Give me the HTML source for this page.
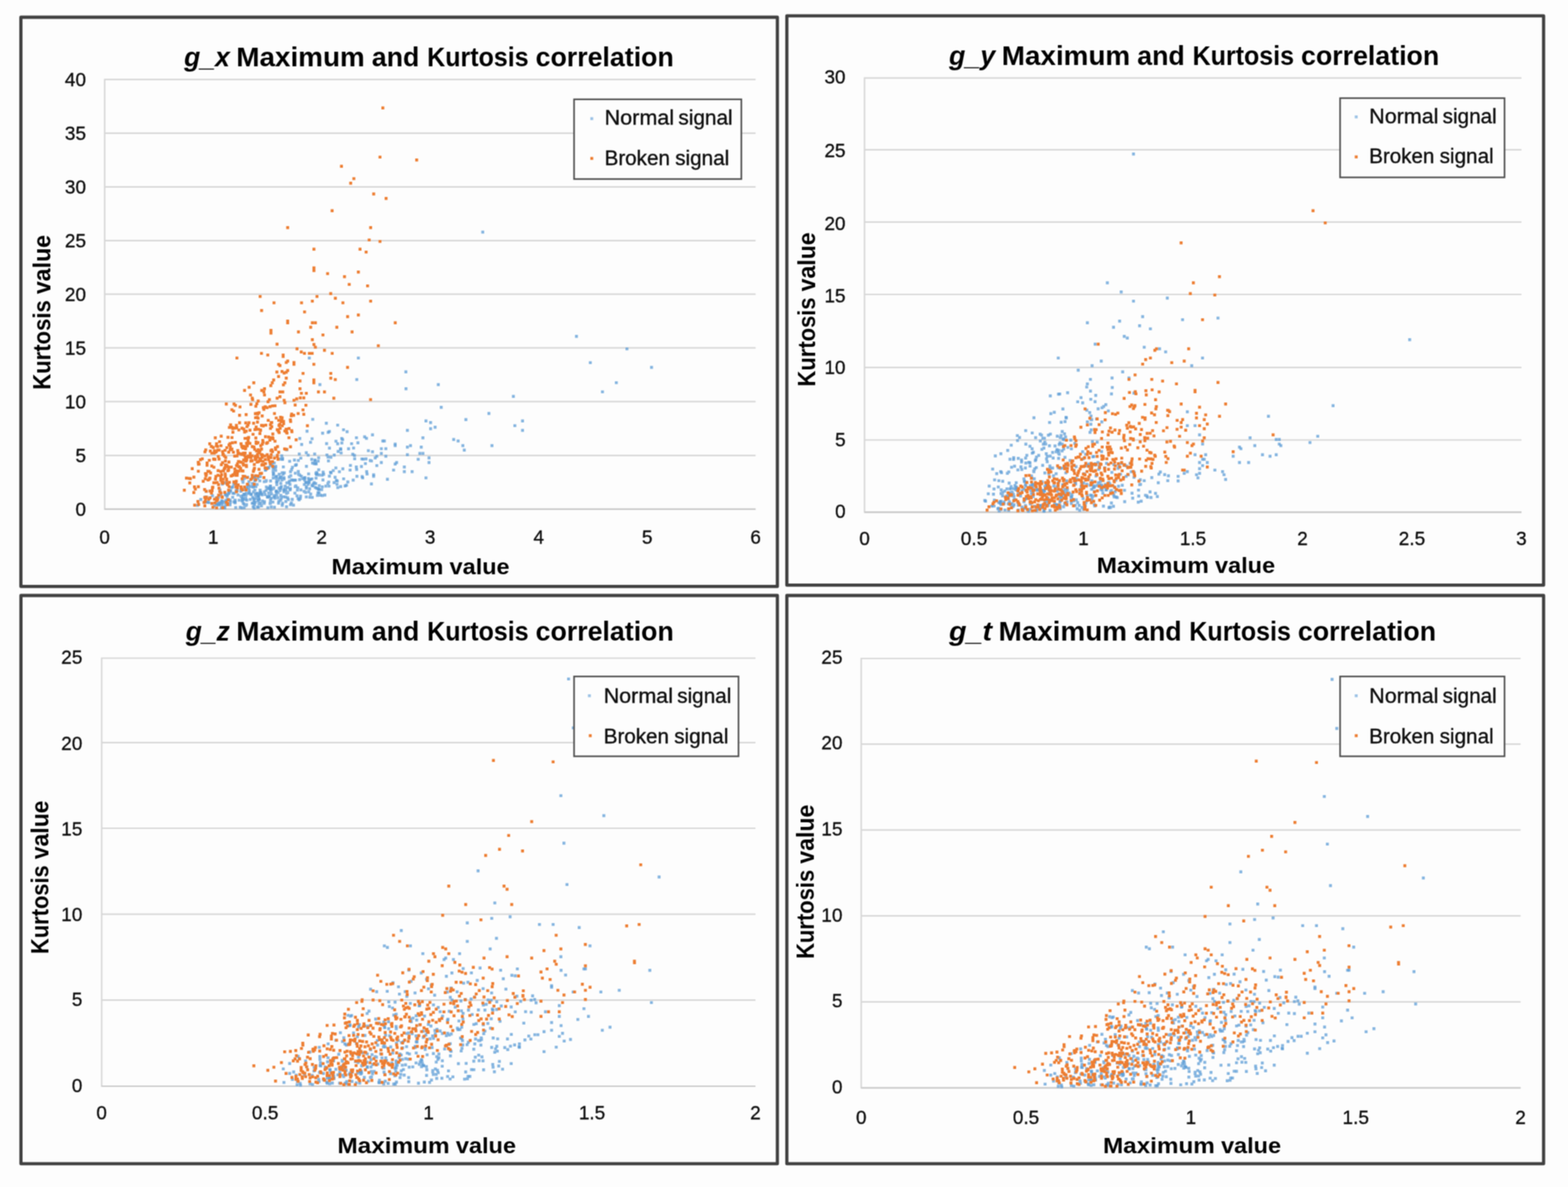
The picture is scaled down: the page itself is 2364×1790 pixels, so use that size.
<!DOCTYPE html>
<html lang="en"><head><meta charset="utf-8"><title>Maximum and Kurtosis correlation</title>
<style>html,body{margin:0;padding:0;background:#fdfdfd;}body{width:2364px;height:1790px;overflow:hidden;}svg{display:block;}text{font-family:'Liberation Sans', Arial, sans-serif;}.t{font-size:40px;font-weight:bold;fill:#000;}.a{font-size:34px;font-weight:bold;fill:#000;}.l{font-size:31px;fill:#0d0d0d;stroke:#0d0d0d;stroke-width:0.5px;}.k{font-size:30px;fill:#0d0d0d;stroke:#0d0d0d;stroke-width:0.45px;}</style></head><body>
<svg width="2364" height="1790" viewBox="0 0 2364 1790">
<defs><filter id="soft" x="0" y="0" width="2364" height="1790" filterUnits="userSpaceOnUse" color-interpolation-filters="sRGB"><feConvolveMatrix order="3" kernelMatrix="1 2 1 2 4 2 1 2 1" divisor="16" edgeMode="duplicate" preserveAlpha="true"/></filter></defs>
<g filter="url(#soft)">
<rect width="2364" height="1790" fill="#fdfdfd"/>
<g id="panel-g_x">
<rect x="31.5" y="26" width="1140.5" height="858.4" fill="#fdfdfd" stroke="#404040" stroke-width="4.8" stroke-linejoin="round"/>
<path d="M157.8 767.8H1139.2M157.8 686.8H1139.2M157.8 605.7H1139.2M157.8 524.7H1139.2M157.8 443.6H1139.2M157.8 362.8H1139.2M157.8 281.8H1139.2M157.8 200.8H1139.2M157.8 119.8H1139.2M157.8 118.7V768.9" stroke="#d6d6d6" stroke-width="2.2" fill="none"/>
<path d="M157.8 767.8H1139.2" stroke="#c8c8c8" stroke-width="2.2" fill="none"/>
<path fill="#5b9bd5" fill-opacity="0.74" d="M423.8 756.8h4.4v4.4h-4.4zM410.5 733.5h4.4v4.4h-4.4zM344.9 752.2h4.4v4.4h-4.4zM390.5 740.4h4.4v4.4h-4.4zM362 746.6h4.4v4.4h-4.4zM321 760.8h4.4v4.4h-4.4zM398.9 737.4h4.4v4.4h-4.4zM435.5 734.6h4.4v4.4h-4.4zM353.8 727.9h4.4v4.4h-4.4zM340 746.4h4.4v4.4h-4.4zM352.2 754.5h4.4v4.4h-4.4zM417.8 756.7h4.4v4.4h-4.4zM405.7 723h4.4v4.4h-4.4zM475.2 710.3h4.4v4.4h-4.4zM388.3 757.7h4.4v4.4h-4.4zM376.5 742.7h4.4v4.4h-4.4zM359.9 762.8h4.4v4.4h-4.4zM530.3 721.8h4.4v4.4h-4.4zM463.3 739.6h4.4v4.4h-4.4zM477.2 740.8h4.4v4.4h-4.4zM500.2 707.4h4.4v4.4h-4.4zM466.2 742.8h4.4v4.4h-4.4zM535.5 705.9h4.4v4.4h-4.4zM458.8 725.6h4.4v4.4h-4.4zM416.8 748.4h4.4v4.4h-4.4zM515.7 645.9h4.4v4.4h-4.4zM426.4 710.8h4.4v4.4h-4.4zM449.5 721h4.4v4.4h-4.4zM532.5 689.7h4.4v4.4h-4.4zM314.3 748.8h4.4v4.4h-4.4zM462.4 684.2h4.4v4.4h-4.4zM386.5 742.3h4.4v4.4h-4.4zM409.8 718.6h4.4v4.4h-4.4zM489.1 730.8h4.4v4.4h-4.4zM405.4 730.8h4.4v4.4h-4.4zM387.5 744.9h4.4v4.4h-4.4zM380.8 751.8h4.4v4.4h-4.4zM485.8 713h4.4v4.4h-4.4zM330.5 755.8h4.4v4.4h-4.4zM475.3 734.1h4.4v4.4h-4.4zM369.2 741.5h4.4v4.4h-4.4zM421.7 748.4h4.4v4.4h-4.4zM392.7 744.1h4.4v4.4h-4.4zM401.6 763.4h4.4v4.4h-4.4zM556 692.3h4.4v4.4h-4.4zM452.6 668h4.4v4.4h-4.4zM518.1 730.5h4.4v4.4h-4.4zM405.6 756.1h4.4v4.4h-4.4zM414.9 716.2h4.4v4.4h-4.4zM397.4 743.5h4.4v4.4h-4.4zM525.6 706.7h4.4v4.4h-4.4zM511.4 731.5h4.4v4.4h-4.4zM414.3 739h4.4v4.4h-4.4zM462.8 719.3h4.4v4.4h-4.4zM551.2 712.7h4.4v4.4h-4.4zM459.6 747.2h4.4v4.4h-4.4zM311 754.9h4.4v4.4h-4.4zM464.6 734.8h4.4v4.4h-4.4zM388.2 756.4h4.4v4.4h-4.4zM340.5 751.2h4.4v4.4h-4.4zM452.2 715.9h4.4v4.4h-4.4zM474.1 711.6h4.4v4.4h-4.4zM507.6 678.5h4.4v4.4h-4.4zM469 696.1h4.4v4.4h-4.4zM386.1 762.5h4.4v4.4h-4.4zM494.5 673.6h4.4v4.4h-4.4zM420.5 718.3h4.4v4.4h-4.4zM478.3 735.5h4.4v4.4h-4.4zM515.9 719.9h4.4v4.4h-4.4zM496.1 709.9h4.4v4.4h-4.4zM399.4 732.2h4.4v4.4h-4.4zM487.6 744.3h4.4v4.4h-4.4zM545.6 690.2h4.4v4.4h-4.4zM529.6 682.8h4.4v4.4h-4.4zM300.5 751.1h4.4v4.4h-4.4zM493.9 730.9h4.4v4.4h-4.4zM468.3 659.4h4.4v4.4h-4.4zM468.5 747.9h4.4v4.4h-4.4zM462.4 728.2h4.4v4.4h-4.4zM405 757h4.4v4.4h-4.4zM361.1 746h4.4v4.4h-4.4zM402.5 746.6h4.4v4.4h-4.4zM427.7 731h4.4v4.4h-4.4zM404.6 733.3h4.4v4.4h-4.4zM396.5 754.2h4.4v4.4h-4.4zM348.6 747.7h4.4v4.4h-4.4zM348.8 732.1h4.4v4.4h-4.4zM435 728.3h4.4v4.4h-4.4zM368.4 748.9h4.4v4.4h-4.4zM332.9 758.9h4.4v4.4h-4.4zM409.2 754.9h4.4v4.4h-4.4zM364.5 756.8h4.4v4.4h-4.4zM443.2 699.6h4.4v4.4h-4.4zM415 744.2h4.4v4.4h-4.4zM380.4 731.2h4.4v4.4h-4.4zM389.6 741.5h4.4v4.4h-4.4zM382.9 755.1h4.4v4.4h-4.4zM409.7 704.4h4.4v4.4h-4.4zM407 749h4.4v4.4h-4.4zM386.5 719.1h4.4v4.4h-4.4zM390 737h4.4v4.4h-4.4zM450.9 746.1h4.4v4.4h-4.4zM373.5 737.2h4.4v4.4h-4.4zM543.8 716.6h4.4v4.4h-4.4zM428.5 747.4h4.4v4.4h-4.4zM367.4 750.9h4.4v4.4h-4.4zM447.3 749.7h4.4v4.4h-4.4zM388.6 750.4h4.4v4.4h-4.4zM474.3 718.9h4.4v4.4h-4.4zM438.6 702.6h4.4v4.4h-4.4zM464.9 747.5h4.4v4.4h-4.4zM501.7 684.1h4.4v4.4h-4.4zM410.2 712h4.4v4.4h-4.4zM476.4 744.8h4.4v4.4h-4.4zM434.4 723.3h4.4v4.4h-4.4zM437.1 756.2h4.4v4.4h-4.4zM408.9 735h4.4v4.4h-4.4zM474.5 697.4h4.4v4.4h-4.4zM466.2 720.9h4.4v4.4h-4.4zM482.8 736.2h4.4v4.4h-4.4zM368.7 744.3h4.4v4.4h-4.4zM378.3 727.1h4.4v4.4h-4.4zM451.4 736.6h4.4v4.4h-4.4zM418.7 734h4.4v4.4h-4.4zM402.9 703.3h4.4v4.4h-4.4zM326.3 759.1h4.4v4.4h-4.4zM342.2 742.1h4.4v4.4h-4.4zM459.6 680.6h4.4v4.4h-4.4zM386.1 741.8h4.4v4.4h-4.4zM507.1 733.2h4.4v4.4h-4.4zM412.3 749.1h4.4v4.4h-4.4zM406.4 735.3h4.4v4.4h-4.4zM421.9 748.9h4.4v4.4h-4.4zM361 738.5h4.4v4.4h-4.4zM375.2 750.9h4.4v4.4h-4.4zM335.3 762.8h4.4v4.4h-4.4zM326 757.6h4.4v4.4h-4.4zM434.5 693.4h4.4v4.4h-4.4zM329.8 758.9h4.4v4.4h-4.4zM420.8 733.3h4.4v4.4h-4.4zM380.6 729.5h4.4v4.4h-4.4zM432.5 751.2h4.4v4.4h-4.4zM372.7 729.2h4.4v4.4h-4.4zM428.8 754.1h4.4v4.4h-4.4zM457.4 718h4.4v4.4h-4.4zM443 711.4h4.4v4.4h-4.4zM456.6 728.4h4.4v4.4h-4.4zM405.4 700h4.4v4.4h-4.4zM423.6 690.5h4.4v4.4h-4.4zM378.7 748h4.4v4.4h-4.4zM337.5 743.3h4.4v4.4h-4.4zM350.3 727.7h4.4v4.4h-4.4zM490.2 666.8h4.4v4.4h-4.4zM403.7 745.8h4.4v4.4h-4.4zM441.7 691.6h4.4v4.4h-4.4zM425.8 736.8h4.4v4.4h-4.4zM372.5 742.2h4.4v4.4h-4.4zM866.9 505.1h4.4v4.4h-4.4zM887.8 544.7h4.4v4.4h-4.4zM480.1 577.8h4.4v4.4h-4.4zM980.1 551.8h4.4v4.4h-4.4zM609.9 584.1h4.4v4.4h-4.4zM734.9 621.3h4.4v4.4h-4.4zM774 639.7h4.4v4.4h-4.4zM647 635.1h4.4v4.4h-4.4zM612 646.8h4.4v4.4h-4.4zM681.8 660.6h4.4v4.4h-4.4zM577.3 662.8h4.4v4.4h-4.4zM593.6 667.4h4.4v4.4h-4.4zM612 672h4.4v4.4h-4.4zM579.5 674.4h4.4v4.4h-4.4zM572.7 681.5h4.4v4.4h-4.4zM612 683.6h4.4v4.4h-4.4zM563.5 688.3h4.4v4.4h-4.4zM557.8 692.9h4.4v4.4h-4.4zM595.8 695.3h4.4v4.4h-4.4zM607.4 702.1h4.4v4.4h-4.4zM619.1 709.1h4.4v4.4h-4.4zM640 718.4h4.4v4.4h-4.4z"/><path fill="#5b9bd5" fill-opacity="0.74" d="M364.2 725.1h4.4v4.4h-4.4zM439.6 722h4.4v4.4h-4.4zM361.5 735.1h4.4v4.4h-4.4zM407.8 698h4.4v4.4h-4.4zM472.9 692.9h4.4v4.4h-4.4zM503 717.5h4.4v4.4h-4.4zM429.9 741.9h4.4v4.4h-4.4zM484.7 721.5h4.4v4.4h-4.4zM373.8 740.6h4.4v4.4h-4.4zM505.9 728.2h4.4v4.4h-4.4zM468.1 719.9h4.4v4.4h-4.4zM526.1 699.7h4.4v4.4h-4.4zM384.8 742.1h4.4v4.4h-4.4zM543.4 689.9h4.4v4.4h-4.4zM463 724.6h4.4v4.4h-4.4zM338.7 758.4h4.4v4.4h-4.4zM478.8 736.2h4.4v4.4h-4.4zM504.3 663.2h4.4v4.4h-4.4zM338.1 759.4h4.4v4.4h-4.4zM448 713.1h4.4v4.4h-4.4zM392 760.5h4.4v4.4h-4.4zM338.2 752.6h4.4v4.4h-4.4zM356.6 744.2h4.4v4.4h-4.4zM398.3 706.4h4.4v4.4h-4.4zM548.7 696.9h4.4v4.4h-4.4zM550.3 658.8h4.4v4.4h-4.4zM414.7 724.7h4.4v4.4h-4.4zM473.8 727h4.4v4.4h-4.4zM423.2 710.8h4.4v4.4h-4.4zM338.1 726.1h4.4v4.4h-4.4zM423.8 688.9h4.4v4.4h-4.4zM399.3 722.4h4.4v4.4h-4.4zM421.2 744.7h4.4v4.4h-4.4zM424.5 712.9h4.4v4.4h-4.4zM370 752h4.4v4.4h-4.4zM365.9 763.4h4.4v4.4h-4.4zM336.8 763.5h4.4v4.4h-4.4zM513.2 665.8h4.4v4.4h-4.4zM431.6 733.1h4.4v4.4h-4.4zM459.8 701h4.4v4.4h-4.4zM473.1 732.9h4.4v4.4h-4.4zM345.3 738h4.4v4.4h-4.4zM369.5 758.8h4.4v4.4h-4.4zM446.2 736.8h4.4v4.4h-4.4zM480.6 744.6h4.4v4.4h-4.4zM383 721.6h4.4v4.4h-4.4zM484.2 651h4.4v4.4h-4.4zM429.3 738.9h4.4v4.4h-4.4zM398.6 723.7h4.4v4.4h-4.4zM364.3 720.3h4.4v4.4h-4.4zM391.9 742.5h4.4v4.4h-4.4zM535.9 716.1h4.4v4.4h-4.4zM496.7 687.3h4.4v4.4h-4.4zM404.6 735.1h4.4v4.4h-4.4zM443.2 721.9h4.4v4.4h-4.4zM344.6 759.1h4.4v4.4h-4.4zM506.3 723.2h4.4v4.4h-4.4zM522.2 724.5h4.4v4.4h-4.4zM344.5 737.9h4.4v4.4h-4.4zM421 735h4.4v4.4h-4.4zM396.2 739.6h4.4v4.4h-4.4zM368.4 760.2h4.4v4.4h-4.4zM355.5 737.9h4.4v4.4h-4.4zM364.4 745.3h4.4v4.4h-4.4zM389.5 722.9h4.4v4.4h-4.4zM431.5 748.5h4.4v4.4h-4.4zM365.2 718.6h4.4v4.4h-4.4zM383.6 731.7h4.4v4.4h-4.4zM378.1 756.7h4.4v4.4h-4.4zM381.6 717.2h4.4v4.4h-4.4zM506.9 638.9h4.4v4.4h-4.4zM449.7 714.3h4.4v4.4h-4.4zM396.2 724.2h4.4v4.4h-4.4zM380.1 739.5h4.4v4.4h-4.4zM448.7 751.6h4.4v4.4h-4.4zM459.8 731.4h4.4v4.4h-4.4zM308.8 738.8h4.4v4.4h-4.4zM348.9 741.7h4.4v4.4h-4.4zM470.3 727.8h4.4v4.4h-4.4zM421 752.2h4.4v4.4h-4.4zM478.9 714h4.4v4.4h-4.4zM341 726.4h4.4v4.4h-4.4zM501.5 725.5h4.4v4.4h-4.4zM535.2 657.9h4.4v4.4h-4.4zM413.6 701.3h4.4v4.4h-4.4zM411.8 745.1h4.4v4.4h-4.4zM387 752.6h4.4v4.4h-4.4zM425.9 718.2h4.4v4.4h-4.4zM456.8 719h4.4v4.4h-4.4zM435.8 709.1h4.4v4.4h-4.4zM327.2 747.5h4.4v4.4h-4.4zM371.6 730.8h4.4v4.4h-4.4zM478.3 706.2h4.4v4.4h-4.4zM431.7 740.5h4.4v4.4h-4.4zM426 739.4h4.4v4.4h-4.4zM514.7 704.8h4.4v4.4h-4.4zM458.5 740.3h4.4v4.4h-4.4zM496.9 710.9h4.4v4.4h-4.4zM475.1 713.8h4.4v4.4h-4.4zM362.7 763.7h4.4v4.4h-4.4zM494.4 715.8h4.4v4.4h-4.4zM437.4 706.1h4.4v4.4h-4.4zM387.7 743.6h4.4v4.4h-4.4zM438.3 751h4.4v4.4h-4.4zM401.5 747.7h4.4v4.4h-4.4zM423.8 689.5h4.4v4.4h-4.4zM327.6 758.9h4.4v4.4h-4.4zM401.2 734.8h4.4v4.4h-4.4zM492.6 649.8h4.4v4.4h-4.4zM419.9 737.7h4.4v4.4h-4.4zM456.3 738.8h4.4v4.4h-4.4zM363.6 751.6h4.4v4.4h-4.4zM396.1 756.9h4.4v4.4h-4.4zM418.7 713.1h4.4v4.4h-4.4zM363.5 722.3h4.4v4.4h-4.4zM483.8 731.9h4.4v4.4h-4.4zM308.1 755.2h4.4v4.4h-4.4zM446.8 733.4h4.4v4.4h-4.4zM542.7 701.3h4.4v4.4h-4.4zM324.1 752.1h4.4v4.4h-4.4zM387.2 746.1h4.4v4.4h-4.4zM514.4 660.7h4.4v4.4h-4.4zM478.9 741.2h4.4v4.4h-4.4zM447.5 708.7h4.4v4.4h-4.4zM411.5 762.8h4.4v4.4h-4.4zM511.3 674.5h4.4v4.4h-4.4zM473.6 696h4.4v4.4h-4.4zM550.6 709.1h4.4v4.4h-4.4zM532.2 684.5h4.4v4.4h-4.4zM467.8 690.6h4.4v4.4h-4.4zM438.4 750.8h4.4v4.4h-4.4zM358.4 752.2h4.4v4.4h-4.4zM366.1 743h4.4v4.4h-4.4zM444.6 698.6h4.4v4.4h-4.4zM422 731.4h4.4v4.4h-4.4zM366.3 719.1h4.4v4.4h-4.4zM366.3 758.6h4.4v4.4h-4.4zM414.7 740.1h4.4v4.4h-4.4zM381.2 764.2h4.4v4.4h-4.4zM376.5 743.7h4.4v4.4h-4.4zM332.9 754.1h4.4v4.4h-4.4zM391.3 756.4h4.4v4.4h-4.4zM352.2 756h4.4v4.4h-4.4zM381.6 759h4.4v4.4h-4.4zM489.8 636h4.4v4.4h-4.4zM451.3 688.7h4.4v4.4h-4.4zM372.5 733.8h4.4v4.4h-4.4zM379.5 732.4h4.4v4.4h-4.4zM393.3 753.2h4.4v4.4h-4.4zM422.6 685.3h4.4v4.4h-4.4zM364.5 750h4.4v4.4h-4.4zM385.4 728.4h4.4v4.4h-4.4zM417.3 740.3h4.4v4.4h-4.4zM509.5 709.2h4.4v4.4h-4.4zM382 737h4.4v4.4h-4.4zM469.8 730.6h4.4v4.4h-4.4zM553.2 677.4h4.4v4.4h-4.4zM464.1 537.7h4.4v4.4h-4.4zM609.7 558.5h4.4v4.4h-4.4zM658.6 577.8h4.4v4.4h-4.4zM927 574.9h4.4v4.4h-4.4zM771.8 595.5h4.4v4.4h-4.4zM700.2 630.5h4.4v4.4h-4.4zM785.6 646.8h4.4v4.4h-4.4zM653.8 642.1h4.4v4.4h-4.4zM559.4 653.5h4.4v4.4h-4.4zM688.5 662.8h4.4v4.4h-4.4zM695.6 669.8h4.4v4.4h-4.4zM593.6 669.8h4.4v4.4h-4.4zM632.9 672h4.4v4.4h-4.4zM697.8 676.6h4.4v4.4h-4.4zM630.8 681.5h4.4v4.4h-4.4zM579.5 685.8h4.4v4.4h-4.4zM644.6 688.3h4.4v4.4h-4.4zM572.7 695.3h4.4v4.4h-4.4zM593.6 697.5h4.4v4.4h-4.4zM591.2 706.7h4.4v4.4h-4.4zM561.1 713.7h4.4v4.4h-4.4zM581.9 720.5h4.4v4.4h-4.4z"/><path fill="#5b9bd5" fill-opacity="0.74" d="M405.4 731.3h4.4v4.4h-4.4zM469.3 630.2h4.4v4.4h-4.4zM426 720.2h4.4v4.4h-4.4zM403.4 746.9h4.4v4.4h-4.4zM466 664.8h4.4v4.4h-4.4zM415.2 728.6h4.4v4.4h-4.4zM537.4 665.5h4.4v4.4h-4.4zM472.2 682.4h4.4v4.4h-4.4zM493.4 724.7h4.4v4.4h-4.4zM363 749.9h4.4v4.4h-4.4zM351 741.8h4.4v4.4h-4.4zM477.5 734.9h4.4v4.4h-4.4zM338.3 744.1h4.4v4.4h-4.4zM381.8 717h4.4v4.4h-4.4zM411.2 695.9h4.4v4.4h-4.4zM387.4 762.4h4.4v4.4h-4.4zM405.8 738.3h4.4v4.4h-4.4zM449.8 659.1h4.4v4.4h-4.4zM417.7 719.9h4.4v4.4h-4.4zM457.1 721.9h4.4v4.4h-4.4zM433.9 717h4.4v4.4h-4.4zM523.3 674.5h4.4v4.4h-4.4zM460.7 648.1h4.4v4.4h-4.4zM328.4 756.1h4.4v4.4h-4.4zM483.8 745.1h4.4v4.4h-4.4zM382.6 743.3h4.4v4.4h-4.4zM345.1 755.1h4.4v4.4h-4.4zM430.2 676.1h4.4v4.4h-4.4zM345 738h4.4v4.4h-4.4zM420.2 717.8h4.4v4.4h-4.4zM387.7 747.1h4.4v4.4h-4.4zM449 682.4h4.4v4.4h-4.4zM406.6 762.3h4.4v4.4h-4.4zM430.3 726h4.4v4.4h-4.4zM442.1 721.8h4.4v4.4h-4.4zM373.1 724.3h4.4v4.4h-4.4zM350.5 754.5h4.4v4.4h-4.4zM365.6 743.4h4.4v4.4h-4.4zM432.7 725.6h4.4v4.4h-4.4zM468.1 729.8h4.4v4.4h-4.4zM442.9 731.7h4.4v4.4h-4.4zM330.7 743.9h4.4v4.4h-4.4zM411.1 702.3h4.4v4.4h-4.4zM454.2 719.7h4.4v4.4h-4.4zM414.4 738.2h4.4v4.4h-4.4zM436.2 715.2h4.4v4.4h-4.4zM406.2 737.8h4.4v4.4h-4.4zM428.5 735.4h4.4v4.4h-4.4zM421.6 717h4.4v4.4h-4.4zM353.2 763.2h4.4v4.4h-4.4zM472.6 691.5h4.4v4.4h-4.4zM363 753.3h4.4v4.4h-4.4zM442.4 741.4h4.4v4.4h-4.4zM443.9 730.5h4.4v4.4h-4.4zM323.6 748.8h4.4v4.4h-4.4zM483.3 714.4h4.4v4.4h-4.4zM492.2 726.9h4.4v4.4h-4.4zM464 725.3h4.4v4.4h-4.4zM411.1 747.2h4.4v4.4h-4.4zM471.4 725.6h4.4v4.4h-4.4zM346.7 733.2h4.4v4.4h-4.4zM419.6 690.1h4.4v4.4h-4.4zM421.1 726.6h4.4v4.4h-4.4zM382 722.9h4.4v4.4h-4.4zM383.8 746.9h4.4v4.4h-4.4zM492.5 686.9h4.4v4.4h-4.4zM307.3 747.3h4.4v4.4h-4.4zM404.9 734.1h4.4v4.4h-4.4zM485 709.8h4.4v4.4h-4.4zM379.7 756.9h4.4v4.4h-4.4zM475.7 712.1h4.4v4.4h-4.4zM390.2 716.5h4.4v4.4h-4.4zM406 734.7h4.4v4.4h-4.4zM371.3 717.4h4.4v4.4h-4.4zM414.5 719.7h4.4v4.4h-4.4zM413.6 716.8h4.4v4.4h-4.4zM332.2 753.1h4.4v4.4h-4.4zM380.7 749.7h4.4v4.4h-4.4zM435.1 736.6h4.4v4.4h-4.4zM530.9 673.4h4.4v4.4h-4.4zM324 758.4h4.4v4.4h-4.4zM493 692.9h4.4v4.4h-4.4zM512.1 680.9h4.4v4.4h-4.4zM459.7 734h4.4v4.4h-4.4zM352.2 752.1h4.4v4.4h-4.4zM409.9 713.5h4.4v4.4h-4.4zM463.1 712.4h4.4v4.4h-4.4zM423 721.5h4.4v4.4h-4.4zM329.4 736.8h4.4v4.4h-4.4zM504.9 722.3h4.4v4.4h-4.4zM511.5 675.5h4.4v4.4h-4.4zM437.6 721.6h4.4v4.4h-4.4zM425.4 746.9h4.4v4.4h-4.4zM376.1 731.6h4.4v4.4h-4.4zM477.5 693.2h4.4v4.4h-4.4zM388.3 751.2h4.4v4.4h-4.4zM403.8 733.7h4.4v4.4h-4.4zM403 741.3h4.4v4.4h-4.4zM340.7 744.2h4.4v4.4h-4.4zM343 741.3h4.4v4.4h-4.4zM329.6 756.6h4.4v4.4h-4.4zM390.7 740h4.4v4.4h-4.4zM342.6 751.2h4.4v4.4h-4.4zM478.2 688.2h4.4v4.4h-4.4zM492.4 687.2h4.4v4.4h-4.4zM379.5 762h4.4v4.4h-4.4zM409.6 708.8h4.4v4.4h-4.4zM429.8 762h4.4v4.4h-4.4zM459.1 725.3h4.4v4.4h-4.4zM417.8 721.6h4.4v4.4h-4.4zM377 719.9h4.4v4.4h-4.4zM353.8 737.5h4.4v4.4h-4.4zM397.9 706.9h4.4v4.4h-4.4zM549.6 689.8h4.4v4.4h-4.4zM331.6 763.4h4.4v4.4h-4.4zM413.4 707.2h4.4v4.4h-4.4zM400.8 746.8h4.4v4.4h-4.4zM506.9 667.1h4.4v4.4h-4.4zM367.3 736.4h4.4v4.4h-4.4zM415.6 723.9h4.4v4.4h-4.4zM521.1 648.8h4.4v4.4h-4.4zM423.3 759.8h4.4v4.4h-4.4zM333 727.9h4.4v4.4h-4.4zM547.5 656.5h4.4v4.4h-4.4zM450.5 749.5h4.4v4.4h-4.4zM312.7 755.7h4.4v4.4h-4.4zM535 702h4.4v4.4h-4.4zM479.2 730.3h4.4v4.4h-4.4zM544.6 718.4h4.4v4.4h-4.4zM447.5 692.2h4.4v4.4h-4.4zM336.1 755.1h4.4v4.4h-4.4zM412.8 704.8h4.4v4.4h-4.4zM490.7 683.9h4.4v4.4h-4.4zM527.9 666.9h4.4v4.4h-4.4zM401.8 703.1h4.4v4.4h-4.4zM405.6 751.7h4.4v4.4h-4.4zM426.9 735.4h4.4v4.4h-4.4zM513 659h4.4v4.4h-4.4zM332.3 755.6h4.4v4.4h-4.4zM520.2 729.5h4.4v4.4h-4.4zM380.7 754.7h4.4v4.4h-4.4zM445.6 745.6h4.4v4.4h-4.4zM471.7 697.2h4.4v4.4h-4.4zM494.4 648.4h4.4v4.4h-4.4zM369.5 733.5h4.4v4.4h-4.4zM504.2 703.4h4.4v4.4h-4.4zM440.3 759.5h4.4v4.4h-4.4zM318.1 745.3h4.4v4.4h-4.4zM435.8 758.8h4.4v4.4h-4.4zM464.2 721.4h4.4v4.4h-4.4zM384.7 749.5h4.4v4.4h-4.4zM343.6 740.2h4.4v4.4h-4.4zM295.6 759.9h4.4v4.4h-4.4zM407.1 742.8h4.4v4.4h-4.4zM418.2 753.6h4.4v4.4h-4.4zM425 701.9h4.4v4.4h-4.4zM725.6 347.8h4.4v4.4h-4.4zM538.1 537.7h4.4v4.4h-4.4zM535.7 570.2h4.4v4.4h-4.4zM943 523.9h4.4v4.4h-4.4zM906.1 588.7h4.4v4.4h-4.4zM663 612h4.4v4.4h-4.4zM785.6 632.6h4.4v4.4h-4.4zM640 632.6h4.4v4.4h-4.4zM647 644.3h4.4v4.4h-4.4zM635.4 658.1h4.4v4.4h-4.4zM574.9 662.8h4.4v4.4h-4.4zM739.5 669.8h4.4v4.4h-4.4zM616.7 669.8h4.4v4.4h-4.4zM572.7 674.4h4.4v4.4h-4.4zM559.4 679h4.4v4.4h-4.4zM635.4 681.5h4.4v4.4h-4.4zM565.9 685.8h4.4v4.4h-4.4zM628.3 690.4h4.4v4.4h-4.4zM644.6 695.3h4.4v4.4h-4.4zM565.9 699.9h4.4v4.4h-4.4zM607.4 709.1h4.4v4.4h-4.4zM561.1 716.2h4.4v4.4h-4.4zM557.8 727.6h4.4v4.4h-4.4z"/>
<path fill="#ed7d31" d="M331.3 655.5h4.4v4.4h-4.4zM406.6 683.4h4.4v4.4h-4.4zM347.4 615.7h4.4v4.4h-4.4zM397.1 685.4h4.4v4.4h-4.4zM324.4 753h4.4v4.4h-4.4zM284.8 719.6h4.4v4.4h-4.4zM390 711.8h4.4v4.4h-4.4zM430.5 650.9h4.4v4.4h-4.4zM316.5 741.3h4.4v4.4h-4.4zM361.2 667h4.4v4.4h-4.4zM341.4 707.7h4.4v4.4h-4.4zM352.8 727.2h4.4v4.4h-4.4zM306.5 748h4.4v4.4h-4.4zM356.6 681.8h4.4v4.4h-4.4zM308 676.2h4.4v4.4h-4.4zM390.5 689.2h4.4v4.4h-4.4zM342.9 694.5h4.4v4.4h-4.4zM307.8 749.6h4.4v4.4h-4.4zM376.1 687.9h4.4v4.4h-4.4zM334.6 707.8h4.4v4.4h-4.4zM331.5 698.5h4.4v4.4h-4.4zM336.9 703.6h4.4v4.4h-4.4zM370.7 728h4.4v4.4h-4.4zM359.6 611.4h4.4v4.4h-4.4zM414.3 628.2h4.4v4.4h-4.4zM362.7 707.8h4.4v4.4h-4.4zM345.1 671.4h4.4v4.4h-4.4zM368.9 623.1h4.4v4.4h-4.4zM333.4 678.8h4.4v4.4h-4.4zM402.1 686.6h4.4v4.4h-4.4zM328 734.1h4.4v4.4h-4.4zM397.8 690.8h4.4v4.4h-4.4zM373.2 635.3h4.4v4.4h-4.4zM371.6 638.7h4.4v4.4h-4.4zM364.7 681.3h4.4v4.4h-4.4zM311.5 721.7h4.4v4.4h-4.4zM314.9 678.1h4.4v4.4h-4.4zM310 699.3h4.4v4.4h-4.4zM347.5 657.7h4.4v4.4h-4.4zM395.7 718h4.4v4.4h-4.4zM417 690.3h4.4v4.4h-4.4zM307.3 719.9h4.4v4.4h-4.4zM318.1 733.1h4.4v4.4h-4.4zM341 757.1h4.4v4.4h-4.4zM351.6 685.6h4.4v4.4h-4.4zM423.1 627.8h4.4v4.4h-4.4zM435.6 631.1h4.4v4.4h-4.4zM407.5 635.1h4.4v4.4h-4.4zM322.6 720.3h4.4v4.4h-4.4zM369.8 690.8h4.4v4.4h-4.4zM305.4 755.4h4.4v4.4h-4.4zM342.4 702.6h4.4v4.4h-4.4zM387 628.4h4.4v4.4h-4.4zM341.1 758.8h4.4v4.4h-4.4zM332.6 725h4.4v4.4h-4.4zM379.3 652.7h4.4v4.4h-4.4zM409 701h4.4v4.4h-4.4zM364.4 715.9h4.4v4.4h-4.4zM379.8 708.6h4.4v4.4h-4.4zM365.3 644.8h4.4v4.4h-4.4zM328.1 676.6h4.4v4.4h-4.4zM374.7 646.5h4.4v4.4h-4.4zM363.3 736.6h4.4v4.4h-4.4zM351.2 712.6h4.4v4.4h-4.4zM367.9 674.5h4.4v4.4h-4.4zM387.5 645.2h4.4v4.4h-4.4zM336.7 740.3h4.4v4.4h-4.4zM314.3 718.8h4.4v4.4h-4.4zM406.3 677.4h4.4v4.4h-4.4zM324.1 678.4h4.4v4.4h-4.4zM356.3 677.3h4.4v4.4h-4.4zM342.6 679.6h4.4v4.4h-4.4zM416 684.5h4.4v4.4h-4.4zM306.8 679.2h4.4v4.4h-4.4zM459 608.9h4.4v4.4h-4.4zM334.4 683.1h4.4v4.4h-4.4zM384.3 685.8h4.4v4.4h-4.4zM366.9 716.2h4.4v4.4h-4.4zM334.3 725.2h4.4v4.4h-4.4zM386.8 665.3h4.4v4.4h-4.4zM420.8 627h4.4v4.4h-4.4zM419.7 637.5h4.4v4.4h-4.4zM352 710.1h4.4v4.4h-4.4zM383.1 627.7h4.4v4.4h-4.4zM362.3 670.4h4.4v4.4h-4.4zM321.6 725.9h4.4v4.4h-4.4zM326 671.1h4.4v4.4h-4.4zM361.5 734.4h4.4v4.4h-4.4zM349 649.6h4.4v4.4h-4.4zM330.7 716h4.4v4.4h-4.4zM408.7 609.9h4.4v4.4h-4.4zM330.6 720h4.4v4.4h-4.4zM421.9 633.5h4.4v4.4h-4.4zM380.2 636h4.4v4.4h-4.4zM389.4 690.5h4.4v4.4h-4.4zM339.3 699.4h4.4v4.4h-4.4zM366.5 732.2h4.4v4.4h-4.4zM394.4 693.4h4.4v4.4h-4.4zM376.1 693.1h4.4v4.4h-4.4zM429.2 645h4.4v4.4h-4.4zM327.4 744.4h4.4v4.4h-4.4zM389 679.2h4.4v4.4h-4.4zM345.5 638.5h4.4v4.4h-4.4zM353.5 732.1h4.4v4.4h-4.4zM354.4 699.9h4.4v4.4h-4.4zM319.3 672.5h4.4v4.4h-4.4zM369.5 666.3h4.4v4.4h-4.4zM351.9 643.3h4.4v4.4h-4.4zM337.4 716.7h4.4v4.4h-4.4zM436.9 624.9h4.4v4.4h-4.4zM385.7 621.1h4.4v4.4h-4.4zM394.8 612.6h4.4v4.4h-4.4zM328.8 663.9h4.4v4.4h-4.4zM427.3 647.7h4.4v4.4h-4.4zM437.6 647.2h4.4v4.4h-4.4zM372.7 657.6h4.4v4.4h-4.4zM409.1 652.3h4.4v4.4h-4.4zM343.6 725.2h4.4v4.4h-4.4zM378.2 671.3h4.4v4.4h-4.4zM368.8 736.6h4.4v4.4h-4.4zM405 611.1h4.4v4.4h-4.4zM357.7 681.2h4.4v4.4h-4.4zM408.6 678.9h4.4v4.4h-4.4zM357.9 646.2h4.4v4.4h-4.4zM335.9 704.7h4.4v4.4h-4.4zM412.4 609.7h4.4v4.4h-4.4zM374.6 666.4h4.4v4.4h-4.4zM461.3 639.8h4.4v4.4h-4.4zM283.9 726.1h4.4v4.4h-4.4zM376.1 607.5h4.4v4.4h-4.4zM353.6 707.8h4.4v4.4h-4.4zM358 708.2h4.4v4.4h-4.4zM326.9 686.2h4.4v4.4h-4.4zM397.6 611.3h4.4v4.4h-4.4zM392.1 675.1h4.4v4.4h-4.4zM320.9 681h4.4v4.4h-4.4zM371.8 661.1h4.4v4.4h-4.4zM338.1 687.8h4.4v4.4h-4.4zM386 683.3h4.4v4.4h-4.4zM355.3 714.6h4.4v4.4h-4.4zM371.3 666.1h4.4v4.4h-4.4zM388.4 620.2h4.4v4.4h-4.4zM368.3 672.9h4.4v4.4h-4.4zM372.3 665.6h4.4v4.4h-4.4zM314.4 738.3h4.4v4.4h-4.4zM387.7 679.6h4.4v4.4h-4.4zM382.6 690.8h4.4v4.4h-4.4zM383.9 665.9h4.4v4.4h-4.4zM337.5 715.2h4.4v4.4h-4.4zM353.8 714.7h4.4v4.4h-4.4zM287.6 704.5h4.4v4.4h-4.4zM388.3 705.6h4.4v4.4h-4.4zM349.7 679.7h4.4v4.4h-4.4zM413.4 675.6h4.4v4.4h-4.4zM342.4 706.7h4.4v4.4h-4.4zM386 634.3h4.4v4.4h-4.4zM367.3 681h4.4v4.4h-4.4zM314 667h4.4v4.4h-4.4zM447.3 621.4h4.4v4.4h-4.4zM306.6 760.6h4.4v4.4h-4.4zM360.2 703.9h4.4v4.4h-4.4zM420.2 643.8h4.4v4.4h-4.4zM367.2 658.9h4.4v4.4h-4.4zM364.3 696.6h4.4v4.4h-4.4zM422.8 631.7h4.4v4.4h-4.4zM377.8 692.6h4.4v4.4h-4.4zM339.8 672.9h4.4v4.4h-4.4zM421 631.9h4.4v4.4h-4.4zM406.7 634.9h4.4v4.4h-4.4zM409.3 659.6h4.4v4.4h-4.4zM370.6 717.9h4.4v4.4h-4.4zM336.1 685.4h4.4v4.4h-4.4zM357.3 693.8h4.4v4.4h-4.4zM394.6 640h4.4v4.4h-4.4zM352.7 664.9h4.4v4.4h-4.4zM406.5 658h4.4v4.4h-4.4zM383.9 664.2h4.4v4.4h-4.4zM433.6 644h4.4v4.4h-4.4zM405.5 697.1h4.4v4.4h-4.4zM370.8 667.6h4.4v4.4h-4.4zM329.1 739.2h4.4v4.4h-4.4zM362.6 643.6h4.4v4.4h-4.4zM404.6 694.3h4.4v4.4h-4.4zM382.2 645.6h4.4v4.4h-4.4zM454.6 615.9h4.4v4.4h-4.4zM318.8 762.7h4.4v4.4h-4.4zM383.1 686.1h4.4v4.4h-4.4zM313.4 691.9h4.4v4.4h-4.4zM291.3 759.5h4.4v4.4h-4.4zM310 695.9h4.4v4.4h-4.4zM354.3 739.3h4.4v4.4h-4.4zM316.7 740.3h4.4v4.4h-4.4zM326 751.2h4.4v4.4h-4.4zM354 723.6h4.4v4.4h-4.4zM393.3 698.2h4.4v4.4h-4.4zM378.1 714.6h4.4v4.4h-4.4zM384.4 666.6h4.4v4.4h-4.4zM433.4 657.9h4.4v4.4h-4.4zM306.3 736h4.4v4.4h-4.4zM368.3 635.6h4.4v4.4h-4.4zM348.9 714.5h4.4v4.4h-4.4zM302.8 689.7h4.4v4.4h-4.4zM300.1 691.1h4.4v4.4h-4.4zM380.7 706.2h4.4v4.4h-4.4zM383.4 721.2h4.4v4.4h-4.4zM395.4 698.6h4.4v4.4h-4.4zM296.7 695.1h4.4v4.4h-4.4zM435.8 671.6h4.4v4.4h-4.4zM390.7 646.8h4.4v4.4h-4.4zM381.1 728h4.4v4.4h-4.4zM339.4 720.3h4.4v4.4h-4.4zM408.7 693.9h4.4v4.4h-4.4zM333.9 683.3h4.4v4.4h-4.4zM296.2 754h4.4v4.4h-4.4zM317.6 737.6h4.4v4.4h-4.4zM399.7 666.3h4.4v4.4h-4.4zM442.8 608.5h4.4v4.4h-4.4zM369.4 701.3h4.4v4.4h-4.4zM309 712.8h4.4v4.4h-4.4zM371.6 658.6h4.4v4.4h-4.4zM386.3 686.8h4.4v4.4h-4.4zM360.6 704.6h4.4v4.4h-4.4zM425.3 633.2h4.4v4.4h-4.4zM345 676h4.4v4.4h-4.4zM455.8 622.6h4.4v4.4h-4.4zM343.6 642.4h4.4v4.4h-4.4zM323.3 716.3h4.4v4.4h-4.4zM367.9 686.9h4.4v4.4h-4.4zM382.5 688.1h4.4v4.4h-4.4zM326.2 676.5h4.4v4.4h-4.4zM369.1 699.4h4.4v4.4h-4.4zM331.9 713.6h4.4v4.4h-4.4zM355.3 700.1h4.4v4.4h-4.4zM355.7 733.6h4.4v4.4h-4.4zM355.6 711.2h4.4v4.4h-4.4zM278.9 718.8h4.4v4.4h-4.4zM392.6 699.2h4.4v4.4h-4.4zM311.3 708.5h4.4v4.4h-4.4zM298 697.5h4.4v4.4h-4.4zM343.3 731.8h4.4v4.4h-4.4zM304.2 723.5h4.4v4.4h-4.4zM347.4 675h4.4v4.4h-4.4zM393.1 625h4.4v4.4h-4.4zM337.7 699h4.4v4.4h-4.4zM417.5 648h4.4v4.4h-4.4zM386.7 715.5h4.4v4.4h-4.4zM395.6 615.1h4.4v4.4h-4.4zM348.1 665.5h4.4v4.4h-4.4zM307.2 754h4.4v4.4h-4.4zM337.6 693h4.4v4.4h-4.4zM317.2 757h4.4v4.4h-4.4zM378 685.2h4.4v4.4h-4.4zM385.5 694.7h4.4v4.4h-4.4zM297.3 758.6h4.4v4.4h-4.4zM402.6 690.9h4.4v4.4h-4.4zM398 656.3h4.4v4.4h-4.4zM361 682.2h4.4v4.4h-4.4zM333 747.8h4.4v4.4h-4.4zM375.1 681.5h4.4v4.4h-4.4zM390.7 692.5h4.4v4.4h-4.4zM361 694.8h4.4v4.4h-4.4zM393.4 684h4.4v4.4h-4.4zM327.3 728.6h4.4v4.4h-4.4zM370.6 670.1h4.4v4.4h-4.4zM402.6 686.9h4.4v4.4h-4.4zM331 741.3h4.4v4.4h-4.4zM371.8 665h4.4v4.4h-4.4zM275.7 737.1h4.4v4.4h-4.4zM324.4 763.7h4.4v4.4h-4.4zM408.7 657.8h4.4v4.4h-4.4zM365.2 691.5h4.4v4.4h-4.4zM317.1 700.5h4.4v4.4h-4.4zM418 631.7h4.4v4.4h-4.4zM308.3 715.4h4.4v4.4h-4.4zM428.3 675.3h4.4v4.4h-4.4zM381.2 698.3h4.4v4.4h-4.4zM359 635.3h4.4v4.4h-4.4zM315.3 711h4.4v4.4h-4.4zM416.2 671.3h4.4v4.4h-4.4zM383.5 658.3h4.4v4.4h-4.4zM400.2 704.5h4.4v4.4h-4.4zM411.6 688.6h4.4v4.4h-4.4zM328.1 690h4.4v4.4h-4.4zM402.8 656.8h4.4v4.4h-4.4zM358.3 694.1h4.4v4.4h-4.4zM321.2 750.7h4.4v4.4h-4.4zM389.6 651.5h4.4v4.4h-4.4zM366.4 684.3h4.4v4.4h-4.4zM341.5 657.3h4.4v4.4h-4.4zM440.5 624h4.4v4.4h-4.4zM416 686.1h4.4v4.4h-4.4zM397.5 703.3h4.4v4.4h-4.4zM385.3 627.2h4.4v4.4h-4.4zM392 683.2h4.4v4.4h-4.4zM369.8 690h4.4v4.4h-4.4zM406.2 687.9h4.4v4.4h-4.4zM314.6 748.4h4.4v4.4h-4.4zM324.3 667.1h4.4v4.4h-4.4zM290.1 717.3h4.4v4.4h-4.4zM354.1 709.1h4.4v4.4h-4.4zM292.3 735.3h4.4v4.4h-4.4zM355.4 712.1h4.4v4.4h-4.4zM349 713.9h4.4v4.4h-4.4zM368.6 693h4.4v4.4h-4.4zM331 669.9h4.4v4.4h-4.4zM409.4 659.3h4.4v4.4h-4.4zM320.2 725.8h4.4v4.4h-4.4zM324.1 670.1h4.4v4.4h-4.4zM429.3 649.2h4.4v4.4h-4.4zM340.9 701.3h4.4v4.4h-4.4zM343.1 668.8h4.4v4.4h-4.4zM322.4 658h4.4v4.4h-4.4zM404.6 661.5h4.4v4.4h-4.4zM359 624.1h4.4v4.4h-4.4zM380.7 672h4.4v4.4h-4.4zM297 697.8h4.4v4.4h-4.4zM384 641.7h4.4v4.4h-4.4zM357.7 701.8h4.4v4.4h-4.4zM430 675.4h4.4v4.4h-4.4zM369 648.1h4.4v4.4h-4.4zM384 689.7h4.4v4.4h-4.4zM337.3 712.5h4.4v4.4h-4.4zM387.6 693.8h4.4v4.4h-4.4zM321.8 756.2h4.4v4.4h-4.4zM401.2 665.2h4.4v4.4h-4.4zM393.4 639.2h4.4v4.4h-4.4zM333.5 763.6h4.4v4.4h-4.4zM350.5 724.6h4.4v4.4h-4.4zM364.2 673.7h4.4v4.4h-4.4zM348.7 644.1h4.4v4.4h-4.4zM387.1 676h4.4v4.4h-4.4zM333.8 726.6h4.4v4.4h-4.4zM313.2 708.7h4.4v4.4h-4.4zM388.4 680.8h4.4v4.4h-4.4zM324.9 748.6h4.4v4.4h-4.4zM309.2 747.6h4.4v4.4h-4.4zM342.4 737h4.4v4.4h-4.4zM354.2 639.2h4.4v4.4h-4.4zM321.9 690.5h4.4v4.4h-4.4zM319.9 690.1h4.4v4.4h-4.4zM341.3 727.8h4.4v4.4h-4.4zM437.5 622.2h4.4v4.4h-4.4zM384.5 677.9h4.4v4.4h-4.4zM330.8 722.1h4.4v4.4h-4.4zM364.8 699h4.4v4.4h-4.4zM351.8 705.1h4.4v4.4h-4.4zM413 673.3h4.4v4.4h-4.4zM364.9 671h4.4v4.4h-4.4zM398.5 638.9h4.4v4.4h-4.4zM407.5 641.3h4.4v4.4h-4.4zM354.7 643.2h4.4v4.4h-4.4zM418.7 650.1h4.4v4.4h-4.4zM423.4 639.9h4.4v4.4h-4.4zM332.5 746.9h4.4v4.4h-4.4zM429.7 648h4.4v4.4h-4.4zM426.9 674.7h4.4v4.4h-4.4zM355.1 685.4h4.4v4.4h-4.4zM346.1 675.6h4.4v4.4h-4.4zM381.8 675.4h4.4v4.4h-4.4zM355.8 697.3h4.4v4.4h-4.4zM383.3 715.2h4.4v4.4h-4.4zM402.2 631.7h4.4v4.4h-4.4zM320.7 690.3h4.4v4.4h-4.4zM394 662h4.4v4.4h-4.4zM339.2 755.2h4.4v4.4h-4.4zM364.1 708h4.4v4.4h-4.4zM407.6 676.3h4.4v4.4h-4.4zM374.5 685.9h4.4v4.4h-4.4zM444.3 661.1h4.4v4.4h-4.4zM307.6 711.9h4.4v4.4h-4.4zM347.8 642.2h4.4v4.4h-4.4zM340 727.1h4.4v4.4h-4.4zM362.5 683h4.4v4.4h-4.4zM436 633.4h4.4v4.4h-4.4zM437.9 648.9h4.4v4.4h-4.4zM393.2 667.5h4.4v4.4h-4.4zM376 720.9h4.4v4.4h-4.4zM354.5 711.9h4.4v4.4h-4.4zM386.5 622.2h4.4v4.4h-4.4zM394.4 664.8h4.4v4.4h-4.4zM344.6 666.7h4.4v4.4h-4.4zM367.2 671.5h4.4v4.4h-4.4zM333.3 695.5h4.4v4.4h-4.4zM320.3 702.4h4.4v4.4h-4.4zM325.1 725.4h4.4v4.4h-4.4zM326.6 707.5h4.4v4.4h-4.4zM405.5 638.4h4.4v4.4h-4.4zM362.8 719.9h4.4v4.4h-4.4zM334.8 707.7h4.4v4.4h-4.4zM392.1 639.3h4.4v4.4h-4.4zM296.8 708.4h4.4v4.4h-4.4zM355.3 733.4h4.4v4.4h-4.4zM313.2 720.4h4.4v4.4h-4.4zM323 679.6h4.4v4.4h-4.4zM405.6 643.9h4.4v4.4h-4.4zM352.8 609.1h4.4v4.4h-4.4zM400.4 612.6h4.4v4.4h-4.4zM371.9 685.6h4.4v4.4h-4.4zM415.8 645.8h4.4v4.4h-4.4zM346.4 715.6h4.4v4.4h-4.4zM378.3 718.3h4.4v4.4h-4.4zM362.8 671.9h4.4v4.4h-4.4zM381.4 703.9h4.4v4.4h-4.4zM382.8 621.5h4.4v4.4h-4.4zM400.6 683.4h4.4v4.4h-4.4zM369.1 691.8h4.4v4.4h-4.4zM308.7 738.7h4.4v4.4h-4.4zM350 617.7h4.4v4.4h-4.4zM383.5 610.4h4.4v4.4h-4.4zM425.4 636.7h4.4v4.4h-4.4zM390.5 646.2h4.4v4.4h-4.4zM393 687.6h4.4v4.4h-4.4zM412.4 663.2h4.4v4.4h-4.4zM318.7 732.5h4.4v4.4h-4.4zM417.9 679.8h4.4v4.4h-4.4zM391 670h4.4v4.4h-4.4zM398.1 696.9h4.4v4.4h-4.4zM339.5 722h4.4v4.4h-4.4zM389.8 677.4h4.4v4.4h-4.4zM356.9 729.1h4.4v4.4h-4.4zM337.1 676.9h4.4v4.4h-4.4zM330.7 708.8h4.4v4.4h-4.4zM283 719.2h4.4v4.4h-4.4zM367.7 690h4.4v4.4h-4.4zM312.5 750.6h4.4v4.4h-4.4zM316.4 671.1h4.4v4.4h-4.4zM392.1 711.6h4.4v4.4h-4.4zM334.3 720.4h4.4v4.4h-4.4zM326.5 714.5h4.4v4.4h-4.4zM418.4 639.3h4.4v4.4h-4.4zM290 740.5h4.4v4.4h-4.4zM346.5 702.2h4.4v4.4h-4.4zM321.1 677.5h4.4v4.4h-4.4zM341 728.8h4.4v4.4h-4.4zM361.1 732.1h4.4v4.4h-4.4zM385.4 645.2h4.4v4.4h-4.4zM291 732h4.4v4.4h-4.4zM296.9 731.8h4.4v4.4h-4.4zM370.2 641.2h4.4v4.4h-4.4zM342.1 751.6h4.4v4.4h-4.4zM317.2 681.2h4.4v4.4h-4.4zM411.6 621.4h4.4v4.4h-4.4zM358.7 701.5h4.4v4.4h-4.4zM366.6 649.3h4.4v4.4h-4.4zM372.6 687.2h4.4v4.4h-4.4zM575 160.6h4.4v4.4h-4.4zM570.7 234.7h4.4v4.4h-4.4zM626 239h4.4v4.4h-4.4zM512.6 248.5h4.4v4.4h-4.4zM531.3 267.2h4.4v4.4h-4.4zM526.5 274h4.4v4.4h-4.4zM561.2 290.3h4.4v4.4h-4.4zM579.9 297.1h4.4v4.4h-4.4zM498.5 315.5h4.4v4.4h-4.4zM431.5 341h4.4v4.4h-4.4zM556.6 341h4.4v4.4h-4.4zM554.4 359.7h4.4v4.4h-4.4zM570.7 361.9h4.4v4.4h-4.4zM471.1 373.6h4.4v4.4h-4.4zM540.6 373.6h4.4v4.4h-4.4zM549.8 377.9h4.4v4.4h-4.4zM471.1 401.8h4.4v4.4h-4.4zM471.1 405.8h4.4v4.4h-4.4zM491.7 410.4h4.4v4.4h-4.4zM538.1 408h4.4v4.4h-4.4zM517.2 415.1h4.4v4.4h-4.4zM524.3 426.7h4.4v4.4h-4.4zM552 428.9h4.4v4.4h-4.4zM496.4 440.5h4.4v4.4h-4.4zM390 444.9h4.4v4.4h-4.4zM475.7 444.9h4.4v4.4h-4.4zM503.4 447.6h4.4v4.4h-4.4zM468.7 451.9h4.4v4.4h-4.4zM452.4 454.4h4.4v4.4h-4.4zM410.9 454.4h4.4v4.4h-4.4zM514.8 454.4h4.4v4.4h-4.4zM556.6 451.9h4.4v4.4h-4.4zM392.2 466h4.4v4.4h-4.4zM457 468.2h4.4v4.4h-4.4zM538.1 472.8h4.4v4.4h-4.4zM521.9 475.3h4.4v4.4h-4.4zM431.5 482h4.4v4.4h-4.4zM431.5 484.5h4.4v4.4h-4.4zM468.7 484.5h4.4v4.4h-4.4zM473.3 484.5h4.4v4.4h-4.4zM593.7 484.5h4.4v4.4h-4.4zM466.2 491.3h4.4v4.4h-4.4zM505.6 491.3h4.4v4.4h-4.4zM406.3 495.9h4.4v4.4h-4.4zM406.3 500h4.4v4.4h-4.4zM447.8 498.3h4.4v4.4h-4.4zM528.6 498.3h4.4v4.4h-4.4zM484.7 502.9h4.4v4.4h-4.4zM468.7 510h4.4v4.4h-4.4zM415.5 516.8h4.4v4.4h-4.4zM568.2 519.2h4.4v4.4h-4.4zM471.1 517.3h4.4v4.4h-4.4zM473.3 521.4h4.4v4.4h-4.4zM445.6 523.8h4.4v4.4h-4.4zM452 528.6h4.4v4.4h-4.4zM456.8 530.7h4.4v4.4h-4.4zM464.2 530.7h4.4v4.4h-4.4zM468.4 530.7h4.4v4.4h-4.4zM487 526h4.4v4.4h-4.4zM498.6 530.7h4.4v4.4h-4.4zM392 530.7h4.4v4.4h-4.4zM401.5 533.2h4.4v4.4h-4.4zM424.7 533.2h4.4v4.4h-4.4zM424.7 535.3h4.4v4.4h-4.4zM355 537.7h4.4v4.4h-4.4zM431.5 542.3h4.4v4.4h-4.4zM429.4 544.4h4.4v4.4h-4.4zM441 544.4h4.4v4.4h-4.4zM441 547.2h4.4v4.4h-4.4zM417.8 547.2h4.4v4.4h-4.4zM419.9 549.1h4.4v4.4h-4.4zM471 547.2h4.4v4.4h-4.4zM521.8 551.8h4.4v4.4h-4.4zM431.5 556.5h4.4v4.4h-4.4zM423 558.1h4.4v4.4h-4.4zM426.2 560.3h4.4v4.4h-4.4zM429.4 559.2h4.4v4.4h-4.4zM415.2 558.8h4.4v4.4h-4.4zM454.7 560.9h4.4v4.4h-4.4zM496.5 560.9h4.4v4.4h-4.4zM417.8 565.5h4.4v4.4h-4.4zM429.4 568.1h4.4v4.4h-4.4zM496.5 568.1h4.4v4.4h-4.4zM503.3 570.2h4.4v4.4h-4.4zM410.4 570.8h4.4v4.4h-4.4zM408.3 575h4.4v4.4h-4.4zM406.1 579.3h4.4v4.4h-4.4zM427.3 575h4.4v4.4h-4.4zM425.1 578.2h4.4v4.4h-4.4zM450.1 572.3h4.4v4.4h-4.4zM471 570.8h4.4v4.4h-4.4zM471 575h4.4v4.4h-4.4zM380.4 575h4.4v4.4h-4.4zM373.4 581.8h4.4v4.4h-4.4zM366.5 586.6h4.4v4.4h-4.4zM396.6 584.1h4.4v4.4h-4.4zM392.4 586.6h4.4v4.4h-4.4zM395.6 588.8h4.4v4.4h-4.4zM450.1 584.1h4.4v4.4h-4.4zM424.1 588.8h4.4v4.4h-4.4zM419.9 588.8h4.4v4.4h-4.4zM452.2 590.9h4.4v4.4h-4.4zM459.6 590.9h4.4v4.4h-4.4zM477.9 588.8h4.4v4.4h-4.4zM487 588.8h4.4v4.4h-4.4zM375.5 593.4h4.4v4.4h-4.4zM396.6 593.4h4.4v4.4h-4.4zM378.1 598.3h4.4v4.4h-4.4zM378.7 600.4h4.4v4.4h-4.4zM387.1 602.5h4.4v4.4h-4.4zM385 606.7h4.4v4.4h-4.4zM404 600.4h4.4v4.4h-4.4zM401.9 603.5h4.4v4.4h-4.4zM415.6 598.3h4.4v4.4h-4.4zM419.9 596.1h4.4v4.4h-4.4zM426.2 601.4h4.4v4.4h-4.4zM427.3 605h4.4v4.4h-4.4zM501.1 598.3h4.4v4.4h-4.4zM556.5 600.4h4.4v4.4h-4.4zM441 601.4h4.4v4.4h-4.4zM445.2 599.3h4.4v4.4h-4.4zM450.5 597.8h4.4v4.4h-4.4zM455.8 597.8h4.4v4.4h-4.4zM339 607.1h4.4v4.4h-4.4zM350.6 607.1h4.4v4.4h-4.4z"/>
<text class="t" y="99.7"><tspan x="277.4" textLength="69.1" lengthAdjust="spacingAndGlyphs" font-style="italic">g_x</tspan><tspan> </tspan><tspan x="356.2" textLength="193.8" lengthAdjust="spacingAndGlyphs">Maximum</tspan><tspan> </tspan><tspan x="560.5" textLength="71.8" lengthAdjust="spacingAndGlyphs">and</tspan><tspan> </tspan><tspan x="643.9" textLength="153.1" lengthAdjust="spacingAndGlyphs">Kurtosis</tspan><tspan> </tspan><tspan x="807.6" textLength="208.2" lengthAdjust="spacingAndGlyphs">correlation</tspan></text>
<text class="a" y="0" style="font-size:36.5px" transform="translate(75.9 586.3) rotate(-90)"><tspan x="-1.5" textLength="135" lengthAdjust="spacingAndGlyphs">Kurtosis</tspan><tspan> </tspan><tspan x="142.7" textLength="89.3" lengthAdjust="spacingAndGlyphs">value</tspan></text>
<text class="a" y="866.1"><tspan x="499.7" textLength="168.8" lengthAdjust="spacingAndGlyphs">Maximum</tspan><tspan> </tspan><tspan x="677.8" textLength="90.5" lengthAdjust="spacingAndGlyphs">value</tspan></text>
<text class="k" text-anchor="end" x="129.6" y="778.3" textLength="15.9" lengthAdjust="spacingAndGlyphs">0</text>
<text class="k" text-anchor="end" x="129.6" y="697.3" textLength="15.9" lengthAdjust="spacingAndGlyphs">5</text>
<text class="k" text-anchor="end" x="129.6" y="616.2" textLength="31.9" lengthAdjust="spacingAndGlyphs">10</text>
<text class="k" text-anchor="end" x="129.6" y="535.2" textLength="31.9" lengthAdjust="spacingAndGlyphs">15</text>
<text class="k" text-anchor="end" x="129.6" y="454.1" textLength="31.9" lengthAdjust="spacingAndGlyphs">20</text>
<text class="k" text-anchor="end" x="129.6" y="373.3" textLength="31.9" lengthAdjust="spacingAndGlyphs">25</text>
<text class="k" text-anchor="end" x="129.6" y="292.3" textLength="31.9" lengthAdjust="spacingAndGlyphs">30</text>
<text class="k" text-anchor="end" x="129.6" y="211.3" textLength="31.9" lengthAdjust="spacingAndGlyphs">35</text>
<text class="k" text-anchor="end" x="129.6" y="130.3" textLength="31.9" lengthAdjust="spacingAndGlyphs">40</text>
<text class="k" text-anchor="middle" x="157.8" y="820" textLength="15.9" lengthAdjust="spacingAndGlyphs">0</text>
<text class="k" text-anchor="middle" x="321.4" y="820" textLength="15.9" lengthAdjust="spacingAndGlyphs">1</text>
<text class="k" text-anchor="middle" x="484.9" y="820" textLength="15.9" lengthAdjust="spacingAndGlyphs">2</text>
<text class="k" text-anchor="middle" x="648.5" y="820" textLength="15.9" lengthAdjust="spacingAndGlyphs">3</text>
<text class="k" text-anchor="middle" x="812.1" y="820" textLength="15.9" lengthAdjust="spacingAndGlyphs">4</text>
<text class="k" text-anchor="middle" x="975.6" y="820" textLength="15.9" lengthAdjust="spacingAndGlyphs">5</text>
<text class="k" text-anchor="middle" x="1139.2" y="820" textLength="15.9" lengthAdjust="spacingAndGlyphs">6</text>
<rect x="865.5" y="149.8" width="252.2" height="120.2" fill="#fdfdfd" stroke="#4d4d4d" stroke-width="2.4"/>
<text class="l" y="188.3"><tspan x="911.5" textLength="104.8" lengthAdjust="spacingAndGlyphs">Normal</tspan><tspan> </tspan><tspan x="1022.8" textLength="81.7" lengthAdjust="spacingAndGlyphs">signal</tspan></text>
<text class="l" y="248.5"><tspan x="911.5" textLength="98.5" lengthAdjust="spacingAndGlyphs">Broken</tspan><tspan> </tspan><tspan x="1017.9" textLength="81.6" lengthAdjust="spacingAndGlyphs">signal</tspan></text>
<rect x="890" y="176.7" width="4.4" height="4.4" fill="#9dc3e6"/>
<rect x="890" y="236.7" width="4.4" height="4.4" fill="#ed7d31"/>
</g>
<g id="panel-g_y">
<rect x="1186.3" y="23.8" width="1140.9" height="858.6" fill="#fdfdfd" stroke="#404040" stroke-width="4.8" stroke-linejoin="round"/>
<path d="M1303.4 772.3H2293.8M1303.4 663.5H2293.8M1303.4 554.2H2293.8M1303.4 444H2293.8M1303.4 334.9H2293.8M1303.4 225.8H2293.8M1303.4 117.7H2293.8M1303.4 116.6V773.4" stroke="#d6d6d6" stroke-width="2.2" fill="none"/>
<path d="M1303.4 772.3H2293.8" stroke="#c8c8c8" stroke-width="2.2" fill="none"/>
<path fill="#5b9bd5" fill-opacity="0.74" d="M1591.1 759h4.4v4.4h-4.4zM1587.3 619.5h4.4v4.4h-4.4zM1565.3 764.9h4.4v4.4h-4.4zM1642.3 599.9h4.4v4.4h-4.4zM1671 727.6h4.4v4.4h-4.4zM1615.4 752.7h4.4v4.4h-4.4zM1655.6 728.4h4.4v4.4h-4.4zM1636.6 699.3h4.4v4.4h-4.4zM1677 744h4.4v4.4h-4.4zM1665 608.1h4.4v4.4h-4.4zM1693.2 699.5h4.4v4.4h-4.4zM1704.5 741.6h4.4v4.4h-4.4zM1664.4 728.2h4.4v4.4h-4.4zM1641.6 701h4.4v4.4h-4.4zM1573 664.5h4.4v4.4h-4.4zM1591.8 655.5h4.4v4.4h-4.4zM1603.9 735.4h4.4v4.4h-4.4zM1548.3 768.9h4.4v4.4h-4.4zM1580 670.1h4.4v4.4h-4.4zM1560.1 702.9h4.4v4.4h-4.4zM1600.6 659.5h4.4v4.4h-4.4zM1620.2 701.5h4.4v4.4h-4.4zM1571.8 767.5h4.4v4.4h-4.4zM1487.8 742.4h4.4v4.4h-4.4zM1658.2 731.6h4.4v4.4h-4.4zM1634.8 700.3h4.4v4.4h-4.4zM1543.7 728.3h4.4v4.4h-4.4zM1537 701.8h4.4v4.4h-4.4zM1550.8 700.6h4.4v4.4h-4.4zM1507.3 736.6h4.4v4.4h-4.4zM1716.1 728.6h4.4v4.4h-4.4zM1651.5 730.1h4.4v4.4h-4.4zM1687.1 712.9h4.4v4.4h-4.4zM1644.8 663.8h4.4v4.4h-4.4zM1533 689.1h4.4v4.4h-4.4zM1597.5 654.6h4.4v4.4h-4.4zM1555.5 746.7h4.4v4.4h-4.4zM1580.3 753.1h4.4v4.4h-4.4zM1593.8 681.2h4.4v4.4h-4.4zM1596.4 657.6h4.4v4.4h-4.4zM1634 760.1h4.4v4.4h-4.4zM1520.4 735.1h4.4v4.4h-4.4zM1550.7 695.7h4.4v4.4h-4.4zM1594.7 668.1h4.4v4.4h-4.4zM1593.6 592.2h4.4v4.4h-4.4zM1717.3 728.2h4.4v4.4h-4.4zM1529.9 725.7h4.4v4.4h-4.4zM1624.9 760h4.4v4.4h-4.4zM1576.6 694h4.4v4.4h-4.4zM1659.7 737.2h4.4v4.4h-4.4zM1578.2 760h4.4v4.4h-4.4zM1658.6 678.8h4.4v4.4h-4.4zM1522.9 702.4h4.4v4.4h-4.4zM1569.8 699.5h4.4v4.4h-4.4zM1674.1 710.2h4.4v4.4h-4.4zM1605 627.2h4.4v4.4h-4.4zM1518.5 767.4h4.4v4.4h-4.4zM1593.3 703h4.4v4.4h-4.4zM1576.7 685.9h4.4v4.4h-4.4zM1586.1 715.3h4.4v4.4h-4.4zM1566.5 760.1h4.4v4.4h-4.4zM1563.8 684.6h4.4v4.4h-4.4zM1515.5 745.8h4.4v4.4h-4.4zM1599.3 648.6h4.4v4.4h-4.4zM1505.9 754h4.4v4.4h-4.4zM1593.9 725.2h4.4v4.4h-4.4zM1596.7 752.8h4.4v4.4h-4.4zM1543.7 703.5h4.4v4.4h-4.4zM1659.2 731.5h4.4v4.4h-4.4zM1495.6 743.1h4.4v4.4h-4.4zM1540 766.1h4.4v4.4h-4.4zM1532.2 755.1h4.4v4.4h-4.4zM1578.8 733.6h4.4v4.4h-4.4zM1733.1 748h4.4v4.4h-4.4zM1594.8 682.8h4.4v4.4h-4.4zM1674.7 582.2h4.4v4.4h-4.4zM1596.2 765.2h4.4v4.4h-4.4zM1544.4 737.7h4.4v4.4h-4.4zM1529.4 736.7h4.4v4.4h-4.4zM1642.4 637.5h4.4v4.4h-4.4zM1580.7 700.6h4.4v4.4h-4.4zM1636.2 581.4h4.4v4.4h-4.4zM1705.5 749.1h4.4v4.4h-4.4zM1537.9 691.4h4.4v4.4h-4.4zM1635 755.7h4.4v4.4h-4.4zM1649.2 699h4.4v4.4h-4.4zM1636.3 616.3h4.4v4.4h-4.4zM1531.9 662.2h4.4v4.4h-4.4zM1653.6 725.8h4.4v4.4h-4.4zM1493.1 760.9h4.4v4.4h-4.4zM1574.9 729.3h4.4v4.4h-4.4zM1512.5 738.3h4.4v4.4h-4.4zM1566.3 662.8h4.4v4.4h-4.4zM1604.9 748.8h4.4v4.4h-4.4zM1560.5 686.9h4.4v4.4h-4.4zM1544.2 647.2h4.4v4.4h-4.4zM1507.1 758.7h4.4v4.4h-4.4zM1571.6 673.6h4.4v4.4h-4.4zM1559.5 690.6h4.4v4.4h-4.4zM1482.5 752.4h4.4v4.4h-4.4zM1627.6 597.4h4.4v4.4h-4.4zM1672.1 763.1h4.4v4.4h-4.4zM1714.3 736.9h4.4v4.4h-4.4zM1496.4 735.2h4.4v4.4h-4.4zM1552.9 715.4h4.4v4.4h-4.4zM1604.3 656.8h4.4v4.4h-4.4zM1622.6 603.7h4.4v4.4h-4.4zM1641.2 649.8h4.4v4.4h-4.4zM1538.6 737.7h4.4v4.4h-4.4zM1573.2 731.2h4.4v4.4h-4.4zM1601.5 674.8h4.4v4.4h-4.4zM1571.1 742.6h4.4v4.4h-4.4zM1598.1 748.2h4.4v4.4h-4.4zM1600.3 728.8h4.4v4.4h-4.4zM1561 765.7h4.4v4.4h-4.4zM1643 646h4.4v4.4h-4.4zM1603.4 757.4h4.4v4.4h-4.4zM1634.6 682.8h4.4v4.4h-4.4zM1653.4 614.3h4.4v4.4h-4.4zM1671.1 762.6h4.4v4.4h-4.4zM1596.5 704h4.4v4.4h-4.4zM1538.6 762.4h4.4v4.4h-4.4zM1739.9 741.8h4.4v4.4h-4.4zM1553.2 718.2h4.4v4.4h-4.4zM1511.5 757.3h4.4v4.4h-4.4zM1669.5 725.2h4.4v4.4h-4.4zM1599.2 667.6h4.4v4.4h-4.4zM1544.4 696.1h4.4v4.4h-4.4zM1530.2 732.3h4.4v4.4h-4.4zM1602.7 652h4.4v4.4h-4.4zM1502.9 732.2h4.4v4.4h-4.4zM1560.8 736.8h4.4v4.4h-4.4zM1620.4 751.6h4.4v4.4h-4.4zM1616.8 753h4.4v4.4h-4.4zM1574.4 667.4h4.4v4.4h-4.4zM1570.1 737h4.4v4.4h-4.4zM1599.2 736.7h4.4v4.4h-4.4zM1661.4 761.1h4.4v4.4h-4.4zM1644 722.9h4.4v4.4h-4.4zM1646.2 733.4h4.4v4.4h-4.4zM1517.9 757.6h4.4v4.4h-4.4zM1572.6 738.2h4.4v4.4h-4.4zM1584.8 703.5h4.4v4.4h-4.4zM1637.2 633.9h4.4v4.4h-4.4zM1586.6 730.6h4.4v4.4h-4.4zM1555.8 679.8h4.4v4.4h-4.4zM1556.6 627.8h4.4v4.4h-4.4zM1722.9 722.7h4.4v4.4h-4.4zM1668.8 617.4h4.4v4.4h-4.4zM1640.7 620.1h4.4v4.4h-4.4zM1568.6 675.4h4.4v4.4h-4.4zM1517.1 749.3h4.4v4.4h-4.4zM1660.5 741.7h4.4v4.4h-4.4zM1613.6 747h4.4v4.4h-4.4zM1562.2 737h4.4v4.4h-4.4zM1648.8 603.5h4.4v4.4h-4.4zM1637 752.6h4.4v4.4h-4.4zM1667.3 424.3h4.4v4.4h-4.4zM1757.7 447.3h4.4v4.4h-4.4zM1685.8 482h4.4v4.4h-4.4zM1732.2 493.7h4.4v4.4h-4.4zM1692.8 505.1h4.4v4.4h-4.4zM1722.9 521.4h4.4v4.4h-4.4zM1593.3 537.7h4.4v4.4h-4.4zM1644.3 549.3h4.4v4.4h-4.4zM1690.4 558.5h4.4v4.4h-4.4zM1699.9 567.8h4.4v4.4h-4.4zM1910.2 625.6h4.4v4.4h-4.4zM1799.5 639.7h4.4v4.4h-4.4zM1984.5 655.7h4.4v4.4h-4.4zM1972.8 665.2h4.4v4.4h-4.4zM1810.9 667.4h4.4v4.4h-4.4zM1889.6 669.8h4.4v4.4h-4.4zM1857 685.8h4.4v4.4h-4.4zM1921.9 683.6h4.4v4.4h-4.4zM1806.3 695.3h4.4v4.4h-4.4zM1866.5 695.3h4.4v4.4h-4.4zM1829.4 706.7h4.4v4.4h-4.4zM1783.2 711.6h4.4v4.4h-4.4zM1843.2 713.7h4.4v4.4h-4.4zM1774 716.2h4.4v4.4h-4.4z"/><path fill="#5b9bd5" fill-opacity="0.74" d="M1595.9 665.5h4.4v4.4h-4.4zM1707.5 717.5h4.4v4.4h-4.4zM1545.9 684.4h4.4v4.4h-4.4zM1581 704.5h4.4v4.4h-4.4zM1666.1 696.6h4.4v4.4h-4.4zM1696 700.4h4.4v4.4h-4.4zM1568 653.9h4.4v4.4h-4.4zM1549 695.1h4.4v4.4h-4.4zM1522.2 731.6h4.4v4.4h-4.4zM1682.3 748.2h4.4v4.4h-4.4zM1502.3 765h4.4v4.4h-4.4zM1603.4 757.1h4.4v4.4h-4.4zM1577.5 753.2h4.4v4.4h-4.4zM1695.7 716h4.4v4.4h-4.4zM1684.2 731h4.4v4.4h-4.4zM1677.6 747.1h4.4v4.4h-4.4zM1571.8 768.9h4.4v4.4h-4.4zM1518 749.8h4.4v4.4h-4.4zM1559.2 657.8h4.4v4.4h-4.4zM1509.4 745.5h4.4v4.4h-4.4zM1552.1 737.8h4.4v4.4h-4.4zM1649.8 594h4.4v4.4h-4.4zM1693.4 754.3h4.4v4.4h-4.4zM1513 766.9h4.4v4.4h-4.4zM1554.1 681.2h4.4v4.4h-4.4zM1607.4 590h4.4v4.4h-4.4zM1542.7 764.4h4.4v4.4h-4.4zM1641.3 729.7h4.4v4.4h-4.4zM1557.8 761.2h4.4v4.4h-4.4zM1579.2 712.4h4.4v4.4h-4.4zM1494.4 705.2h4.4v4.4h-4.4zM1603.5 633.5h4.4v4.4h-4.4zM1622.5 755.8h4.4v4.4h-4.4zM1538.3 705.8h4.4v4.4h-4.4zM1717 721.3h4.4v4.4h-4.4zM1613 757.1h4.4v4.4h-4.4zM1523.6 745.4h4.4v4.4h-4.4zM1573.6 754.6h4.4v4.4h-4.4zM1507.7 710.5h4.4v4.4h-4.4zM1600.2 703.7h4.4v4.4h-4.4zM1629.2 762.9h4.4v4.4h-4.4zM1527.4 700.8h4.4v4.4h-4.4zM1524 740.7h4.4v4.4h-4.4zM1646.7 730.2h4.4v4.4h-4.4zM1506.9 753.8h4.4v4.4h-4.4zM1561.9 735.8h4.4v4.4h-4.4zM1601.3 762h4.4v4.4h-4.4zM1591.4 675.7h4.4v4.4h-4.4zM1555.2 732.6h4.4v4.4h-4.4zM1628 731.1h4.4v4.4h-4.4zM1615.9 751.2h4.4v4.4h-4.4zM1684.5 700h4.4v4.4h-4.4zM1534.4 758.8h4.4v4.4h-4.4zM1542.4 723.9h4.4v4.4h-4.4zM1526.6 759h4.4v4.4h-4.4zM1532.5 735.3h4.4v4.4h-4.4zM1618.2 666.5h4.4v4.4h-4.4zM1597.1 742.4h4.4v4.4h-4.4zM1595.8 762.7h4.4v4.4h-4.4zM1574.9 734.6h4.4v4.4h-4.4zM1654.2 705.7h4.4v4.4h-4.4zM1630 679h4.4v4.4h-4.4zM1612.4 746.5h4.4v4.4h-4.4zM1724.8 744.7h4.4v4.4h-4.4zM1523.6 757.2h4.4v4.4h-4.4zM1655.1 700.6h4.4v4.4h-4.4zM1726.8 745.5h4.4v4.4h-4.4zM1545.9 749.6h4.4v4.4h-4.4zM1619.5 727.5h4.4v4.4h-4.4zM1578 749h4.4v4.4h-4.4zM1507.1 766.1h4.4v4.4h-4.4zM1519.7 754.6h4.4v4.4h-4.4zM1555.7 728.3h4.4v4.4h-4.4zM1495.2 760.9h4.4v4.4h-4.4zM1658.6 729.3h4.4v4.4h-4.4zM1645.4 686.6h4.4v4.4h-4.4zM1611.2 692.2h4.4v4.4h-4.4zM1693.2 737.2h4.4v4.4h-4.4zM1496.5 760.9h4.4v4.4h-4.4zM1707.4 590.6h4.4v4.4h-4.4zM1581.4 652.4h4.4v4.4h-4.4zM1566 652.6h4.4v4.4h-4.4zM1574.2 753.4h4.4v4.4h-4.4zM1627.8 731.8h4.4v4.4h-4.4zM1607.1 736.3h4.4v4.4h-4.4zM1575.9 729.2h4.4v4.4h-4.4zM1653.2 695.3h4.4v4.4h-4.4zM1639 720.7h4.4v4.4h-4.4zM1526.7 752.1h4.4v4.4h-4.4zM1567.6 751h4.4v4.4h-4.4zM1758.4 722.7h4.4v4.4h-4.4zM1504.3 768.3h4.4v4.4h-4.4zM1600.3 614.6h4.4v4.4h-4.4zM1573.1 711h4.4v4.4h-4.4zM1551.2 730.3h4.4v4.4h-4.4zM1525.9 690.7h4.4v4.4h-4.4zM1553.9 674.5h4.4v4.4h-4.4zM1572.4 658.7h4.4v4.4h-4.4zM1599.1 677.8h4.4v4.4h-4.4zM1631 689.5h4.4v4.4h-4.4zM1626 740.2h4.4v4.4h-4.4zM1612.2 661.6h4.4v4.4h-4.4zM1648.3 760.9h4.4v4.4h-4.4zM1580.9 767.5h4.4v4.4h-4.4zM1673.4 737.4h4.4v4.4h-4.4zM1503.5 755.7h4.4v4.4h-4.4zM1521 741.1h4.4v4.4h-4.4zM1673.4 756.3h4.4v4.4h-4.4zM1759.4 715.3h4.4v4.4h-4.4zM1585.6 688.5h4.4v4.4h-4.4zM1617 706.9h4.4v4.4h-4.4zM1666 736.4h4.4v4.4h-4.4zM1594.1 677h4.4v4.4h-4.4zM1568.6 763.5h4.4v4.4h-4.4zM1555.3 741.1h4.4v4.4h-4.4zM1533 759.7h4.4v4.4h-4.4zM1630.7 749.5h4.4v4.4h-4.4zM1689.8 729.5h4.4v4.4h-4.4zM1642.1 744.4h4.4v4.4h-4.4zM1545.6 724.9h4.4v4.4h-4.4zM1698.8 713.9h4.4v4.4h-4.4zM1569 724.6h4.4v4.4h-4.4zM1663.3 703.3h4.4v4.4h-4.4zM1558.7 692.4h4.4v4.4h-4.4zM1688.4 696.5h4.4v4.4h-4.4zM1580.9 734.5h4.4v4.4h-4.4zM1745 712.8h4.4v4.4h-4.4zM1612.8 751.3h4.4v4.4h-4.4zM1522.3 734h4.4v4.4h-4.4zM1483.7 753.6h4.4v4.4h-4.4zM1604.7 710.8h4.4v4.4h-4.4zM1519.3 726.3h4.4v4.4h-4.4zM1677.2 698.7h4.4v4.4h-4.4zM1647.8 739.1h4.4v4.4h-4.4zM1679.2 739.1h4.4v4.4h-4.4zM1613.9 743.6h4.4v4.4h-4.4zM1570.8 743.1h4.4v4.4h-4.4zM1631.5 726h4.4v4.4h-4.4zM1672.3 739.3h4.4v4.4h-4.4zM1532.4 706.4h4.4v4.4h-4.4zM1526.5 746.4h4.4v4.4h-4.4zM1544.3 730.8h4.4v4.4h-4.4zM1515.9 735h4.4v4.4h-4.4zM1591.9 738.3h4.4v4.4h-4.4zM1605.7 740.2h4.4v4.4h-4.4zM1575.2 682.1h4.4v4.4h-4.4zM1731.7 739.6h4.4v4.4h-4.4zM1542.5 751.3h4.4v4.4h-4.4zM1560.3 768.2h4.4v4.4h-4.4zM1597.7 634.5h4.4v4.4h-4.4zM1742.7 746.5h4.4v4.4h-4.4zM1523.5 739.7h4.4v4.4h-4.4zM1551.2 765.8h4.4v4.4h-4.4zM1570.1 658.6h4.4v4.4h-4.4zM1525.6 743.2h4.4v4.4h-4.4zM1676.5 761.3h4.4v4.4h-4.4zM1517.1 677.1h4.4v4.4h-4.4zM1688.2 438.1h4.4v4.4h-4.4zM1720.5 475.3h4.4v4.4h-4.4zM1715.9 489.1h4.4v4.4h-4.4zM1780.7 479.9h4.4v4.4h-4.4zM1697.4 507.5h4.4v4.4h-4.4zM1746 523.8h4.4v4.4h-4.4zM1658.1 542.3h4.4v4.4h-4.4zM1794.5 549.3h4.4v4.4h-4.4zM1641.8 569.9h4.4v4.4h-4.4zM1637.2 576.7h4.4v4.4h-4.4zM2007.6 609.6h4.4v4.4h-4.4zM1806.3 653.5h4.4v4.4h-4.4zM1921.9 660.6h4.4v4.4h-4.4zM1926.5 667.4h4.4v4.4h-4.4zM1866.5 672h4.4v4.4h-4.4zM1799.5 683.6h4.4v4.4h-4.4zM1901.2 683.6h4.4v4.4h-4.4zM1810.9 690.4h4.4v4.4h-4.4zM1818 695.3h4.4v4.4h-4.4zM1880.3 695.3h4.4v4.4h-4.4zM1841 709.1h4.4v4.4h-4.4zM1801.7 713.7h4.4v4.4h-4.4zM1803.9 718.4h4.4v4.4h-4.4zM1774 723h4.4v4.4h-4.4z"/><path fill="#5b9bd5" fill-opacity="0.74" d="M1595.2 747.5h4.4v4.4h-4.4zM1620.1 719.3h4.4v4.4h-4.4zM1581.3 594.8h4.4v4.4h-4.4zM1727.9 747.7h4.4v4.4h-4.4zM1503.3 764.2h4.4v4.4h-4.4zM1602.1 743.6h4.4v4.4h-4.4zM1580 734.5h4.4v4.4h-4.4zM1707.8 710.2h4.4v4.4h-4.4zM1498.4 685.3h4.4v4.4h-4.4zM1618.8 724.8h4.4v4.4h-4.4zM1552.1 754.9h4.4v4.4h-4.4zM1518.9 743.2h4.4v4.4h-4.4zM1590.1 712.2h4.4v4.4h-4.4zM1600.3 729.2h4.4v4.4h-4.4zM1590 679.2h4.4v4.4h-4.4zM1580.1 740.2h4.4v4.4h-4.4zM1557.7 705h4.4v4.4h-4.4zM1593.9 743h4.4v4.4h-4.4zM1525.2 761.7h4.4v4.4h-4.4zM1556.6 709.1h4.4v4.4h-4.4zM1603.9 702h4.4v4.4h-4.4zM1609.8 741.3h4.4v4.4h-4.4zM1516.6 711.5h4.4v4.4h-4.4zM1613.1 674.7h4.4v4.4h-4.4zM1566.2 760.4h4.4v4.4h-4.4zM1544.1 688.6h4.4v4.4h-4.4zM1541.5 719.9h4.4v4.4h-4.4zM1647 686.2h4.4v4.4h-4.4zM1744.1 725.8h4.4v4.4h-4.4zM1701.6 696.6h4.4v4.4h-4.4zM1507 742h4.4v4.4h-4.4zM1526.2 734.7h4.4v4.4h-4.4zM1532.9 742.3h4.4v4.4h-4.4zM1625.6 767.3h4.4v4.4h-4.4zM1718.3 753.5h4.4v4.4h-4.4zM1518.7 709.4h4.4v4.4h-4.4zM1538 694.4h4.4v4.4h-4.4zM1596.2 760.8h4.4v4.4h-4.4zM1677.8 731.9h4.4v4.4h-4.4zM1637.1 744.8h4.4v4.4h-4.4zM1511.4 754.7h4.4v4.4h-4.4zM1557.1 719.8h4.4v4.4h-4.4zM1509.3 740.8h4.4v4.4h-4.4zM1657.5 736h4.4v4.4h-4.4zM1545.8 748.9h4.4v4.4h-4.4zM1531.6 654.7h4.4v4.4h-4.4zM1517.3 747.8h4.4v4.4h-4.4zM1618.9 760h4.4v4.4h-4.4zM1607.8 672.4h4.4v4.4h-4.4zM1636.3 728.1h4.4v4.4h-4.4zM1647.8 732.3h4.4v4.4h-4.4zM1673.5 591.8h4.4v4.4h-4.4zM1569.2 748.5h4.4v4.4h-4.4zM1599.2 743.7h4.4v4.4h-4.4zM1588.4 670.3h4.4v4.4h-4.4zM1651.1 629.7h4.4v4.4h-4.4zM1506.5 708.9h4.4v4.4h-4.4zM1526.1 688.1h4.4v4.4h-4.4zM1628.8 727.2h4.4v4.4h-4.4zM1553.9 728.3h4.4v4.4h-4.4zM1595.5 591.9h4.4v4.4h-4.4zM1595.8 754.9h4.4v4.4h-4.4zM1580.2 634.9h4.4v4.4h-4.4zM1621.9 765h4.4v4.4h-4.4zM1616.2 699.5h4.4v4.4h-4.4zM1532.9 735.7h4.4v4.4h-4.4zM1657 723.9h4.4v4.4h-4.4zM1541.6 754.4h4.4v4.4h-4.4zM1642.9 630.8h4.4v4.4h-4.4zM1647.8 758.7h4.4v4.4h-4.4zM1520.1 744h4.4v4.4h-4.4zM1605.4 628.1h4.4v4.4h-4.4zM1639.7 697.4h4.4v4.4h-4.4zM1527.4 751.1h4.4v4.4h-4.4zM1714.6 745.8h4.4v4.4h-4.4zM1680.1 721.8h4.4v4.4h-4.4zM1552.8 742.4h4.4v4.4h-4.4zM1543.5 750.1h4.4v4.4h-4.4zM1521.6 759h4.4v4.4h-4.4zM1574.7 759.8h4.4v4.4h-4.4zM1578.4 756.7h4.4v4.4h-4.4zM1571.9 737.7h4.4v4.4h-4.4zM1661.7 610.8h4.4v4.4h-4.4zM1536.3 744h4.4v4.4h-4.4zM1584.8 680h4.4v4.4h-4.4zM1601.5 738.9h4.4v4.4h-4.4zM1601.6 660.8h4.4v4.4h-4.4zM1581.1 685.6h4.4v4.4h-4.4zM1554 650.7h4.4v4.4h-4.4zM1632.4 712.3h4.4v4.4h-4.4zM1556.3 708h4.4v4.4h-4.4zM1641.9 587.6h4.4v4.4h-4.4zM1645 746.5h4.4v4.4h-4.4zM1650.2 715.5h4.4v4.4h-4.4zM1536.4 745.8h4.4v4.4h-4.4zM1669.7 763.3h4.4v4.4h-4.4zM1680.6 747.3h4.4v4.4h-4.4zM1582.1 621.5h4.4v4.4h-4.4zM1621.9 721.2h4.4v4.4h-4.4zM1753.7 713.6h4.4v4.4h-4.4zM1747.2 709.6h4.4v4.4h-4.4zM1551.1 757.6h4.4v4.4h-4.4zM1713.9 755h4.4v4.4h-4.4zM1643.5 744.9h4.4v4.4h-4.4zM1591.3 731.8h4.4v4.4h-4.4zM1570.8 667.6h4.4v4.4h-4.4zM1605.8 723.1h4.4v4.4h-4.4zM1598.8 745.9h4.4v4.4h-4.4zM1544.4 667.6h4.4v4.4h-4.4zM1522.4 669.2h4.4v4.4h-4.4zM1575.6 689.9h4.4v4.4h-4.4zM1543.9 760.3h4.4v4.4h-4.4zM1597.3 745.1h4.4v4.4h-4.4zM1648.9 697h4.4v4.4h-4.4zM1519.1 742.4h4.4v4.4h-4.4zM1529.5 733.6h4.4v4.4h-4.4zM1550.6 670.8h4.4v4.4h-4.4zM1591.8 677.4h4.4v4.4h-4.4zM1644.1 747h4.4v4.4h-4.4zM1665.3 736.6h4.4v4.4h-4.4zM1630.1 605.3h4.4v4.4h-4.4zM1541.6 735h4.4v4.4h-4.4zM1703.4 709.2h4.4v4.4h-4.4zM1642.7 625.2h4.4v4.4h-4.4zM1533 767h4.4v4.4h-4.4zM1509.5 723.5h4.4v4.4h-4.4zM1591.7 759h4.4v4.4h-4.4zM1663 732.7h4.4v4.4h-4.4zM1659.3 612.7h4.4v4.4h-4.4zM1648.9 745.2h4.4v4.4h-4.4zM1683.5 704.2h4.4v4.4h-4.4zM1505.7 756.6h4.4v4.4h-4.4zM1489.2 730.8h4.4v4.4h-4.4zM1587.9 757.7h4.4v4.4h-4.4zM1631.4 766.2h4.4v4.4h-4.4zM1734.3 718.1h4.4v4.4h-4.4zM1528.1 730.1h4.4v4.4h-4.4zM1652 664.5h4.4v4.4h-4.4zM1577 730.4h4.4v4.4h-4.4zM1659 634.1h4.4v4.4h-4.4zM1506.8 682.1h4.4v4.4h-4.4zM1603.4 687.5h4.4v4.4h-4.4zM1497.3 721.4h4.4v4.4h-4.4zM1542.4 723.3h4.4v4.4h-4.4zM1606.5 754.9h4.4v4.4h-4.4zM1497 752h4.4v4.4h-4.4zM1534.9 657.5h4.4v4.4h-4.4zM1503.7 722.7h4.4v4.4h-4.4zM1644.2 751.5h4.4v4.4h-4.4zM1520.5 690.3h4.4v4.4h-4.4zM1578.4 654h4.4v4.4h-4.4zM1500.5 712h4.4v4.4h-4.4zM1593.8 689h4.4v4.4h-4.4zM1643.6 735.7h4.4v4.4h-4.4zM1643.8 630.6h4.4v4.4h-4.4zM1568.8 738.6h4.4v4.4h-4.4zM1706.7 230.1h4.4v4.4h-4.4zM1706.7 451.9h4.4v4.4h-4.4zM1637.2 484.5h4.4v4.4h-4.4zM1676.6 491.3h4.4v4.4h-4.4zM1834.1 477.4h4.4v4.4h-4.4zM1648.9 516.8h4.4v4.4h-4.4zM1755.2 528.4h4.4v4.4h-4.4zM1810.8 537.7h4.4v4.4h-4.4zM1623.4 556.1h4.4v4.4h-4.4zM1674.4 567.8h4.4v4.4h-4.4zM1787.9 618.8h4.4v4.4h-4.4zM1787.9 639.7h4.4v4.4h-4.4zM1882.5 658.1h4.4v4.4h-4.4zM1926.5 660.6h4.4v4.4h-4.4zM1928.9 669.8h4.4v4.4h-4.4zM1868.7 674.4h4.4v4.4h-4.4zM1815.5 683.6h4.4v4.4h-4.4zM1912.6 685.8h4.4v4.4h-4.4zM1813.4 690.4h4.4v4.4h-4.4zM1810.9 699.9h4.4v4.4h-4.4zM1806.3 704.5h4.4v4.4h-4.4zM1787.9 709.1h4.4v4.4h-4.4zM1806.3 711.6h4.4v4.4h-4.4zM1845.6 720.8h4.4v4.4h-4.4zM2123.1 510h4.4v4.4h-4.4z"/>
<path fill="#ed7d31" d="M1569.7 762.5h4.4v4.4h-4.4zM1562.4 759.3h4.4v4.4h-4.4zM1716.9 653h4.4v4.4h-4.4zM1636.5 752.3h4.4v4.4h-4.4zM1649.5 707.6h4.4v4.4h-4.4zM1605.2 750.1h4.4v4.4h-4.4zM1591.5 765.3h4.4v4.4h-4.4zM1566.2 739.9h4.4v4.4h-4.4zM1732.8 701.4h4.4v4.4h-4.4zM1681.1 736.1h4.4v4.4h-4.4zM1648.7 650h4.4v4.4h-4.4zM1558.8 729.8h4.4v4.4h-4.4zM1655.7 752h4.4v4.4h-4.4zM1615.1 692.8h4.4v4.4h-4.4zM1772.4 645.2h4.4v4.4h-4.4zM1576.1 761.2h4.4v4.4h-4.4zM1496.3 755.2h4.4v4.4h-4.4zM1648.1 645.6h4.4v4.4h-4.4zM1678.1 705.2h4.4v4.4h-4.4zM1556.8 736.8h4.4v4.4h-4.4zM1706.9 641.5h4.4v4.4h-4.4zM1701.8 649.2h4.4v4.4h-4.4zM1583.2 744.4h4.4v4.4h-4.4zM1590.8 744.3h4.4v4.4h-4.4zM1740.4 614.4h4.4v4.4h-4.4zM1575.7 747.4h4.4v4.4h-4.4zM1552.7 719.1h4.4v4.4h-4.4zM1706.3 659.8h4.4v4.4h-4.4zM1658.8 733.3h4.4v4.4h-4.4zM1589.9 745.5h4.4v4.4h-4.4zM1655.6 703h4.4v4.4h-4.4zM1532.4 768h4.4v4.4h-4.4zM1564.7 727.1h4.4v4.4h-4.4zM1587.7 762.4h4.4v4.4h-4.4zM1637.1 683.2h4.4v4.4h-4.4zM1574 734.6h4.4v4.4h-4.4zM1701.1 668.2h4.4v4.4h-4.4zM1633.2 700.4h4.4v4.4h-4.4zM1693.1 662.4h4.4v4.4h-4.4zM1557.6 754.5h4.4v4.4h-4.4zM1684.7 651.7h4.4v4.4h-4.4zM1692.4 654.2h4.4v4.4h-4.4zM1643 728.7h4.4v4.4h-4.4zM1649.8 759.9h4.4v4.4h-4.4zM1603 704.5h4.4v4.4h-4.4zM1572.3 751.6h4.4v4.4h-4.4zM1604.4 697.5h4.4v4.4h-4.4zM1641.5 705.8h4.4v4.4h-4.4zM1678.8 646.3h4.4v4.4h-4.4zM1577 705.6h4.4v4.4h-4.4zM1668.5 744.9h4.4v4.4h-4.4zM1723.9 607.7h4.4v4.4h-4.4zM1526.3 753.1h4.4v4.4h-4.4zM1616.3 760.5h4.4v4.4h-4.4zM1550.8 755h4.4v4.4h-4.4zM1724.1 630h4.4v4.4h-4.4zM1591.3 720.6h4.4v4.4h-4.4zM1629 718.1h4.4v4.4h-4.4zM1674.7 680.6h4.4v4.4h-4.4zM1634.6 721.9h4.4v4.4h-4.4zM1704.1 698.3h4.4v4.4h-4.4zM1576.3 759.7h4.4v4.4h-4.4zM1759.2 616.7h4.4v4.4h-4.4zM1639.6 688.1h4.4v4.4h-4.4zM1675.2 741h4.4v4.4h-4.4zM1592.7 750.2h4.4v4.4h-4.4zM1666.6 730.9h4.4v4.4h-4.4zM1595.1 742.8h4.4v4.4h-4.4zM1617.2 729.3h4.4v4.4h-4.4zM1588.8 767.2h4.4v4.4h-4.4zM1547.6 745.1h4.4v4.4h-4.4zM1637 766.7h4.4v4.4h-4.4zM1606.7 708.9h4.4v4.4h-4.4zM1669.8 648h4.4v4.4h-4.4zM1582.2 709.4h4.4v4.4h-4.4zM1664.4 729.9h4.4v4.4h-4.4zM1558.9 725.4h4.4v4.4h-4.4zM1619.7 722.4h4.4v4.4h-4.4zM1603.4 729.4h4.4v4.4h-4.4zM1560.9 727.1h4.4v4.4h-4.4zM1720.3 627.2h4.4v4.4h-4.4zM1611.7 721.2h4.4v4.4h-4.4zM1664.3 620h4.4v4.4h-4.4zM1648.7 724.4h4.4v4.4h-4.4zM1536.8 730.7h4.4v4.4h-4.4zM1610.9 723.8h4.4v4.4h-4.4zM1669.6 719.6h4.4v4.4h-4.4zM1638 721.4h4.4v4.4h-4.4zM1548.6 749.5h4.4v4.4h-4.4zM1579.9 707.1h4.4v4.4h-4.4zM1758.2 616.4h4.4v4.4h-4.4zM1600.7 741.6h4.4v4.4h-4.4zM1597.8 744h4.4v4.4h-4.4zM1568 750.1h4.4v4.4h-4.4zM1642.9 707.7h4.4v4.4h-4.4zM1571.8 744.8h4.4v4.4h-4.4zM1672.7 679.9h4.4v4.4h-4.4zM1662.1 731.7h4.4v4.4h-4.4zM1669.2 680.9h4.4v4.4h-4.4zM1607.7 742h4.4v4.4h-4.4zM1643 696.5h4.4v4.4h-4.4zM1751.9 647.4h4.4v4.4h-4.4zM1563.2 762.4h4.4v4.4h-4.4zM1565.5 736.1h4.4v4.4h-4.4zM1607.1 704.3h4.4v4.4h-4.4zM1702.2 702.1h4.4v4.4h-4.4zM1600.7 691.4h4.4v4.4h-4.4zM1580.4 751.7h4.4v4.4h-4.4zM1707.9 611.3h4.4v4.4h-4.4zM1668.2 675.9h4.4v4.4h-4.4zM1683.9 716.7h4.4v4.4h-4.4zM1588.8 735h4.4v4.4h-4.4zM1612.1 724.7h4.4v4.4h-4.4zM1517.7 749.3h4.4v4.4h-4.4zM1573.3 743.9h4.4v4.4h-4.4zM1616.3 751.2h4.4v4.4h-4.4zM1578.9 710.1h4.4v4.4h-4.4zM1532.3 737.9h4.4v4.4h-4.4zM1661.2 689.3h4.4v4.4h-4.4zM1626.3 704.9h4.4v4.4h-4.4zM1709.4 588.5h4.4v4.4h-4.4zM1582 742.5h4.4v4.4h-4.4zM1536.2 742.1h4.4v4.4h-4.4zM1555.2 738.1h4.4v4.4h-4.4zM1616.4 729.9h4.4v4.4h-4.4zM1693.2 698.6h4.4v4.4h-4.4zM1601.6 730h4.4v4.4h-4.4zM1679.8 714.1h4.4v4.4h-4.4zM1721.9 670.7h4.4v4.4h-4.4zM1627.9 722.7h4.4v4.4h-4.4zM1494.8 757.6h4.4v4.4h-4.4zM1697.6 676.3h4.4v4.4h-4.4zM1761.1 618.5h4.4v4.4h-4.4zM1626.7 682.7h4.4v4.4h-4.4zM1586.9 760h4.4v4.4h-4.4zM1500.3 753.1h4.4v4.4h-4.4zM1623.3 710.9h4.4v4.4h-4.4zM1700.5 702.6h4.4v4.4h-4.4zM1638 679h4.4v4.4h-4.4zM1551.5 747h4.4v4.4h-4.4zM1593.6 735.3h4.4v4.4h-4.4zM1596.7 736.2h4.4v4.4h-4.4zM1663.5 744.9h4.4v4.4h-4.4zM1706.6 613.8h4.4v4.4h-4.4zM1632.3 758.1h4.4v4.4h-4.4zM1619.6 670.8h4.4v4.4h-4.4zM1513.7 747.5h4.4v4.4h-4.4zM1579 730.8h4.4v4.4h-4.4zM1700.6 589.7h4.4v4.4h-4.4zM1553.5 756.2h4.4v4.4h-4.4zM1546.8 766h4.4v4.4h-4.4zM1737.6 655.2h4.4v4.4h-4.4zM1701.4 610.9h4.4v4.4h-4.4zM1703.5 641.8h4.4v4.4h-4.4zM1563.3 753h4.4v4.4h-4.4zM1762.5 663.3h4.4v4.4h-4.4zM1587.1 738.4h4.4v4.4h-4.4zM1734.8 585.7h4.4v4.4h-4.4zM1606.2 726.8h4.4v4.4h-4.4zM1672.2 730.4h4.4v4.4h-4.4zM1664 630.9h4.4v4.4h-4.4zM1592.1 762.9h4.4v4.4h-4.4zM1725.9 691.9h4.4v4.4h-4.4zM1586.8 725.5h4.4v4.4h-4.4zM1667 672.1h4.4v4.4h-4.4zM1719 708.3h4.4v4.4h-4.4zM1599.7 718.8h4.4v4.4h-4.4zM1755.4 686h4.4v4.4h-4.4zM1506.8 765.2h4.4v4.4h-4.4zM1704 693.4h4.4v4.4h-4.4zM1600 732.1h4.4v4.4h-4.4zM1522.9 763.5h4.4v4.4h-4.4zM1539.9 767.7h4.4v4.4h-4.4zM1559.4 751.3h4.4v4.4h-4.4zM1704.1 729h4.4v4.4h-4.4zM1634.9 721.8h4.4v4.4h-4.4zM1587.7 726.1h4.4v4.4h-4.4zM1675.3 730h4.4v4.4h-4.4zM1566.3 743.9h4.4v4.4h-4.4zM1738.4 623.3h4.4v4.4h-4.4zM1560.1 732.2h4.4v4.4h-4.4zM1577.8 729h4.4v4.4h-4.4zM1659.5 748.7h4.4v4.4h-4.4zM1613.4 696h4.4v4.4h-4.4zM1577.9 728.7h4.4v4.4h-4.4zM1677.3 691.7h4.4v4.4h-4.4zM1522.1 743.5h4.4v4.4h-4.4zM1728.6 689.5h4.4v4.4h-4.4zM1631.2 712.7h4.4v4.4h-4.4zM1706.3 708.7h4.4v4.4h-4.4zM1640.9 628.4h4.4v4.4h-4.4zM1585 722.9h4.4v4.4h-4.4zM1725.4 587h4.4v4.4h-4.4zM1634.8 696.5h4.4v4.4h-4.4zM1595.1 722.6h4.4v4.4h-4.4zM1553 724.7h4.4v4.4h-4.4zM1629 701.2h4.4v4.4h-4.4zM1671.1 671.7h4.4v4.4h-4.4zM1642.6 726.1h4.4v4.4h-4.4zM1647.9 667.6h4.4v4.4h-4.4zM1659.8 649.2h4.4v4.4h-4.4zM1650.4 645.7h4.4v4.4h-4.4zM1643.7 703.7h4.4v4.4h-4.4zM1703.9 608.5h4.4v4.4h-4.4zM1758.7 689.4h4.4v4.4h-4.4zM1654.7 676.9h4.4v4.4h-4.4zM1652 629.5h4.4v4.4h-4.4zM1566.7 723.9h4.4v4.4h-4.4zM1570.8 744.1h4.4v4.4h-4.4zM1602 721h4.4v4.4h-4.4zM1698.1 702.2h4.4v4.4h-4.4zM1753.9 679.5h4.4v4.4h-4.4zM1678.4 694.7h4.4v4.4h-4.4zM1628.4 738.5h4.4v4.4h-4.4zM1637.2 638.5h4.4v4.4h-4.4zM1628.6 743.5h4.4v4.4h-4.4zM1565.9 728.4h4.4v4.4h-4.4zM1634.3 719.9h4.4v4.4h-4.4zM1601.8 749.3h4.4v4.4h-4.4zM1568 742.2h4.4v4.4h-4.4zM1708.6 715.3h4.4v4.4h-4.4zM1637.3 748h4.4v4.4h-4.4zM1547.9 735h4.4v4.4h-4.4zM1577.5 722.6h4.4v4.4h-4.4zM1633.7 614.4h4.4v4.4h-4.4zM1678.6 733.2h4.4v4.4h-4.4zM1655.5 702.8h4.4v4.4h-4.4zM1565.5 766h4.4v4.4h-4.4zM1633 765.6h4.4v4.4h-4.4zM1723.9 662.3h4.4v4.4h-4.4zM1633.6 762.4h4.4v4.4h-4.4zM1635.9 741.9h4.4v4.4h-4.4zM1675.6 690.7h4.4v4.4h-4.4zM1619.7 736.2h4.4v4.4h-4.4zM1638.6 671.4h4.4v4.4h-4.4zM1691.3 720.3h4.4v4.4h-4.4zM1675 621.7h4.4v4.4h-4.4zM1652 686h4.4v4.4h-4.4zM1718.8 645.5h4.4v4.4h-4.4zM1486 767h4.4v4.4h-4.4zM1532.5 744.6h4.4v4.4h-4.4zM1601.1 722.9h4.4v4.4h-4.4zM1704.6 689.7h4.4v4.4h-4.4zM1679.7 622.7h4.4v4.4h-4.4zM1683.1 620.7h4.4v4.4h-4.4zM1639 701h4.4v4.4h-4.4zM1740 600.6h4.4v4.4h-4.4zM1683.9 696.9h4.4v4.4h-4.4zM1642 681.4h4.4v4.4h-4.4zM1672.7 675.4h4.4v4.4h-4.4zM1566.4 734.5h4.4v4.4h-4.4zM1739.6 685.9h4.4v4.4h-4.4zM1613.7 701.2h4.4v4.4h-4.4zM1698 703h4.4v4.4h-4.4zM1741 634.9h4.4v4.4h-4.4zM1614 693.2h4.4v4.4h-4.4zM1578.7 724.9h4.4v4.4h-4.4zM1710.4 591.7h4.4v4.4h-4.4zM1570.7 758.7h4.4v4.4h-4.4zM1645.2 670.8h4.4v4.4h-4.4zM1655.1 731h4.4v4.4h-4.4zM1694.6 672h4.4v4.4h-4.4zM1702.4 659.1h4.4v4.4h-4.4zM1516.7 749.2h4.4v4.4h-4.4zM1731.9 651.2h4.4v4.4h-4.4zM1672 643.2h4.4v4.4h-4.4zM1652.3 738.1h4.4v4.4h-4.4zM1707.7 712h4.4v4.4h-4.4zM1708.9 609.6h4.4v4.4h-4.4zM1669.1 698.2h4.4v4.4h-4.4zM1632.1 731.3h4.4v4.4h-4.4zM1636.6 708.9h4.4v4.4h-4.4zM1651 680.2h4.4v4.4h-4.4zM1713.3 673h4.4v4.4h-4.4zM1520.4 744.8h4.4v4.4h-4.4zM1546.4 739.8h4.4v4.4h-4.4zM1645.2 668.3h4.4v4.4h-4.4zM1608.1 699.3h4.4v4.4h-4.4zM1615.7 739.8h4.4v4.4h-4.4zM1628.4 724.8h4.4v4.4h-4.4zM1597.2 736.9h4.4v4.4h-4.4zM1631.7 733.7h4.4v4.4h-4.4zM1697.5 643.7h4.4v4.4h-4.4zM1605 745.5h4.4v4.4h-4.4zM1594.7 759.4h4.4v4.4h-4.4zM1728.1 658.5h4.4v4.4h-4.4zM1544.3 762.6h4.4v4.4h-4.4zM1519.9 758.1h4.4v4.4h-4.4zM1768 670.4h4.4v4.4h-4.4zM1657.8 698h4.4v4.4h-4.4zM1617.9 711.8h4.4v4.4h-4.4zM1685.2 713.2h4.4v4.4h-4.4zM1735.5 647.2h4.4v4.4h-4.4zM1541.8 749.9h4.4v4.4h-4.4zM1715.4 636.3h4.4v4.4h-4.4zM1573.3 764.6h4.4v4.4h-4.4zM1607.3 696.4h4.4v4.4h-4.4zM1554.2 768h4.4v4.4h-4.4zM1661 686.1h4.4v4.4h-4.4zM1549.4 714.7h4.4v4.4h-4.4zM1628.4 690.5h4.4v4.4h-4.4zM1610.5 723.4h4.4v4.4h-4.4zM1593.2 730.3h4.4v4.4h-4.4zM1701.8 640.8h4.4v4.4h-4.4zM1672.8 695.9h4.4v4.4h-4.4zM1706.5 661.3h4.4v4.4h-4.4zM1533.6 756.7h4.4v4.4h-4.4zM1734.6 696.5h4.4v4.4h-4.4zM1673.6 718.9h4.4v4.4h-4.4zM1733.2 680.8h4.4v4.4h-4.4zM1631.5 701.3h4.4v4.4h-4.4zM1677.8 724.4h4.4v4.4h-4.4zM1615.4 719.1h4.4v4.4h-4.4zM1726 593.3h4.4v4.4h-4.4zM1688.4 673.5h4.4v4.4h-4.4zM1582.6 737.5h4.4v4.4h-4.4zM1642.1 706.9h4.4v4.4h-4.4zM1715.9 689.9h4.4v4.4h-4.4zM1514.2 751h4.4v4.4h-4.4zM1622.1 714.6h4.4v4.4h-4.4zM1628.9 729.8h4.4v4.4h-4.4zM1545.1 746.4h4.4v4.4h-4.4zM1562.5 760.7h4.4v4.4h-4.4zM1692 658h4.4v4.4h-4.4zM1587.5 748.4h4.4v4.4h-4.4zM1552.8 733.7h4.4v4.4h-4.4zM1559.5 762.4h4.4v4.4h-4.4zM1666.5 689.7h4.4v4.4h-4.4zM1627.4 642.1h4.4v4.4h-4.4zM1624.5 721.5h4.4v4.4h-4.4zM1668.2 727.7h4.4v4.4h-4.4zM1552.5 748.6h4.4v4.4h-4.4zM1529.6 751.7h4.4v4.4h-4.4zM1656.6 719h4.4v4.4h-4.4zM1602.9 749.1h4.4v4.4h-4.4zM1583.8 752.8h4.4v4.4h-4.4zM1567.7 750.7h4.4v4.4h-4.4zM1544.9 737.1h4.4v4.4h-4.4zM1659.2 713.8h4.4v4.4h-4.4zM1562.3 742.5h4.4v4.4h-4.4zM1688.3 742.1h4.4v4.4h-4.4zM1572.6 756.9h4.4v4.4h-4.4zM1599.2 739h4.4v4.4h-4.4zM1668.2 666.1h4.4v4.4h-4.4zM1587.1 719.9h4.4v4.4h-4.4zM1620 662.4h4.4v4.4h-4.4zM1579.9 743.1h4.4v4.4h-4.4zM1624.9 687.2h4.4v4.4h-4.4zM1635.1 674.1h4.4v4.4h-4.4zM1648.7 650h4.4v4.4h-4.4zM1668.8 730.6h4.4v4.4h-4.4zM1579.9 717.1h4.4v4.4h-4.4zM1633.6 714.1h4.4v4.4h-4.4zM1568.3 727.2h4.4v4.4h-4.4zM1571 759.4h4.4v4.4h-4.4zM1692.5 699.4h4.4v4.4h-4.4zM1684.3 718.1h4.4v4.4h-4.4zM1738.7 684.3h4.4v4.4h-4.4zM1733.5 703.6h4.4v4.4h-4.4zM1757.1 664.3h4.4v4.4h-4.4zM1685.4 737.5h4.4v4.4h-4.4zM1687.5 721.8h4.4v4.4h-4.4zM1558.6 767.4h4.4v4.4h-4.4zM1772.5 631.7h4.4v4.4h-4.4zM1656.5 697.3h4.4v4.4h-4.4zM1574.3 725.5h4.4v4.4h-4.4zM1651.7 713.8h4.4v4.4h-4.4zM1684.1 714.8h4.4v4.4h-4.4zM1555.9 743.6h4.4v4.4h-4.4zM1538.7 740.6h4.4v4.4h-4.4zM1731.2 680.1h4.4v4.4h-4.4zM1641.2 713.7h4.4v4.4h-4.4zM1577.3 742.4h4.4v4.4h-4.4zM1668.2 726.7h4.4v4.4h-4.4zM1517.6 741h4.4v4.4h-4.4zM1696.5 639.1h4.4v4.4h-4.4zM1576.3 750.7h4.4v4.4h-4.4zM1644.5 725.7h4.4v4.4h-4.4zM1533.5 734.4h4.4v4.4h-4.4zM1734 620.6h4.4v4.4h-4.4zM1627.8 701.6h4.4v4.4h-4.4zM1510.2 758.1h4.4v4.4h-4.4zM1617.1 699.5h4.4v4.4h-4.4zM1535 759.3h4.4v4.4h-4.4zM1567.4 739.7h4.4v4.4h-4.4zM1646.7 753.8h4.4v4.4h-4.4zM1565.6 730.1h4.4v4.4h-4.4zM1629.9 718.8h4.4v4.4h-4.4zM1587.5 753.5h4.4v4.4h-4.4zM1604.3 744.6h4.4v4.4h-4.4zM1606.8 733.2h4.4v4.4h-4.4zM1620.5 668.6h4.4v4.4h-4.4zM1714.9 723.3h4.4v4.4h-4.4zM1573 756.9h4.4v4.4h-4.4zM1727.1 676.7h4.4v4.4h-4.4zM1725.1 701.1h4.4v4.4h-4.4zM1639.2 716.9h4.4v4.4h-4.4zM1663.6 708h4.4v4.4h-4.4zM1538.8 766.3h4.4v4.4h-4.4zM1518.5 765h4.4v4.4h-4.4zM1604.5 697.9h4.4v4.4h-4.4zM1598.4 752h4.4v4.4h-4.4zM1592.3 700.3h4.4v4.4h-4.4zM1522.9 744.2h4.4v4.4h-4.4zM1579.7 755.6h4.4v4.4h-4.4zM1608.2 743.8h4.4v4.4h-4.4zM1576.3 733.2h4.4v4.4h-4.4zM1736.1 690.6h4.4v4.4h-4.4zM1554.3 761.9h4.4v4.4h-4.4zM1667.4 733.9h4.4v4.4h-4.4zM1629.4 745.7h4.4v4.4h-4.4zM1689.6 707.7h4.4v4.4h-4.4zM1646.7 708.6h4.4v4.4h-4.4zM1724.2 628h4.4v4.4h-4.4zM1698.2 713.2h4.4v4.4h-4.4zM1732.9 689.8h4.4v4.4h-4.4zM1647.8 739.8h4.4v4.4h-4.4zM1616.7 707.5h4.4v4.4h-4.4zM1688.9 695.3h4.4v4.4h-4.4zM1654.9 638.2h4.4v4.4h-4.4zM1606.3 759.1h4.4v4.4h-4.4zM1541.9 752.1h4.4v4.4h-4.4zM1605.6 661.7h4.4v4.4h-4.4zM1686.1 702.1h4.4v4.4h-4.4zM1532.8 738h4.4v4.4h-4.4zM1680.4 689.7h4.4v4.4h-4.4zM1604 747.3h4.4v4.4h-4.4zM1647.3 698h4.4v4.4h-4.4zM1584.1 748.9h4.4v4.4h-4.4zM1692.6 598.6h4.4v4.4h-4.4zM1570.2 743.7h4.4v4.4h-4.4zM1758.5 624.6h4.4v4.4h-4.4zM1579.4 736.3h4.4v4.4h-4.4zM1612.8 752.7h4.4v4.4h-4.4zM1593 726.9h4.4v4.4h-4.4zM1757.2 642.7h4.4v4.4h-4.4zM1674.4 649.6h4.4v4.4h-4.4zM1633.2 761.1h4.4v4.4h-4.4zM1544.5 715h4.4v4.4h-4.4zM1741.2 610.9h4.4v4.4h-4.4zM1660.2 720.2h4.4v4.4h-4.4zM1566.8 738.6h4.4v4.4h-4.4zM1624.3 708.2h4.4v4.4h-4.4zM1549.9 733h4.4v4.4h-4.4zM1581.4 738.3h4.4v4.4h-4.4zM1668.5 653.6h4.4v4.4h-4.4zM1620 688.2h4.4v4.4h-4.4zM1768.7 672h4.4v4.4h-4.4zM1669.1 705.6h4.4v4.4h-4.4zM1551.7 754.3h4.4v4.4h-4.4zM1635.7 730.9h4.4v4.4h-4.4zM1669.4 684.1h4.4v4.4h-4.4zM1658.8 685.3h4.4v4.4h-4.4zM1685.8 647.1h4.4v4.4h-4.4zM1629.5 734.5h4.4v4.4h-4.4zM1691.7 718.1h4.4v4.4h-4.4zM1687.9 737.3h4.4v4.4h-4.4zM1602.9 727.7h4.4v4.4h-4.4zM1643.3 755.8h4.4v4.4h-4.4zM1680.6 719.3h4.4v4.4h-4.4zM1658.6 659h4.4v4.4h-4.4zM1553.9 762.5h4.4v4.4h-4.4zM1566.1 734h4.4v4.4h-4.4zM1635.9 740.3h4.4v4.4h-4.4zM1709.9 644.5h4.4v4.4h-4.4zM1756.1 695.2h4.4v4.4h-4.4zM1595.3 702.9h4.4v4.4h-4.4zM1643.9 700.6h4.4v4.4h-4.4zM1547.5 733.2h4.4v4.4h-4.4zM1650.1 698.3h4.4v4.4h-4.4zM1716.8 664h4.4v4.4h-4.4zM1638.9 751.3h4.4v4.4h-4.4zM1699.7 635.3h4.4v4.4h-4.4zM1660.9 722.3h4.4v4.4h-4.4zM1668.1 716.1h4.4v4.4h-4.4zM1702.8 696.6h4.4v4.4h-4.4zM1659.2 690.4h4.4v4.4h-4.4zM1702.7 702.4h4.4v4.4h-4.4zM1584 761h4.4v4.4h-4.4zM1659.5 671.9h4.4v4.4h-4.4zM1640.8 751.7h4.4v4.4h-4.4zM1538.9 732.3h4.4v4.4h-4.4zM1679.3 700.2h4.4v4.4h-4.4zM1580.2 743.2h4.4v4.4h-4.4zM1588.1 737.7h4.4v4.4h-4.4zM1625.7 736.3h4.4v4.4h-4.4zM1677.5 722.8h4.4v4.4h-4.4zM1723.6 657.8h4.4v4.4h-4.4zM1657.3 720.2h4.4v4.4h-4.4zM1602 700.5h4.4v4.4h-4.4zM1488.8 762.1h4.4v4.4h-4.4zM1745.4 588.8h4.4v4.4h-4.4zM1651.1 712.7h4.4v4.4h-4.4zM1727.3 651.3h4.4v4.4h-4.4zM1617.5 723.1h4.4v4.4h-4.4zM1612.5 669.7h4.4v4.4h-4.4zM1632.3 755.6h4.4v4.4h-4.4zM1604.1 755.9h4.4v4.4h-4.4zM1532.2 754.1h4.4v4.4h-4.4zM1663.2 704.1h4.4v4.4h-4.4zM1581.1 732.7h4.4v4.4h-4.4zM1657.9 711.2h4.4v4.4h-4.4zM1650 744.9h4.4v4.4h-4.4zM1614.1 705.5h4.4v4.4h-4.4zM1617.7 719.2h4.4v4.4h-4.4zM1601.1 671.2h4.4v4.4h-4.4zM1617.6 656.7h4.4v4.4h-4.4zM1569.5 746.6h4.4v4.4h-4.4zM1595.5 763h4.4v4.4h-4.4zM1546 725.4h4.4v4.4h-4.4zM1672.2 742h4.4v4.4h-4.4zM1618.2 659.3h4.4v4.4h-4.4zM1633 688.1h4.4v4.4h-4.4zM1620.8 739h4.4v4.4h-4.4zM1623.2 686.9h4.4v4.4h-4.4zM1566.3 750.9h4.4v4.4h-4.4zM1603.2 669.7h4.4v4.4h-4.4zM1689 688.7h4.4v4.4h-4.4zM1625.6 742h4.4v4.4h-4.4zM1567.9 741.4h4.4v4.4h-4.4zM1977.4 315.5h4.4v4.4h-4.4zM1995.8 333.9h4.4v4.4h-4.4zM1778.5 364.1h4.4v4.4h-4.4zM1836.3 415.1h4.4v4.4h-4.4zM1797 424.3h4.4v4.4h-4.4zM1792.4 440.5h4.4v4.4h-4.4zM1829.3 442.7h4.4v4.4h-4.4zM1810.8 479.9h4.4v4.4h-4.4zM1653.5 516.8h4.4v4.4h-4.4zM1789.9 523.8h4.4v4.4h-4.4zM1741.4 523.8h4.4v4.4h-4.4zM1738.9 526h4.4v4.4h-4.4zM1732.2 537.7h4.4v4.4h-4.4zM1725.1 540.1h4.4v4.4h-4.4zM1720.5 546.9h4.4v4.4h-4.4zM1764.4 544.7h4.4v4.4h-4.4zM1783.2 542.3h4.4v4.4h-4.4zM1709.1 563.2h4.4v4.4h-4.4zM1699.9 569.9h4.4v4.4h-4.4zM1734.3 569.9h4.4v4.4h-4.4zM1750.6 572.4h4.4v4.4h-4.4zM1771.5 576.7h4.4v4.4h-4.4zM1834.1 574.5h4.4v4.4h-4.4zM1799.5 586.5h4.4v4.4h-4.4zM1799.5 588.7h4.4v4.4h-4.4zM1845.6 607.1h4.4v4.4h-4.4zM1778.6 607.1h4.4v4.4h-4.4zM1806.3 611.8h4.4v4.4h-4.4zM1801.7 621h4.4v4.4h-4.4zM1815.5 623.4h4.4v4.4h-4.4zM1836.4 625.6h4.4v4.4h-4.4zM1801.7 628h4.4v4.4h-4.4zM1813.4 630.5h4.4v4.4h-4.4zM1780.8 630.5h4.4v4.4h-4.4zM1778.6 635.1h4.4v4.4h-4.4zM1806.3 639.7h4.4v4.4h-4.4zM1818 637.3h4.4v4.4h-4.4zM1778.6 641.9h4.4v4.4h-4.4zM1813.4 644.3h4.4v4.4h-4.4zM1785.4 646.5h4.4v4.4h-4.4zM1776.2 655.7h4.4v4.4h-4.4zM1813.4 658.1h4.4v4.4h-4.4zM1810.9 662.8h4.4v4.4h-4.4zM1917.2 653.5h4.4v4.4h-4.4zM1787.9 665.2h4.4v4.4h-4.4zM1797.1 667.4h4.4v4.4h-4.4zM1794.9 669.8h4.4v4.4h-4.4zM1857 679h4.4v4.4h-4.4zM1792.5 681.2h4.4v4.4h-4.4zM1787.9 685.8h4.4v4.4h-4.4zM1808.7 685.8h4.4v4.4h-4.4zM1818 702.1h4.4v4.4h-4.4zM1780.8 706.7h4.4v4.4h-4.4zM1783.2 706.7h4.4v4.4h-4.4z"/>
<text class="t" y="97.7"><tspan x="1430.8" textLength="69.7" lengthAdjust="spacingAndGlyphs" font-style="italic">g_y</tspan><tspan> </tspan><tspan x="1510.2" textLength="193.8" lengthAdjust="spacingAndGlyphs">Maximum</tspan><tspan> </tspan><tspan x="1714.5" textLength="71.8" lengthAdjust="spacingAndGlyphs">and</tspan><tspan> </tspan><tspan x="1797.9" textLength="153.1" lengthAdjust="spacingAndGlyphs">Kurtosis</tspan><tspan> </tspan><tspan x="1961.6" textLength="208.2" lengthAdjust="spacingAndGlyphs">correlation</tspan></text>
<text class="a" y="0" style="font-size:36.5px" transform="translate(1228.8 581.4) rotate(-90)"><tspan x="-1.5" textLength="134.4" lengthAdjust="spacingAndGlyphs">Kurtosis</tspan><tspan> </tspan><tspan x="142" textLength="88.9" lengthAdjust="spacingAndGlyphs">value</tspan></text>
<text class="a" y="863.9"><tspan x="1653.5" textLength="169" lengthAdjust="spacingAndGlyphs">Maximum</tspan><tspan> </tspan><tspan x="1831.8" textLength="90.6" lengthAdjust="spacingAndGlyphs">value</tspan></text>
<text class="k" text-anchor="end" x="1274.8" y="781" textLength="15.9" lengthAdjust="spacingAndGlyphs">0</text>
<text class="k" text-anchor="end" x="1274.8" y="672.7" textLength="15.9" lengthAdjust="spacingAndGlyphs">5</text>
<text class="k" text-anchor="end" x="1274.8" y="564.1" textLength="31.9" lengthAdjust="spacingAndGlyphs">10</text>
<text class="k" text-anchor="end" x="1274.8" y="456.3" textLength="31.9" lengthAdjust="spacingAndGlyphs">15</text>
<text class="k" text-anchor="end" x="1274.8" y="346.8" textLength="31.9" lengthAdjust="spacingAndGlyphs">20</text>
<text class="k" text-anchor="end" x="1274.8" y="237.3" textLength="31.9" lengthAdjust="spacingAndGlyphs">25</text>
<text class="k" text-anchor="end" x="1274.8" y="125.7" textLength="31.9" lengthAdjust="spacingAndGlyphs">30</text>
<text class="k" text-anchor="middle" x="1303.4" y="822.3" textLength="15.9" lengthAdjust="spacingAndGlyphs">0</text>
<text class="k" text-anchor="middle" x="1468.5" y="822.3" textLength="39.8" lengthAdjust="spacingAndGlyphs">0.5</text>
<text class="k" text-anchor="middle" x="1633.5" y="822.3" textLength="15.9" lengthAdjust="spacingAndGlyphs">1</text>
<text class="k" text-anchor="middle" x="1798.6" y="822.3" textLength="39.8" lengthAdjust="spacingAndGlyphs">1.5</text>
<text class="k" text-anchor="middle" x="1963.7" y="822.3" textLength="15.9" lengthAdjust="spacingAndGlyphs">2</text>
<text class="k" text-anchor="middle" x="2128.7" y="822.3" textLength="39.8" lengthAdjust="spacingAndGlyphs">2.5</text>
<text class="k" text-anchor="middle" x="2293.8" y="822.3" textLength="15.9" lengthAdjust="spacingAndGlyphs">3</text>
<rect x="2020.4" y="148" width="247.9" height="119.5" fill="#fdfdfd" stroke="#4d4d4d" stroke-width="2.4"/>
<text class="l" y="185.6"><tspan x="2064.3" textLength="104.3" lengthAdjust="spacingAndGlyphs">Normal</tspan><tspan> </tspan><tspan x="2175.1" textLength="81.4" lengthAdjust="spacingAndGlyphs">signal</tspan></text>
<text class="l" y="245.8"><tspan x="2064.3" textLength="98.3" lengthAdjust="spacingAndGlyphs">Broken</tspan><tspan> </tspan><tspan x="2170.5" textLength="81.5" lengthAdjust="spacingAndGlyphs">signal</tspan></text>
<rect x="2042.5" y="174.1" width="4.4" height="4.4" fill="#9dc3e6"/>
<rect x="2042.5" y="234.4" width="4.4" height="4.4" fill="#ed7d31"/>
</g>
<g id="panel-g_z">
<rect x="31.6" y="898" width="1140.4" height="856.9" fill="#fdfdfd" stroke="#404040" stroke-width="4.8" stroke-linejoin="round"/>
<path d="M153.3 1638H1139M153.3 1508.2H1139M153.3 1378.6H1139M153.3 1249H1139M153.3 1119.8H1139M153.3 992.5H1139M153.3 991.4V1639.1" stroke="#d6d6d6" stroke-width="2.2" fill="none"/>
<path d="M153.3 1638H1139" stroke="#c8c8c8" stroke-width="2.2" fill="none"/>
<path fill="#5b9bd5" fill-opacity="0.74" d="M580.6 1597.2h4.4v4.4h-4.4zM721.6 1457.6h4.4v4.4h-4.4zM556.5 1489.5h4.4v4.4h-4.4zM480.5 1604.7h4.4v4.4h-4.4zM658.5 1517.1h4.4v4.4h-4.4zM579.2 1558.9h4.4v4.4h-4.4zM589.6 1517.9h4.4v4.4h-4.4zM590.3 1479.7h4.4v4.4h-4.4zM520.5 1632.2h4.4v4.4h-4.4zM557.8 1622h4.4v4.4h-4.4zM595.3 1608.2h4.4v4.4h-4.4zM614.1 1629.1h4.4v4.4h-4.4zM520.5 1628.8h4.4v4.4h-4.4zM749.7 1605.3h4.4v4.4h-4.4zM750.7 1598.4h4.4v4.4h-4.4zM594.5 1613.4h4.4v4.4h-4.4zM446.2 1628.7h4.4v4.4h-4.4zM769.5 1468.6h4.4v4.4h-4.4zM653.1 1498.6h4.4v4.4h-4.4zM573.7 1593.2h4.4v4.4h-4.4zM457.1 1619.3h4.4v4.4h-4.4zM522.6 1528.9h4.4v4.4h-4.4zM576.7 1608.7h4.4v4.4h-4.4zM551.5 1587.2h4.4v4.4h-4.4zM664.7 1597.4h4.4v4.4h-4.4zM602.8 1612.5h4.4v4.4h-4.4zM712.1 1580h4.4v4.4h-4.4zM491.1 1631.3h4.4v4.4h-4.4zM558.8 1588.2h4.4v4.4h-4.4zM727.1 1556.5h4.4v4.4h-4.4zM583 1631.6h4.4v4.4h-4.4zM611.3 1556.4h4.4v4.4h-4.4zM620.1 1606.7h4.4v4.4h-4.4zM726.5 1513.3h4.4v4.4h-4.4zM740.7 1603.1h4.4v4.4h-4.4zM679.1 1465.1h4.4v4.4h-4.4zM623.9 1577.3h4.4v4.4h-4.4zM774.5 1469.3h4.4v4.4h-4.4zM585.2 1559.8h4.4v4.4h-4.4zM689.7 1537.4h4.4v4.4h-4.4zM649.2 1577.5h4.4v4.4h-4.4zM541.3 1613.4h4.4v4.4h-4.4zM500 1594.1h4.4v4.4h-4.4zM480 1591h4.4v4.4h-4.4zM671.3 1574.7h4.4v4.4h-4.4zM499.9 1595.5h4.4v4.4h-4.4zM726.2 1488.7h4.4v4.4h-4.4zM672.8 1555.9h4.4v4.4h-4.4zM677.8 1487.7h4.4v4.4h-4.4zM670.8 1470.1h4.4v4.4h-4.4zM524.7 1544.6h4.4v4.4h-4.4zM613.7 1555.4h4.4v4.4h-4.4zM692.7 1507.3h4.4v4.4h-4.4zM575.9 1576.4h4.4v4.4h-4.4zM651.2 1586.5h4.4v4.4h-4.4zM595.1 1601.4h4.4v4.4h-4.4zM674 1612.7h4.4v4.4h-4.4zM444.3 1619.3h4.4v4.4h-4.4zM719.3 1566.8h4.4v4.4h-4.4zM633.3 1606.3h4.4v4.4h-4.4zM544.2 1585.4h4.4v4.4h-4.4zM646.2 1564.3h4.4v4.4h-4.4zM557.5 1613.4h4.4v4.4h-4.4zM715.8 1541.5h4.4v4.4h-4.4zM714.4 1592h4.4v4.4h-4.4zM650.1 1560.1h4.4v4.4h-4.4zM535 1630.8h4.4v4.4h-4.4zM516.1 1604h4.4v4.4h-4.4zM746.7 1508.5h4.4v4.4h-4.4zM517.1 1608.3h4.4v4.4h-4.4zM636.2 1604.8h4.4v4.4h-4.4zM650.2 1614.3h4.4v4.4h-4.4zM755.5 1610.2h4.4v4.4h-4.4zM648.3 1626.6h4.4v4.4h-4.4zM730.9 1512.3h4.4v4.4h-4.4zM526.1 1530.2h4.4v4.4h-4.4zM650.3 1612.3h4.4v4.4h-4.4zM684.1 1516.5h4.4v4.4h-4.4zM790.2 1523.4h4.4v4.4h-4.4zM586.6 1616.8h4.4v4.4h-4.4zM787.5 1540.7h4.4v4.4h-4.4zM670.7 1559.5h4.4v4.4h-4.4zM551.5 1606.5h4.4v4.4h-4.4zM581.6 1492.7h4.4v4.4h-4.4zM626 1536.1h4.4v4.4h-4.4zM591.4 1632.6h4.4v4.4h-4.4zM607.2 1619h4.4v4.4h-4.4zM551.3 1526.2h4.4v4.4h-4.4zM519.7 1600.5h4.4v4.4h-4.4zM465.3 1632.1h4.4v4.4h-4.4zM641.8 1554.7h4.4v4.4h-4.4zM691.2 1550.3h4.4v4.4h-4.4zM746.8 1575.6h4.4v4.4h-4.4zM448.8 1594.1h4.4v4.4h-4.4zM501.4 1624.1h4.4v4.4h-4.4zM600 1496.9h4.4v4.4h-4.4zM696.8 1480.4h4.4v4.4h-4.4zM625.1 1560.1h4.4v4.4h-4.4zM696.1 1458.4h4.4v4.4h-4.4zM604.4 1595.4h4.4v4.4h-4.4zM714.7 1564.5h4.4v4.4h-4.4zM798.6 1506.1h4.4v4.4h-4.4zM677.9 1583.2h4.4v4.4h-4.4zM478.8 1628.8h4.4v4.4h-4.4zM703.3 1479.1h4.4v4.4h-4.4zM726.5 1543.2h4.4v4.4h-4.4zM653.5 1551.8h4.4v4.4h-4.4zM599.2 1599.8h4.4v4.4h-4.4zM480.1 1595.4h4.4v4.4h-4.4zM677.4 1488.9h4.4v4.4h-4.4zM695.7 1534.4h4.4v4.4h-4.4zM526.5 1618h4.4v4.4h-4.4zM569.5 1630.5h4.4v4.4h-4.4zM630 1602.8h4.4v4.4h-4.4zM548 1559.3h4.4v4.4h-4.4zM629 1508.6h4.4v4.4h-4.4zM728.9 1552.7h4.4v4.4h-4.4zM706.2 1621h4.4v4.4h-4.4zM562 1613.6h4.4v4.4h-4.4zM575.6 1608.6h4.4v4.4h-4.4zM540.1 1631.1h4.4v4.4h-4.4zM654.2 1609.8h4.4v4.4h-4.4zM576.5 1538.9h4.4v4.4h-4.4zM721.2 1567h4.4v4.4h-4.4zM688.9 1601.8h4.4v4.4h-4.4zM640.7 1606.3h4.4v4.4h-4.4zM733.3 1541.2h4.4v4.4h-4.4zM672.5 1536.6h4.4v4.4h-4.4zM479.2 1577.2h4.4v4.4h-4.4zM471.5 1607.4h4.4v4.4h-4.4zM651.1 1618.1h4.4v4.4h-4.4zM588.6 1600.8h4.4v4.4h-4.4zM603.2 1569.9h4.4v4.4h-4.4zM651.3 1563.5h4.4v4.4h-4.4zM760.5 1489.4h4.4v4.4h-4.4zM695.5 1573.5h4.4v4.4h-4.4zM752.6 1460.9h4.4v4.4h-4.4zM737.3 1548.3h4.4v4.4h-4.4zM594.6 1606.2h4.4v4.4h-4.4zM758.8 1577.5h4.4v4.4h-4.4zM492.5 1571.9h4.4v4.4h-4.4zM722.8 1573.8h4.4v4.4h-4.4zM629.8 1514.5h4.4v4.4h-4.4zM637.5 1629.6h4.4v4.4h-4.4zM600.6 1587.3h4.4v4.4h-4.4zM659.5 1592.8h4.4v4.4h-4.4zM478.3 1625.5h4.4v4.4h-4.4zM743.7 1584.6h4.4v4.4h-4.4zM556.3 1622.6h4.4v4.4h-4.4zM578.6 1628.2h4.4v4.4h-4.4zM855 1021.7h4.4v4.4h-4.4zM908.2 1227.8h4.4v4.4h-4.4zM718.6 1311.1h4.4v4.4h-4.4zM766.9 1380.3h4.4v4.4h-4.4zM811.1 1391.9h4.4v4.4h-4.4zM602.8 1401.1h4.4v4.4h-4.4zM887.3 1424.2h4.4v4.4h-4.4zM616.6 1424.2h4.4v4.4h-4.4zM690.7 1435.9h4.4v4.4h-4.4zM667.3 1444.8h4.4v4.4h-4.4zM850.5 1468.2h4.4v4.4h-4.4zM977.5 1461.1h4.4v4.4h-4.4zM903.7 1493.7h4.4v4.4h-4.4zM979.9 1509.7h4.4v4.4h-4.4zM820.2 1523.5h4.4v4.4h-4.4zM869 1535.2h4.4v4.4h-4.4zM917.5 1546.8h4.4v4.4h-4.4zM818 1553.6h4.4v4.4h-4.4zM857.9 1565.3h4.4v4.4h-4.4zM818 1583.7h4.4v4.4h-4.4zM424.9 1609.7h4.4v4.4h-4.4z"/><path fill="#5b9bd5" fill-opacity="0.74" d="M434.5 1616.6h4.4v4.4h-4.4zM641.3 1611.1h4.4v4.4h-4.4zM633.7 1596.9h4.4v4.4h-4.4zM740 1519.6h4.4v4.4h-4.4zM554.1 1522.5h4.4v4.4h-4.4zM541 1614.1h4.4v4.4h-4.4zM584.8 1515.5h4.4v4.4h-4.4zM530.8 1555.6h4.4v4.4h-4.4zM803.8 1505h4.4v4.4h-4.4zM726.9 1611.1h4.4v4.4h-4.4zM723.8 1565.3h4.4v4.4h-4.4zM639.9 1558.6h4.4v4.4h-4.4zM719.1 1520.8h4.4v4.4h-4.4zM703.5 1621h4.4v4.4h-4.4zM525.6 1615.7h4.4v4.4h-4.4zM756.6 1473.8h4.4v4.4h-4.4zM528.5 1628.6h4.4v4.4h-4.4zM695 1567h4.4v4.4h-4.4zM559.8 1603.1h4.4v4.4h-4.4zM798.7 1524.2h4.4v4.4h-4.4zM591.5 1528.5h4.4v4.4h-4.4zM434.5 1601.5h4.4v4.4h-4.4zM518.1 1631.2h4.4v4.4h-4.4zM440.5 1614.3h4.4v4.4h-4.4zM514 1598h4.4v4.4h-4.4zM604.9 1577.9h4.4v4.4h-4.4zM623.8 1575.8h4.4v4.4h-4.4zM602.1 1618.1h4.4v4.4h-4.4zM692.1 1563.2h4.4v4.4h-4.4zM739 1495.2h4.4v4.4h-4.4zM527.9 1614.2h4.4v4.4h-4.4zM699.1 1505h4.4v4.4h-4.4zM509.8 1631.2h4.4v4.4h-4.4zM564.2 1534.6h4.4v4.4h-4.4zM543.1 1605.1h4.4v4.4h-4.4zM610.8 1576.2h4.4v4.4h-4.4zM614.2 1460.8h4.4v4.4h-4.4zM687 1493.4h4.4v4.4h-4.4zM458.5 1597.7h4.4v4.4h-4.4zM511 1555.2h4.4v4.4h-4.4zM593.5 1609h4.4v4.4h-4.4zM767.4 1575.4h4.4v4.4h-4.4zM567.4 1602.4h4.4v4.4h-4.4zM664 1623.8h4.4v4.4h-4.4zM569.6 1540.5h4.4v4.4h-4.4zM780.4 1576.4h4.4v4.4h-4.4zM672.6 1621.2h4.4v4.4h-4.4zM494.8 1632.2h4.4v4.4h-4.4zM615.1 1587.2h4.4v4.4h-4.4zM500.7 1597.6h4.4v4.4h-4.4zM634.1 1599.4h4.4v4.4h-4.4zM625.4 1568.9h4.4v4.4h-4.4zM656.2 1624h4.4v4.4h-4.4zM641.7 1588.4h4.4v4.4h-4.4zM593.8 1632.5h4.4v4.4h-4.4zM717.3 1476.3h4.4v4.4h-4.4zM777.8 1458.9h4.4v4.4h-4.4zM613.5 1595.1h4.4v4.4h-4.4zM640.9 1619.6h4.4v4.4h-4.4zM485.6 1626h4.4v4.4h-4.4zM539.5 1543.1h4.4v4.4h-4.4zM635.9 1562.1h4.4v4.4h-4.4zM488 1606.8h4.4v4.4h-4.4zM494.3 1622.8h4.4v4.4h-4.4zM672.2 1493.8h4.4v4.4h-4.4zM569.9 1626.8h4.4v4.4h-4.4zM798.2 1564.7h4.4v4.4h-4.4zM501 1620.7h4.4v4.4h-4.4zM675.1 1522.8h4.4v4.4h-4.4zM600.9 1622.9h4.4v4.4h-4.4zM593.1 1620.1h4.4v4.4h-4.4zM747.6 1582.9h4.4v4.4h-4.4zM694.3 1578.5h4.4v4.4h-4.4zM542.9 1616.1h4.4v4.4h-4.4zM640.9 1474.6h4.4v4.4h-4.4zM700.6 1601.4h4.4v4.4h-4.4zM447.2 1590.7h4.4v4.4h-4.4zM583.9 1508.7h4.4v4.4h-4.4zM496.5 1615.4h4.4v4.4h-4.4zM741.4 1563.1h4.4v4.4h-4.4zM708.7 1610.8h4.4v4.4h-4.4zM656.2 1591.2h4.4v4.4h-4.4zM738.3 1506.2h4.4v4.4h-4.4zM676.8 1581.9h4.4v4.4h-4.4zM696 1525.9h4.4v4.4h-4.4zM638.9 1580.4h4.4v4.4h-4.4zM675.2 1558.7h4.4v4.4h-4.4zM709.7 1527.7h4.4v4.4h-4.4zM514.2 1568.3h4.4v4.4h-4.4zM687.4 1548.3h4.4v4.4h-4.4zM565.7 1493.3h4.4v4.4h-4.4zM720.2 1597.3h4.4v4.4h-4.4zM728.9 1521h4.4v4.4h-4.4zM645.4 1630h4.4v4.4h-4.4zM702.5 1624.5h4.4v4.4h-4.4zM527.9 1529.2h4.4v4.4h-4.4zM789.2 1566h4.4v4.4h-4.4zM762.9 1564.5h4.4v4.4h-4.4zM743.2 1614h4.4v4.4h-4.4zM723.3 1563h4.4v4.4h-4.4zM583.8 1549.1h4.4v4.4h-4.4zM450.9 1634.4h4.4v4.4h-4.4zM617.5 1477.5h4.4v4.4h-4.4zM540.8 1583.2h4.4v4.4h-4.4zM574.1 1565.7h4.4v4.4h-4.4zM586.9 1576.6h4.4v4.4h-4.4zM657.4 1611.8h4.4v4.4h-4.4zM636 1552.8h4.4v4.4h-4.4zM619.2 1556.6h4.4v4.4h-4.4zM733.6 1505.8h4.4v4.4h-4.4zM712.2 1542.7h4.4v4.4h-4.4zM517.8 1572h4.4v4.4h-4.4zM782.8 1507.9h4.4v4.4h-4.4zM664.5 1605.7h4.4v4.4h-4.4zM495.1 1610.7h4.4v4.4h-4.4zM676.6 1571.7h4.4v4.4h-4.4zM481.4 1605.2h4.4v4.4h-4.4zM596.7 1604.2h4.4v4.4h-4.4zM738.4 1534.2h4.4v4.4h-4.4zM745 1579.4h4.4v4.4h-4.4zM777.1 1500h4.4v4.4h-4.4zM551.7 1607.4h4.4v4.4h-4.4zM665 1530.2h4.4v4.4h-4.4zM693.1 1582.7h4.4v4.4h-4.4zM595 1545.7h4.4v4.4h-4.4zM492.3 1592.9h4.4v4.4h-4.4zM678.1 1557h4.4v4.4h-4.4zM748.1 1564.4h4.4v4.4h-4.4zM571.8 1587h4.4v4.4h-4.4zM651.3 1513.2h4.4v4.4h-4.4zM512.9 1605.9h4.4v4.4h-4.4zM469 1633.2h4.4v4.4h-4.4zM481 1600.3h4.4v4.4h-4.4zM773.6 1573.5h4.4v4.4h-4.4zM513.7 1596.7h4.4v4.4h-4.4zM606 1568.4h4.4v4.4h-4.4zM698.2 1625.2h4.4v4.4h-4.4zM746.5 1520h4.4v4.4h-4.4zM577.5 1546.1h4.4v4.4h-4.4zM664.8 1556.3h4.4v4.4h-4.4zM523.4 1572.1h4.4v4.4h-4.4zM595 1597.7h4.4v4.4h-4.4zM569.2 1629.7h4.4v4.4h-4.4zM546.5 1601.7h4.4v4.4h-4.4zM703.9 1569.5h4.4v4.4h-4.4zM567.1 1573.8h4.4v4.4h-4.4zM726 1597.5h4.4v4.4h-4.4zM504.2 1566.7h4.4v4.4h-4.4zM634.7 1602.2h4.4v4.4h-4.4zM611.2 1500.4h4.4v4.4h-4.4zM862.1 1095.4h4.4v4.4h-4.4zM848 1269.3h4.4v4.4h-4.4zM852.6 1331.7h4.4v4.4h-4.4zM739.2 1382.7h4.4v4.4h-4.4zM831.7 1391.9h4.4v4.4h-4.4zM746.3 1412.8h4.4v4.4h-4.4zM577.3 1424.2h4.4v4.4h-4.4zM736.8 1428.8h4.4v4.4h-4.4zM843.4 1440.5h4.4v4.4h-4.4zM681.4 1444.8h4.4v4.4h-4.4zM878.2 1458.9h4.4v4.4h-4.4zM829.4 1484.2h4.4v4.4h-4.4zM931.4 1491.2h4.4v4.4h-4.4zM841 1514.3h4.4v4.4h-4.4zM841 1530.5h4.4v4.4h-4.4zM829.4 1539.8h4.4v4.4h-4.4zM905.9 1551.4h4.4v4.4h-4.4zM845.9 1556h4.4v4.4h-4.4zM848.4 1567.7h4.4v4.4h-4.4zM808.8 1558.2h4.4v4.4h-4.4zM425.9 1630.2h4.4v4.4h-4.4z"/><path fill="#5b9bd5" fill-opacity="0.74" d="M668.2 1579.7h4.4v4.4h-4.4zM699.9 1614.3h4.4v4.4h-4.4zM806 1510h4.4v4.4h-4.4zM598.3 1566.8h4.4v4.4h-4.4zM763.3 1580.6h4.4v4.4h-4.4zM620.5 1533.2h4.4v4.4h-4.4zM611.8 1585.9h4.4v4.4h-4.4zM688.4 1550.7h4.4v4.4h-4.4zM658.5 1615.4h4.4v4.4h-4.4zM465 1584.3h4.4v4.4h-4.4zM625.3 1529.6h4.4v4.4h-4.4zM490.4 1629.6h4.4v4.4h-4.4zM514.4 1619.2h4.4v4.4h-4.4zM525.7 1543.6h4.4v4.4h-4.4zM676.7 1501.8h4.4v4.4h-4.4zM606 1610.7h4.4v4.4h-4.4zM630.5 1513.5h4.4v4.4h-4.4zM595.3 1549.2h4.4v4.4h-4.4zM579.4 1593.1h4.4v4.4h-4.4zM576.8 1614.5h4.4v4.4h-4.4zM780.9 1572.1h4.4v4.4h-4.4zM541.7 1617.3h4.4v4.4h-4.4zM661.3 1552.6h4.4v4.4h-4.4zM712.1 1598h4.4v4.4h-4.4zM638.7 1576.9h4.4v4.4h-4.4zM774.6 1523.7h4.4v4.4h-4.4zM654.1 1556.5h4.4v4.4h-4.4zM595.5 1570.7h4.4v4.4h-4.4zM659.5 1587.3h4.4v4.4h-4.4zM565.3 1592.1h4.4v4.4h-4.4zM576.2 1631.3h4.4v4.4h-4.4zM595.1 1527.2h4.4v4.4h-4.4zM768.5 1601.7h4.4v4.4h-4.4zM538.3 1591.9h4.4v4.4h-4.4zM598.6 1485.9h4.4v4.4h-4.4zM655.5 1599.4h4.4v4.4h-4.4zM713.3 1501.5h4.4v4.4h-4.4zM637.9 1530h4.4v4.4h-4.4zM553.1 1628.2h4.4v4.4h-4.4zM751.7 1537.9h4.4v4.4h-4.4zM768.7 1557.7h4.4v4.4h-4.4zM556.7 1580.8h4.4v4.4h-4.4zM537.8 1600h4.4v4.4h-4.4zM680.6 1621.7h4.4v4.4h-4.4zM577.9 1547.5h4.4v4.4h-4.4zM616.4 1510.9h4.4v4.4h-4.4zM753.6 1514.8h4.4v4.4h-4.4zM741 1521.1h4.4v4.4h-4.4zM702 1573.2h4.4v4.4h-4.4zM524.4 1617.9h4.4v4.4h-4.4zM576.7 1572.4h4.4v4.4h-4.4zM604.3 1604.2h4.4v4.4h-4.4zM679.4 1505.8h4.4v4.4h-4.4zM445.7 1633.6h4.4v4.4h-4.4zM553.1 1545.2h4.4v4.4h-4.4zM498.4 1616.3h4.4v4.4h-4.4zM658.1 1595.4h4.4v4.4h-4.4zM602.7 1588.7h4.4v4.4h-4.4zM795 1560.2h4.4v4.4h-4.4zM676.9 1590.1h4.4v4.4h-4.4zM800.8 1499.5h4.4v4.4h-4.4zM460.2 1606.7h4.4v4.4h-4.4zM500.2 1616.6h4.4v4.4h-4.4zM628.7 1631.3h4.4v4.4h-4.4zM713.6 1572.1h4.4v4.4h-4.4zM595.5 1629.5h4.4v4.4h-4.4zM566.7 1566.9h4.4v4.4h-4.4zM533.7 1598.5h4.4v4.4h-4.4zM631.4 1598.9h4.4v4.4h-4.4zM510 1614.6h4.4v4.4h-4.4zM527.1 1587.3h4.4v4.4h-4.4zM450.3 1631.6h4.4v4.4h-4.4zM578.1 1618.5h4.4v4.4h-4.4zM520 1573.8h4.4v4.4h-4.4zM498.9 1631.1h4.4v4.4h-4.4zM542.4 1613.3h4.4v4.4h-4.4zM647.5 1545.1h4.4v4.4h-4.4zM712.2 1610.9h4.4v4.4h-4.4zM708.1 1504.3h4.4v4.4h-4.4zM625.1 1600.7h4.4v4.4h-4.4zM613.9 1622.8h4.4v4.4h-4.4zM673.2 1534.8h4.4v4.4h-4.4zM547.1 1622.5h4.4v4.4h-4.4zM636.4 1604.7h4.4v4.4h-4.4zM643.8 1488.9h4.4v4.4h-4.4zM614.7 1607h4.4v4.4h-4.4zM719.5 1588.9h4.4v4.4h-4.4zM516 1621.3h4.4v4.4h-4.4zM614.3 1563.3h4.4v4.4h-4.4zM704.1 1521h4.4v4.4h-4.4zM468.3 1619.5h4.4v4.4h-4.4zM485.4 1616.5h4.4v4.4h-4.4zM708.5 1464.9h4.4v4.4h-4.4zM491.1 1623.9h4.4v4.4h-4.4zM693.9 1546.9h4.4v4.4h-4.4zM608.7 1493.2h4.4v4.4h-4.4zM535.2 1571.3h4.4v4.4h-4.4zM438.6 1625.6h4.4v4.4h-4.4zM541.3 1613.7h4.4v4.4h-4.4zM643.6 1542.5h4.4v4.4h-4.4zM576.4 1632.4h4.4v4.4h-4.4zM491.6 1599h4.4v4.4h-4.4zM609.4 1594.3h4.4v4.4h-4.4zM632.9 1465.1h4.4v4.4h-4.4zM648 1483.2h4.4v4.4h-4.4zM655.4 1618h4.4v4.4h-4.4zM630.6 1543h4.4v4.4h-4.4zM656.6 1549.9h4.4v4.4h-4.4zM508.5 1587.5h4.4v4.4h-4.4zM724.4 1591.6h4.4v4.4h-4.4zM557.1 1595.9h4.4v4.4h-4.4zM617.1 1534.6h4.4v4.4h-4.4zM507.3 1618.7h4.4v4.4h-4.4zM495.4 1624.2h4.4v4.4h-4.4zM768.5 1516.3h4.4v4.4h-4.4zM516.2 1562.7h4.4v4.4h-4.4zM583.6 1538.7h4.4v4.4h-4.4zM550.8 1599.5h4.4v4.4h-4.4zM479.6 1615.1h4.4v4.4h-4.4zM536.6 1561h4.4v4.4h-4.4zM555.7 1592.2h4.4v4.4h-4.4zM504.2 1610.3h4.4v4.4h-4.4zM578.5 1576.6h4.4v4.4h-4.4zM495.5 1611.3h4.4v4.4h-4.4zM589.9 1585.8h4.4v4.4h-4.4zM528.6 1614.9h4.4v4.4h-4.4zM563.6 1591.2h4.4v4.4h-4.4zM626.5 1569.1h4.4v4.4h-4.4zM471.2 1612.9h4.4v4.4h-4.4zM537 1616h4.4v4.4h-4.4zM739.1 1577.3h4.4v4.4h-4.4zM676.4 1624.9h4.4v4.4h-4.4zM693.8 1563.8h4.4v4.4h-4.4zM632.9 1595.7h4.4v4.4h-4.4zM538.4 1546.5h4.4v4.4h-4.4zM623.5 1495.2h4.4v4.4h-4.4zM624.2 1549.3h4.4v4.4h-4.4zM519.7 1612.1h4.4v4.4h-4.4zM693.5 1522.2h4.4v4.4h-4.4zM548.3 1545h4.4v4.4h-4.4zM617.9 1538.5h4.4v4.4h-4.4zM599.3 1592.3h4.4v4.4h-4.4zM559.4 1617.2h4.4v4.4h-4.4zM780.9 1577.1h4.4v4.4h-4.4zM593.4 1509.1h4.4v4.4h-4.4zM625.3 1585.7h4.4v4.4h-4.4zM741.2 1607.2h4.4v4.4h-4.4zM661.4 1523.4h4.4v4.4h-4.4zM557.1 1606.8h4.4v4.4h-4.4zM609.2 1603.6h4.4v4.4h-4.4zM843.4 1197.7h4.4v4.4h-4.4zM991.5 1320.3h4.4v4.4h-4.4zM743.8 1359.4h4.4v4.4h-4.4zM702.3 1389.5h4.4v4.4h-4.4zM871 1396.5h4.4v4.4h-4.4zM702.3 1417.4h4.4v4.4h-4.4zM581.9 1426.6h4.4v4.4h-4.4zM635.3 1435.9h4.4v4.4h-4.4zM669.8 1442.6h4.4v4.4h-4.4zM843.7 1461.1h4.4v4.4h-4.4zM880.4 1458.9h4.4v4.4h-4.4zM829.4 1486.6h4.4v4.4h-4.4zM861.9 1493.7h4.4v4.4h-4.4zM878.2 1518.9h4.4v4.4h-4.4zM885 1530.5h4.4v4.4h-4.4zM843.7 1544.4h4.4v4.4h-4.4zM829.4 1551.4h4.4v4.4h-4.4zM841 1560.7h4.4v4.4h-4.4zM836.4 1576.9h4.4v4.4h-4.4zM804.1 1558.2h4.4v4.4h-4.4z"/>
<path fill="#ed7d31" d="M613.3 1568.2h4.4v4.4h-4.4zM692.7 1479.2h4.4v4.4h-4.4zM505.2 1566.4h4.4v4.4h-4.4zM694.7 1561.1h4.4v4.4h-4.4zM715.8 1496.7h4.4v4.4h-4.4zM565.4 1540.8h4.4v4.4h-4.4zM608.6 1530.9h4.4v4.4h-4.4zM443.7 1582h4.4v4.4h-4.4zM537.6 1583.5h4.4v4.4h-4.4zM607 1555.5h4.4v4.4h-4.4zM660.7 1536.9h4.4v4.4h-4.4zM491 1544.2h4.4v4.4h-4.4zM723.2 1534.3h4.4v4.4h-4.4zM651.1 1467.1h4.4v4.4h-4.4zM706.2 1529.2h4.4v4.4h-4.4zM567.8 1541.4h4.4v4.4h-4.4zM587 1481.9h4.4v4.4h-4.4zM565.1 1603.6h4.4v4.4h-4.4zM534.2 1597.7h4.4v4.4h-4.4zM651.2 1524.5h4.4v4.4h-4.4zM694 1542.7h4.4v4.4h-4.4zM469.2 1621.5h4.4v4.4h-4.4zM548.7 1594.6h4.4v4.4h-4.4zM740.2 1549h4.4v4.4h-4.4zM681.1 1490.7h4.4v4.4h-4.4zM626 1544.4h4.4v4.4h-4.4zM548.7 1611h4.4v4.4h-4.4zM655.4 1539.4h4.4v4.4h-4.4zM640.5 1569.3h4.4v4.4h-4.4zM516.7 1566.7h4.4v4.4h-4.4zM461.4 1592h4.4v4.4h-4.4zM558.9 1572h4.4v4.4h-4.4zM529.2 1594.4h4.4v4.4h-4.4zM725.8 1510.4h4.4v4.4h-4.4zM520.4 1590h4.4v4.4h-4.4zM500.5 1614.9h4.4v4.4h-4.4zM457.6 1603.2h4.4v4.4h-4.4zM574.4 1601.7h4.4v4.4h-4.4zM771.6 1496h4.4v4.4h-4.4zM515.3 1604.6h4.4v4.4h-4.4zM501.3 1593h4.4v4.4h-4.4zM579.1 1598h4.4v4.4h-4.4zM537.7 1557.7h4.4v4.4h-4.4zM494.5 1627.3h4.4v4.4h-4.4zM532.6 1567.8h4.4v4.4h-4.4zM553.9 1615.3h4.4v4.4h-4.4zM518.4 1607h4.4v4.4h-4.4zM696.2 1539.1h4.4v4.4h-4.4zM626.5 1564.4h4.4v4.4h-4.4zM519.9 1599h4.4v4.4h-4.4zM616 1537.6h4.4v4.4h-4.4zM449.4 1594.6h4.4v4.4h-4.4zM589.5 1595.7h4.4v4.4h-4.4zM525.1 1572.5h4.4v4.4h-4.4zM597.3 1616.2h4.4v4.4h-4.4zM444.7 1589.7h4.4v4.4h-4.4zM570.5 1550.8h4.4v4.4h-4.4zM742.5 1514.9h4.4v4.4h-4.4zM536.8 1612.9h4.4v4.4h-4.4zM481.8 1615.7h4.4v4.4h-4.4zM533.7 1531.8h4.4v4.4h-4.4zM676.5 1580.7h4.4v4.4h-4.4zM517 1594.4h4.4v4.4h-4.4zM545.4 1518.9h4.4v4.4h-4.4zM627.2 1563.7h4.4v4.4h-4.4zM740.7 1481.1h4.4v4.4h-4.4zM633.2 1491.5h4.4v4.4h-4.4zM499.1 1597.5h4.4v4.4h-4.4zM577.3 1562.6h4.4v4.4h-4.4zM554.1 1591.9h4.4v4.4h-4.4zM570.1 1565.6h4.4v4.4h-4.4zM571 1548.9h4.4v4.4h-4.4zM533.1 1564.8h4.4v4.4h-4.4zM454.1 1613.9h4.4v4.4h-4.4zM633.4 1527.4h4.4v4.4h-4.4zM484.9 1601.7h4.4v4.4h-4.4zM442.7 1594.5h4.4v4.4h-4.4zM584.8 1625.7h4.4v4.4h-4.4zM501.3 1543.6h4.4v4.4h-4.4zM464 1618.3h4.4v4.4h-4.4zM637.2 1560.4h4.4v4.4h-4.4zM690.5 1499.9h4.4v4.4h-4.4zM547.9 1602.5h4.4v4.4h-4.4zM612.8 1516.8h4.4v4.4h-4.4zM628.1 1590.7h4.4v4.4h-4.4zM491 1619.7h4.4v4.4h-4.4zM443.9 1625.4h4.4v4.4h-4.4zM576.5 1604.4h4.4v4.4h-4.4zM465.3 1623.3h4.4v4.4h-4.4zM462.5 1558.6h4.4v4.4h-4.4zM777.7 1511.2h4.4v4.4h-4.4zM601 1596.6h4.4v4.4h-4.4zM591.3 1617.2h4.4v4.4h-4.4zM572 1477.7h4.4v4.4h-4.4zM520.8 1599.4h4.4v4.4h-4.4zM682.3 1529.5h4.4v4.4h-4.4zM713.2 1501.7h4.4v4.4h-4.4zM646 1509.4h4.4v4.4h-4.4zM588.7 1545.7h4.4v4.4h-4.4zM479.8 1582.8h4.4v4.4h-4.4zM536.6 1536.5h4.4v4.4h-4.4zM606 1514.9h4.4v4.4h-4.4zM660.2 1535.3h4.4v4.4h-4.4zM658.3 1565.8h4.4v4.4h-4.4zM672.6 1539.9h4.4v4.4h-4.4zM774.1 1501.6h4.4v4.4h-4.4zM479.6 1561.1h4.4v4.4h-4.4zM719.6 1536.8h4.4v4.4h-4.4zM521.7 1545.2h4.4v4.4h-4.4zM481.1 1614h4.4v4.4h-4.4zM699.7 1465.8h4.4v4.4h-4.4zM526.4 1622.1h4.4v4.4h-4.4zM457.3 1616.2h4.4v4.4h-4.4zM687.7 1514.8h4.4v4.4h-4.4zM581 1566.4h4.4v4.4h-4.4zM765.2 1528.2h4.4v4.4h-4.4zM633.2 1525.1h4.4v4.4h-4.4zM726.4 1541.6h4.4v4.4h-4.4zM692.3 1573.2h4.4v4.4h-4.4zM512.5 1607.7h4.4v4.4h-4.4zM538.8 1597.7h4.4v4.4h-4.4zM503.1 1557h4.4v4.4h-4.4zM596.6 1577.4h4.4v4.4h-4.4zM451.9 1610.7h4.4v4.4h-4.4zM497.4 1564.7h4.4v4.4h-4.4zM555.6 1600.4h4.4v4.4h-4.4zM472.2 1581.2h4.4v4.4h-4.4zM493.9 1605h4.4v4.4h-4.4zM607.4 1519.9h4.4v4.4h-4.4zM491.1 1579.4h4.4v4.4h-4.4zM452.3 1578.9h4.4v4.4h-4.4zM558.4 1627.1h4.4v4.4h-4.4zM616.3 1594.9h4.4v4.4h-4.4zM500.9 1581.5h4.4v4.4h-4.4zM496.5 1601.9h4.4v4.4h-4.4zM464.6 1628.7h4.4v4.4h-4.4zM620.1 1549.3h4.4v4.4h-4.4zM641.5 1549.9h4.4v4.4h-4.4zM677.5 1545.8h4.4v4.4h-4.4zM460 1606.4h4.4v4.4h-4.4zM508 1601.5h4.4v4.4h-4.4zM526 1565.9h4.4v4.4h-4.4zM678 1523.8h4.4v4.4h-4.4zM706.4 1509.8h4.4v4.4h-4.4zM517.9 1584.4h4.4v4.4h-4.4zM510.3 1621.3h4.4v4.4h-4.4zM523.1 1519.8h4.4v4.4h-4.4zM546.5 1541.8h4.4v4.4h-4.4zM642.6 1513.4h4.4v4.4h-4.4zM505.4 1592.7h4.4v4.4h-4.4zM528.7 1612.8h4.4v4.4h-4.4zM536.5 1575.7h4.4v4.4h-4.4zM669.1 1494.6h4.4v4.4h-4.4zM461.6 1611.1h4.4v4.4h-4.4zM574.7 1512.8h4.4v4.4h-4.4zM614.7 1531.7h4.4v4.4h-4.4zM623.2 1513.1h4.4v4.4h-4.4zM618.5 1554.1h4.4v4.4h-4.4zM522.5 1600.6h4.4v4.4h-4.4zM635 1591.1h4.4v4.4h-4.4zM518 1613.3h4.4v4.4h-4.4zM525.6 1569.5h4.4v4.4h-4.4zM683.6 1449h4.4v4.4h-4.4zM533.4 1633.4h4.4v4.4h-4.4zM620.9 1474.2h4.4v4.4h-4.4zM561.5 1594.3h4.4v4.4h-4.4zM544.5 1568.3h4.4v4.4h-4.4zM624.9 1552.3h4.4v4.4h-4.4zM435.6 1583.3h4.4v4.4h-4.4zM575.7 1543.3h4.4v4.4h-4.4zM621.2 1578.2h4.4v4.4h-4.4zM516.5 1602.8h4.4v4.4h-4.4zM693.2 1495.9h4.4v4.4h-4.4zM540.9 1611.2h4.4v4.4h-4.4zM614.5 1459.6h4.4v4.4h-4.4zM561.4 1560.7h4.4v4.4h-4.4zM572.9 1542.7h4.4v4.4h-4.4zM544.4 1600.9h4.4v4.4h-4.4zM611.4 1493h4.4v4.4h-4.4zM453.3 1621.4h4.4v4.4h-4.4zM437.9 1622.5h4.4v4.4h-4.4zM572.2 1581.2h4.4v4.4h-4.4zM564.8 1615.8h4.4v4.4h-4.4zM595.9 1573.4h4.4v4.4h-4.4zM594 1530.6h4.4v4.4h-4.4zM578 1600.3h4.4v4.4h-4.4zM498 1615.8h4.4v4.4h-4.4zM548.1 1576.3h4.4v4.4h-4.4zM473.9 1623h4.4v4.4h-4.4zM476.6 1630.7h4.4v4.4h-4.4zM564.4 1570.2h4.4v4.4h-4.4zM499.6 1595.1h4.4v4.4h-4.4zM536.5 1622.7h4.4v4.4h-4.4zM734.3 1529h4.4v4.4h-4.4zM664.5 1454h4.4v4.4h-4.4zM524.5 1538.9h4.4v4.4h-4.4zM556.8 1544.3h4.4v4.4h-4.4zM546 1626.8h4.4v4.4h-4.4zM677.2 1510.4h4.4v4.4h-4.4zM588.7 1541.2h4.4v4.4h-4.4zM567.1 1468.4h4.4v4.4h-4.4zM542.1 1583.6h4.4v4.4h-4.4zM569.1 1561.8h4.4v4.4h-4.4zM581 1482.2h4.4v4.4h-4.4zM572.2 1598h4.4v4.4h-4.4zM609.6 1510.9h4.4v4.4h-4.4zM588 1565.5h4.4v4.4h-4.4zM584.7 1603.3h4.4v4.4h-4.4zM578.9 1541.5h4.4v4.4h-4.4zM600.1 1589.5h4.4v4.4h-4.4zM547.8 1584.6h4.4v4.4h-4.4zM534.7 1604.7h4.4v4.4h-4.4zM561.8 1577.6h4.4v4.4h-4.4zM474.1 1629.5h4.4v4.4h-4.4zM526.1 1618h4.4v4.4h-4.4zM535.4 1586.7h4.4v4.4h-4.4zM487.1 1626.8h4.4v4.4h-4.4zM523.7 1632.9h4.4v4.4h-4.4zM511.8 1610.3h4.4v4.4h-4.4zM589.2 1607.4h4.4v4.4h-4.4zM534.5 1597.9h4.4v4.4h-4.4zM509.6 1607.2h4.4v4.4h-4.4zM583 1601.3h4.4v4.4h-4.4zM578.1 1618.6h4.4v4.4h-4.4zM601.6 1546.4h4.4v4.4h-4.4zM589.7 1603h4.4v4.4h-4.4zM527.5 1619.8h4.4v4.4h-4.4zM594.7 1534.3h4.4v4.4h-4.4zM586.7 1554.1h4.4v4.4h-4.4zM564.8 1598h4.4v4.4h-4.4zM498.5 1602.4h4.4v4.4h-4.4zM568.8 1533.8h4.4v4.4h-4.4zM714.9 1482.6h4.4v4.4h-4.4zM604.7 1570.7h4.4v4.4h-4.4zM641.6 1565.3h4.4v4.4h-4.4zM518.9 1601.4h4.4v4.4h-4.4zM540.2 1567.5h4.4v4.4h-4.4zM685.8 1507.4h4.4v4.4h-4.4zM594.6 1618.8h4.4v4.4h-4.4zM560.3 1491.9h4.4v4.4h-4.4zM490.3 1607.9h4.4v4.4h-4.4zM717.7 1528.6h4.4v4.4h-4.4zM634.3 1576.5h4.4v4.4h-4.4zM648.5 1572.6h4.4v4.4h-4.4zM538.6 1625.1h4.4v4.4h-4.4zM489.6 1608.9h4.4v4.4h-4.4zM596.5 1565.4h4.4v4.4h-4.4zM682.3 1507.9h4.4v4.4h-4.4zM529.4 1589.7h4.4v4.4h-4.4zM694.4 1463.9h4.4v4.4h-4.4zM575.4 1569.9h4.4v4.4h-4.4zM510.4 1582h4.4v4.4h-4.4zM491.2 1615.8h4.4v4.4h-4.4zM706.7 1566.8h4.4v4.4h-4.4zM519.5 1547.7h4.4v4.4h-4.4zM560.2 1548.3h4.4v4.4h-4.4zM717.9 1554.8h4.4v4.4h-4.4zM440 1597.5h4.4v4.4h-4.4zM691 1453h4.4v4.4h-4.4zM516.2 1633.5h4.4v4.4h-4.4zM618.1 1554.1h4.4v4.4h-4.4zM648.5 1485.5h4.4v4.4h-4.4zM485.7 1624.7h4.4v4.4h-4.4zM645.3 1577.9h4.4v4.4h-4.4zM518 1616.1h4.4v4.4h-4.4zM583.6 1583.3h4.4v4.4h-4.4zM499.5 1619.6h4.4v4.4h-4.4zM603.2 1544.8h4.4v4.4h-4.4zM540.8 1583.5h4.4v4.4h-4.4zM688.6 1522h4.4v4.4h-4.4zM630.3 1511.3h4.4v4.4h-4.4zM573.8 1630h4.4v4.4h-4.4zM517.6 1527.1h4.4v4.4h-4.4zM473.7 1608.9h4.4v4.4h-4.4zM469.6 1580.3h4.4v4.4h-4.4zM609.9 1517.7h4.4v4.4h-4.4zM540 1578.9h4.4v4.4h-4.4zM550.4 1569.1h4.4v4.4h-4.4zM496.1 1597.2h4.4v4.4h-4.4zM779.5 1469.5h4.4v4.4h-4.4zM707.8 1513.7h4.4v4.4h-4.4zM498.1 1576h4.4v4.4h-4.4zM657.2 1581.9h4.4v4.4h-4.4zM470.7 1579.7h4.4v4.4h-4.4zM674.6 1572.5h4.4v4.4h-4.4zM553.2 1574.8h4.4v4.4h-4.4zM451.8 1612.2h4.4v4.4h-4.4zM548.1 1597.1h4.4v4.4h-4.4zM596 1564h4.4v4.4h-4.4zM468.8 1603.1h4.4v4.4h-4.4zM455.2 1615.7h4.4v4.4h-4.4zM630.1 1528.9h4.4v4.4h-4.4zM465.5 1594.3h4.4v4.4h-4.4zM639.6 1575h4.4v4.4h-4.4zM596.2 1532.8h4.4v4.4h-4.4zM542 1575.1h4.4v4.4h-4.4zM538.9 1596.9h4.4v4.4h-4.4zM631.4 1543h4.4v4.4h-4.4zM614.9 1478.8h4.4v4.4h-4.4zM449.8 1618.2h4.4v4.4h-4.4zM685.5 1479.1h4.4v4.4h-4.4zM708.8 1553.2h4.4v4.4h-4.4zM602.1 1546.4h4.4v4.4h-4.4zM530.4 1566.4h4.4v4.4h-4.4zM587.9 1542.5h4.4v4.4h-4.4zM715 1557.8h4.4v4.4h-4.4zM678.4 1488.7h4.4v4.4h-4.4zM667.8 1555.4h4.4v4.4h-4.4zM535.5 1509.7h4.4v4.4h-4.4zM663.9 1533.5h4.4v4.4h-4.4zM545.8 1545.7h4.4v4.4h-4.4zM593 1556.2h4.4v4.4h-4.4zM788.4 1505.2h4.4v4.4h-4.4zM517.1 1532.8h4.4v4.4h-4.4zM637.1 1547.8h4.4v4.4h-4.4zM549.2 1585h4.4v4.4h-4.4zM531.5 1585.5h4.4v4.4h-4.4zM649.4 1482.2h4.4v4.4h-4.4zM520.4 1540.1h4.4v4.4h-4.4zM731.4 1534.6h4.4v4.4h-4.4zM614.9 1518.4h4.4v4.4h-4.4zM497.7 1597.7h4.4v4.4h-4.4zM511.5 1631.4h4.4v4.4h-4.4zM614.4 1563.1h4.4v4.4h-4.4zM453.6 1624h4.4v4.4h-4.4zM536 1571.9h4.4v4.4h-4.4zM711.4 1456.6h4.4v4.4h-4.4zM561.9 1602.1h4.4v4.4h-4.4zM667.2 1512.2h4.4v4.4h-4.4zM590.3 1581.4h4.4v4.4h-4.4zM726.8 1551.2h4.4v4.4h-4.4zM573 1598.2h4.4v4.4h-4.4zM573.6 1570.6h4.4v4.4h-4.4zM531 1559.2h4.4v4.4h-4.4zM454.4 1573.9h4.4v4.4h-4.4zM648 1493.7h4.4v4.4h-4.4zM555.4 1554.5h4.4v4.4h-4.4zM529.5 1611.3h4.4v4.4h-4.4zM655.5 1519.5h4.4v4.4h-4.4zM644.6 1518.5h4.4v4.4h-4.4zM636.8 1486.4h4.4v4.4h-4.4zM634.8 1534.9h4.4v4.4h-4.4zM543.8 1505.4h4.4v4.4h-4.4zM669.4 1575.2h4.4v4.4h-4.4zM517.8 1594.5h4.4v4.4h-4.4zM560.3 1505.8h4.4v4.4h-4.4zM536.5 1550.4h4.4v4.4h-4.4zM622.3 1470.7h4.4v4.4h-4.4zM680.4 1551.8h4.4v4.4h-4.4zM654.6 1560h4.4v4.4h-4.4zM589.8 1481.1h4.4v4.4h-4.4zM519.2 1618.9h4.4v4.4h-4.4zM495.8 1580.4h4.4v4.4h-4.4zM523.4 1573.2h4.4v4.4h-4.4zM706.9 1481.4h4.4v4.4h-4.4zM750.5 1534.5h4.4v4.4h-4.4zM647.3 1527.8h4.4v4.4h-4.4zM720.4 1491.6h4.4v4.4h-4.4zM536.8 1541.3h4.4v4.4h-4.4zM574.3 1607h4.4v4.4h-4.4zM473.4 1577.4h4.4v4.4h-4.4zM786.2 1499.1h4.4v4.4h-4.4zM524 1559.4h4.4v4.4h-4.4zM586.9 1604.2h4.4v4.4h-4.4zM518.4 1540.8h4.4v4.4h-4.4zM541.3 1597.9h4.4v4.4h-4.4zM573.1 1587.3h4.4v4.4h-4.4zM472.5 1611.6h4.4v4.4h-4.4zM498.6 1625h4.4v4.4h-4.4zM476.7 1620.8h4.4v4.4h-4.4zM513.2 1608.4h4.4v4.4h-4.4zM539.7 1588h4.4v4.4h-4.4zM602.3 1534.9h4.4v4.4h-4.4zM474 1605h4.4v4.4h-4.4zM650.1 1536.4h4.4v4.4h-4.4zM656.9 1552.5h4.4v4.4h-4.4zM556.1 1579.6h4.4v4.4h-4.4zM742.9 1502.4h4.4v4.4h-4.4zM454.3 1570.9h4.4v4.4h-4.4zM727.5 1501.3h4.4v4.4h-4.4zM446.2 1625.1h4.4v4.4h-4.4zM642.3 1472.2h4.4v4.4h-4.4zM546.7 1597.6h4.4v4.4h-4.4zM608 1531.3h4.4v4.4h-4.4zM735.9 1456.9h4.4v4.4h-4.4zM524.9 1627.7h4.4v4.4h-4.4zM628.6 1507.7h4.4v4.4h-4.4zM573.4 1566.1h4.4v4.4h-4.4zM733.1 1491.7h4.4v4.4h-4.4zM544.8 1558.9h4.4v4.4h-4.4zM557.1 1557.1h4.4v4.4h-4.4zM627 1575.8h4.4v4.4h-4.4zM750.2 1519.2h4.4v4.4h-4.4zM536.7 1587.3h4.4v4.4h-4.4zM499 1556.2h4.4v4.4h-4.4zM521.1 1583.1h4.4v4.4h-4.4zM628.3 1526.4h4.4v4.4h-4.4zM586 1587.5h4.4v4.4h-4.4zM444 1621.1h4.4v4.4h-4.4zM577.5 1570.9h4.4v4.4h-4.4zM486.2 1574.8h4.4v4.4h-4.4zM739.7 1459.2h4.4v4.4h-4.4zM726.3 1472.8h4.4v4.4h-4.4zM671.5 1488.5h4.4v4.4h-4.4zM736.1 1509.3h4.4v4.4h-4.4zM699.2 1505.4h4.4v4.4h-4.4zM597.4 1561.4h4.4v4.4h-4.4zM578.4 1535.7h4.4v4.4h-4.4zM545.8 1604.1h4.4v4.4h-4.4zM532.5 1543.4h4.4v4.4h-4.4zM487.8 1610.7h4.4v4.4h-4.4zM704.8 1516.2h4.4v4.4h-4.4zM480.4 1557.6h4.4v4.4h-4.4zM614.6 1548.2h4.4v4.4h-4.4zM603.7 1559.1h4.4v4.4h-4.4zM550.3 1630.6h4.4v4.4h-4.4zM583.1 1534.1h4.4v4.4h-4.4zM605 1464.8h4.4v4.4h-4.4zM545.9 1590.2h4.4v4.4h-4.4zM489.5 1588.9h4.4v4.4h-4.4zM497.4 1560.3h4.4v4.4h-4.4zM510 1609.7h4.4v4.4h-4.4zM542.1 1584.2h4.4v4.4h-4.4zM515 1611.5h4.4v4.4h-4.4zM548.8 1600.5h4.4v4.4h-4.4zM670.8 1574.1h4.4v4.4h-4.4zM610.5 1527.2h4.4v4.4h-4.4zM527.5 1611.5h4.4v4.4h-4.4zM598.5 1599.6h4.4v4.4h-4.4zM543.4 1507.8h4.4v4.4h-4.4zM526.2 1583.7h4.4v4.4h-4.4zM739.8 1485.8h4.4v4.4h-4.4zM633.7 1577.9h4.4v4.4h-4.4zM608 1566.3h4.4v4.4h-4.4zM640.7 1552.1h4.4v4.4h-4.4zM564.5 1583.4h4.4v4.4h-4.4zM546.7 1544.5h4.4v4.4h-4.4zM590.4 1566.7h4.4v4.4h-4.4zM760.2 1515.6h4.4v4.4h-4.4zM643.4 1554.7h4.4v4.4h-4.4zM677.1 1492.5h4.4v4.4h-4.4zM526.8 1594.9h4.4v4.4h-4.4zM582.9 1578.8h4.4v4.4h-4.4zM786.8 1491.9h4.4v4.4h-4.4zM635.6 1462.9h4.4v4.4h-4.4zM629.2 1559.5h4.4v4.4h-4.4zM644.4 1538.5h4.4v4.4h-4.4zM459 1601.1h4.4v4.4h-4.4zM458.6 1621.4h4.4v4.4h-4.4zM694.8 1530.6h4.4v4.4h-4.4zM641.3 1519.5h4.4v4.4h-4.4zM614.6 1560.2h4.4v4.4h-4.4zM592.8 1520.5h4.4v4.4h-4.4zM633.4 1553.4h4.4v4.4h-4.4zM552.3 1547.6h4.4v4.4h-4.4zM577.7 1597.4h4.4v4.4h-4.4zM642.1 1476.7h4.4v4.4h-4.4zM603.5 1505.9h4.4v4.4h-4.4zM770.1 1530.8h4.4v4.4h-4.4zM540.1 1627.6h4.4v4.4h-4.4zM786.3 1500.1h4.4v4.4h-4.4zM548.3 1602.7h4.4v4.4h-4.4zM527 1586h4.4v4.4h-4.4zM463 1584.7h4.4v4.4h-4.4zM673.9 1579.1h4.4v4.4h-4.4zM574.8 1600.8h4.4v4.4h-4.4zM500.2 1624.2h4.4v4.4h-4.4zM531.2 1545.5h4.4v4.4h-4.4zM624.2 1549.3h4.4v4.4h-4.4zM485.6 1591h4.4v4.4h-4.4zM570.4 1506.8h4.4v4.4h-4.4zM542.2 1548.5h4.4v4.4h-4.4zM446.4 1598h4.4v4.4h-4.4zM578.5 1554.8h4.4v4.4h-4.4zM603.6 1578.8h4.4v4.4h-4.4zM544.8 1559.4h4.4v4.4h-4.4zM518.9 1607.4h4.4v4.4h-4.4zM510.3 1618.3h4.4v4.4h-4.4zM554.2 1536.6h4.4v4.4h-4.4zM587 1562.3h4.4v4.4h-4.4zM682 1511.3h4.4v4.4h-4.4zM740.4 1525.6h4.4v4.4h-4.4zM544 1528.6h4.4v4.4h-4.4zM447.3 1628.3h4.4v4.4h-4.4zM535.7 1622.7h4.4v4.4h-4.4zM643 1553.3h4.4v4.4h-4.4zM524.5 1633.1h4.4v4.4h-4.4zM494.3 1619.9h4.4v4.4h-4.4zM529 1613.8h4.4v4.4h-4.4zM634.5 1508.3h4.4v4.4h-4.4zM451.8 1607.4h4.4v4.4h-4.4zM611.8 1497.7h4.4v4.4h-4.4zM595.8 1585.5h4.4v4.4h-4.4zM690.1 1462.2h4.4v4.4h-4.4zM762.7 1506.6h4.4v4.4h-4.4zM534.2 1618.4h4.4v4.4h-4.4zM667.1 1523.7h4.4v4.4h-4.4zM498.5 1604h4.4v4.4h-4.4zM584.9 1613.7h4.4v4.4h-4.4zM470.2 1583h4.4v4.4h-4.4zM741.7 1144.5h4.4v4.4h-4.4zM831.7 1146.7h4.4v4.4h-4.4zM799.4 1236.8h4.4v4.4h-4.4zM764.7 1257.7h4.4v4.4h-4.4zM750.9 1278.5h4.4v4.4h-4.4zM785.6 1281h4.4v4.4h-4.4zM730 1287.8h4.4v4.4h-4.4zM963.8 1301.9h4.4v4.4h-4.4zM674.4 1334.1h4.4v4.4h-4.4zM757.7 1334.1h4.4v4.4h-4.4zM762.3 1338.8h4.4v4.4h-4.4zM699.9 1361.8h4.4v4.4h-4.4zM769.3 1361.8h4.4v4.4h-4.4zM665.2 1378.1h4.4v4.4h-4.4zM722.9 1384.9h4.4v4.4h-4.4zM942.6 1394.1h4.4v4.4h-4.4zM961.4 1391.9h4.4v4.4h-4.4zM836.3 1408.2h4.4v4.4h-4.4zM591.1 1408.2h4.4v4.4h-4.4zM600.3 1417.4h4.4v4.4h-4.4zM612 1424.2h4.4v4.4h-4.4zM880.3 1422h4.4v4.4h-4.4zM665.2 1426.6h4.4v4.4h-4.4zM669.8 1428.8h4.4v4.4h-4.4zM843.4 1428.8h4.4v4.4h-4.4zM817.9 1431.3h4.4v4.4h-4.4zM651.3 1435.9h4.4v4.4h-4.4zM674.4 1435.9h4.4v4.4h-4.4zM653.5 1440.5h4.4v4.4h-4.4zM727.5 1442.6h4.4v4.4h-4.4zM762.3 1440.5h4.4v4.4h-4.4zM799.4 1442.6h4.4v4.4h-4.4zM644.3 1447.3h4.4v4.4h-4.4zM834.1 1447.3h4.4v4.4h-4.4zM954.3 1447.3h4.4v4.4h-4.4zM813.4 1463.6h4.4v4.4h-4.4zM822.6 1458.9h4.4v4.4h-4.4zM836.4 1451.9h4.4v4.4h-4.4zM954.4 1449.7h4.4v4.4h-4.4zM880.4 1454.3h4.4v4.4h-4.4zM815.5 1472.8h4.4v4.4h-4.4zM827.2 1474.9h4.4v4.4h-4.4zM875.8 1482h4.4v4.4h-4.4zM887.4 1486.6h4.4v4.4h-4.4zM880.4 1491.2h4.4v4.4h-4.4zM864.1 1493.7h4.4v4.4h-4.4zM838.9 1491.2h4.4v4.4h-4.4zM848.1 1498.3h4.4v4.4h-4.4zM880.4 1505.1h4.4v4.4h-4.4zM813.4 1507.5h4.4v4.4h-4.4zM845.9 1509.7h4.4v4.4h-4.4zM824.8 1523.5h4.4v4.4h-4.4zM841 1523.5h4.4v4.4h-4.4zM813.4 1530.5h4.4v4.4h-4.4zM380.5 1605.1h4.4v4.4h-4.4zM401.6 1611.8h4.4v4.4h-4.4zM410.7 1607.2h4.4v4.4h-4.4zM422.1 1600.2h4.4v4.4h-4.4zM427 1583.9h4.4v4.4h-4.4zM413.2 1628.1h4.4v4.4h-4.4zM429.1 1616.5h4.4v4.4h-4.4z"/>
<text class="t" y="965.5"><tspan x="280.1" textLength="66.4" lengthAdjust="spacingAndGlyphs" font-style="italic">g_z</tspan><tspan> </tspan><tspan x="356.2" textLength="193.8" lengthAdjust="spacingAndGlyphs">Maximum</tspan><tspan> </tspan><tspan x="560.5" textLength="71.8" lengthAdjust="spacingAndGlyphs">and</tspan><tspan> </tspan><tspan x="643.9" textLength="153.1" lengthAdjust="spacingAndGlyphs">Kurtosis</tspan><tspan> </tspan><tspan x="807.6" textLength="208.2" lengthAdjust="spacingAndGlyphs">correlation</tspan></text>
<text class="a" y="0" style="font-size:36.5px" transform="translate(73.1 1437.2) rotate(-90)"><tspan x="-1.5" textLength="133.9" lengthAdjust="spacingAndGlyphs">Kurtosis</tspan><tspan> </tspan><tspan x="141.5" textLength="88.6" lengthAdjust="spacingAndGlyphs">value</tspan></text>
<text class="a" y="1738.8"><tspan x="508.7" textLength="169.2" lengthAdjust="spacingAndGlyphs">Maximum</tspan><tspan> </tspan><tspan x="687.2" textLength="90.7" lengthAdjust="spacingAndGlyphs">value</tspan></text>
<text class="k" text-anchor="end" x="124.1" y="1646.7" textLength="15.9" lengthAdjust="spacingAndGlyphs">0</text>
<text class="k" text-anchor="end" x="124.1" y="1516.9" textLength="15.9" lengthAdjust="spacingAndGlyphs">5</text>
<text class="k" text-anchor="end" x="124.1" y="1388.6" textLength="31.9" lengthAdjust="spacingAndGlyphs">10</text>
<text class="k" text-anchor="end" x="124.1" y="1259.9" textLength="31.9" lengthAdjust="spacingAndGlyphs">15</text>
<text class="k" text-anchor="end" x="124.1" y="1130.7" textLength="31.9" lengthAdjust="spacingAndGlyphs">20</text>
<text class="k" text-anchor="end" x="124.1" y="1001.2" textLength="31.9" lengthAdjust="spacingAndGlyphs">25</text>
<text class="k" text-anchor="middle" x="153.3" y="1688.4" textLength="15.9" lengthAdjust="spacingAndGlyphs">0</text>
<text class="k" text-anchor="middle" x="399.7" y="1688.4" textLength="39.8" lengthAdjust="spacingAndGlyphs">0.5</text>
<text class="k" text-anchor="middle" x="646.2" y="1688.4" textLength="15.9" lengthAdjust="spacingAndGlyphs">1</text>
<text class="k" text-anchor="middle" x="892.6" y="1688.4" textLength="39.8" lengthAdjust="spacingAndGlyphs">1.5</text>
<text class="k" text-anchor="middle" x="1139" y="1688.4" textLength="15.9" lengthAdjust="spacingAndGlyphs">2</text>
<rect x="865.5" y="1020.1" width="247.9" height="120.4" fill="#fdfdfd" stroke="#4d4d4d" stroke-width="2.4"/>
<text class="l" y="1060.4"><tspan x="910.2" textLength="104.4" lengthAdjust="spacingAndGlyphs">Normal</tspan><tspan> </tspan><tspan x="1021.1" textLength="81.5" lengthAdjust="spacingAndGlyphs">signal</tspan></text>
<text class="l" y="1120.6"><tspan x="910.2" textLength="98.4" lengthAdjust="spacingAndGlyphs">Broken</tspan><tspan> </tspan><tspan x="1016.5" textLength="81.6" lengthAdjust="spacingAndGlyphs">signal</tspan></text>
<rect x="886.4" y="1047" width="4.4" height="4.4" fill="#9dc3e6"/>
<rect x="887.7" y="1107.2" width="4.4" height="4.4" fill="#ed7d31"/>
</g>
<g id="panel-g_t">
<rect x="1186.3" y="898" width="1140.9" height="856.9" fill="#fdfdfd" stroke="#404040" stroke-width="4.8" stroke-linejoin="round"/>
<path d="M1298.4 1640.5H2292.5M1298.4 1510.8H2292.5M1298.4 1381.1H2292.5M1298.4 1251.6H2292.5M1298.4 1122.1H2292.5M1298.4 993H2292.5M1298.4 991.9V1641.6" stroke="#d6d6d6" stroke-width="2.2" fill="none"/>
<path d="M1298.4 1640.5H2292.5" stroke="#c8c8c8" stroke-width="2.2" fill="none"/>
<path fill="#5b9bd5" fill-opacity="0.74" d="M1729.3 1599.6h4.4v4.4h-4.4zM1871.6 1459.5h4.4v4.4h-4.4zM1705 1491.6h4.4v4.4h-4.4zM1628.4 1607.1h4.4v4.4h-4.4zM1807.9 1519.2h4.4v4.4h-4.4zM1728 1561.2h4.4v4.4h-4.4zM1738.5 1520.1h4.4v4.4h-4.4zM1739.1 1481.7h4.4v4.4h-4.4zM1668.7 1634.7h4.4v4.4h-4.4zM1706.3 1624.5h4.4v4.4h-4.4zM1744.2 1610.6h4.4v4.4h-4.4zM1763.2 1631.6h4.4v4.4h-4.4zM1668.7 1631.3h4.4v4.4h-4.4zM1899.9 1607.7h4.4v4.4h-4.4zM1900.9 1600.8h4.4v4.4h-4.4zM1743.3 1615.8h4.4v4.4h-4.4zM1593.9 1631.2h4.4v4.4h-4.4zM1919.8 1470.6h4.4v4.4h-4.4zM1802.5 1500.6h4.4v4.4h-4.4zM1722.4 1595.6h4.4v4.4h-4.4zM1604.8 1621.8h4.4v4.4h-4.4zM1670.9 1531.1h4.4v4.4h-4.4zM1725.4 1611.1h4.4v4.4h-4.4zM1700 1589.5h4.4v4.4h-4.4zM1814.2 1599.8h4.4v4.4h-4.4zM1751.7 1615h4.4v4.4h-4.4zM1862 1582.3h4.4v4.4h-4.4zM1639.1 1633.7h4.4v4.4h-4.4zM1707.3 1590.6h4.4v4.4h-4.4zM1877.1 1558.8h4.4v4.4h-4.4zM1731.8 1634.1h4.4v4.4h-4.4zM1760.3 1558.6h4.4v4.4h-4.4zM1769.2 1609.1h4.4v4.4h-4.4zM1876.5 1515.5h4.4v4.4h-4.4zM1890.8 1605.5h4.4v4.4h-4.4zM1828.7 1467.1h4.4v4.4h-4.4zM1773 1579.6h4.4v4.4h-4.4zM1925 1471.3h4.4v4.4h-4.4zM1734 1562.1h4.4v4.4h-4.4zM1839.3 1539.6h4.4v4.4h-4.4zM1798.6 1579.9h4.4v4.4h-4.4zM1689.7 1615.9h4.4v4.4h-4.4zM1648.1 1596.4h4.4v4.4h-4.4zM1627.9 1593.4h4.4v4.4h-4.4zM1820.9 1577.1h4.4v4.4h-4.4zM1648 1597.9h4.4v4.4h-4.4zM1876.2 1490.7h4.4v4.4h-4.4zM1822.4 1558.2h4.4v4.4h-4.4zM1827.4 1489.8h4.4v4.4h-4.4zM1820.3 1472.1h4.4v4.4h-4.4zM1673 1546.9h4.4v4.4h-4.4zM1762.7 1557.7h4.4v4.4h-4.4zM1842.4 1509.4h4.4v4.4h-4.4zM1724.6 1578.7h4.4v4.4h-4.4zM1800.5 1588.9h4.4v4.4h-4.4zM1744 1603.8h4.4v4.4h-4.4zM1823.6 1615.1h4.4v4.4h-4.4zM1591.9 1621.7h4.4v4.4h-4.4zM1869.3 1569.1h4.4v4.4h-4.4zM1782.5 1608.7h4.4v4.4h-4.4zM1692.6 1587.8h4.4v4.4h-4.4zM1795.5 1566.5h4.4v4.4h-4.4zM1706.1 1615.8h4.4v4.4h-4.4zM1865.7 1543.7h4.4v4.4h-4.4zM1864.3 1594.4h4.4v4.4h-4.4zM1799.4 1562.4h4.4v4.4h-4.4zM1683.4 1633.3h4.4v4.4h-4.4zM1664.3 1606.4h4.4v4.4h-4.4zM1896.9 1510.6h4.4v4.4h-4.4zM1665.3 1610.7h4.4v4.4h-4.4zM1785.4 1607.2h4.4v4.4h-4.4zM1799.6 1616.8h4.4v4.4h-4.4zM1905.8 1612.6h4.4v4.4h-4.4zM1797.7 1629h4.4v4.4h-4.4zM1880.9 1514.5h4.4v4.4h-4.4zM1674.4 1532.3h4.4v4.4h-4.4zM1799.6 1614.8h4.4v4.4h-4.4zM1833.7 1518.7h4.4v4.4h-4.4zM1940.8 1525.6h4.4v4.4h-4.4zM1735.5 1619.3h4.4v4.4h-4.4zM1938 1542.9h4.4v4.4h-4.4zM1820.2 1561.8h4.4v4.4h-4.4zM1700.1 1608.9h4.4v4.4h-4.4zM1730.4 1494.8h4.4v4.4h-4.4zM1775.1 1538.2h4.4v4.4h-4.4zM1740.3 1635.1h4.4v4.4h-4.4zM1756.2 1621.5h4.4v4.4h-4.4zM1699.8 1528.3h4.4v4.4h-4.4zM1668 1602.8h4.4v4.4h-4.4zM1613 1634.6h4.4v4.4h-4.4zM1791.1 1557h4.4v4.4h-4.4zM1840.9 1552.5h4.4v4.4h-4.4zM1896.9 1577.9h4.4v4.4h-4.4zM1596.4 1596.5h4.4v4.4h-4.4zM1649.5 1626.6h4.4v4.4h-4.4zM1748.9 1499h4.4v4.4h-4.4zM1846.6 1482.4h4.4v4.4h-4.4zM1774.2 1562.4h4.4v4.4h-4.4zM1845.8 1460.3h4.4v4.4h-4.4zM1753.4 1597.8h4.4v4.4h-4.4zM1864.6 1566.8h4.4v4.4h-4.4zM1949.3 1508.2h4.4v4.4h-4.4zM1827.5 1585.5h4.4v4.4h-4.4zM1626.7 1631.3h4.4v4.4h-4.4zM1853.1 1481.1h4.4v4.4h-4.4zM1876.5 1545.4h4.4v4.4h-4.4zM1802.9 1554h4.4v4.4h-4.4zM1748.1 1602.2h4.4v4.4h-4.4zM1628 1597.7h4.4v4.4h-4.4zM1827 1490.9h4.4v4.4h-4.4zM1845.4 1536.6h4.4v4.4h-4.4zM1674.8 1620.5h4.4v4.4h-4.4zM1718.2 1633h4.4v4.4h-4.4zM1779.2 1605.2h4.4v4.4h-4.4zM1696.5 1561.6h4.4v4.4h-4.4zM1778.2 1510.7h4.4v4.4h-4.4zM1879 1555h4.4v4.4h-4.4zM1856 1623.4h4.4v4.4h-4.4zM1710.6 1616h4.4v4.4h-4.4zM1724.3 1611h4.4v4.4h-4.4zM1688.5 1633.6h4.4v4.4h-4.4zM1803.6 1612.2h4.4v4.4h-4.4zM1725.2 1541.1h4.4v4.4h-4.4zM1871.2 1569.2h4.4v4.4h-4.4zM1838.6 1604.2h4.4v4.4h-4.4zM1790 1608.7h4.4v4.4h-4.4zM1883.4 1543.4h4.4v4.4h-4.4zM1822 1538.8h4.4v4.4h-4.4zM1627.1 1579.5h4.4v4.4h-4.4zM1619.3 1609.8h4.4v4.4h-4.4zM1800.5 1620.5h4.4v4.4h-4.4zM1737.4 1603.1h4.4v4.4h-4.4zM1752.1 1572.1h4.4v4.4h-4.4zM1800.6 1565.8h4.4v4.4h-4.4zM1910.8 1491.5h4.4v4.4h-4.4zM1845.3 1575.8h4.4v4.4h-4.4zM1902.9 1462.8h4.4v4.4h-4.4zM1887.4 1550.6h4.4v4.4h-4.4zM1743.5 1608.6h4.4v4.4h-4.4zM1909.1 1579.8h4.4v4.4h-4.4zM1640.5 1574.2h4.4v4.4h-4.4zM1872.7 1576.1h4.4v4.4h-4.4zM1779 1516.6h4.4v4.4h-4.4zM1786.7 1632.1h4.4v4.4h-4.4zM1749.5 1589.7h4.4v4.4h-4.4zM1808.9 1595.2h4.4v4.4h-4.4zM1626.2 1628h4.4v4.4h-4.4zM1893.9 1586.9h4.4v4.4h-4.4zM1704.9 1625.1h4.4v4.4h-4.4zM1727.3 1630.7h4.4v4.4h-4.4zM2006.1 1022.3h4.4v4.4h-4.4zM2059.7 1229.1h4.4v4.4h-4.4zM1868.5 1312.6h4.4v4.4h-4.4zM1917.2 1382h4.4v4.4h-4.4zM1961.8 1393.7h4.4v4.4h-4.4zM1751.7 1402.9h4.4v4.4h-4.4zM2038.7 1426h4.4v4.4h-4.4zM1765.7 1426h4.4v4.4h-4.4zM1840.4 1437.7h4.4v4.4h-4.4zM1816.8 1446.7h4.4v4.4h-4.4zM2001.6 1470.1h4.4v4.4h-4.4zM2129.6 1463.1h4.4v4.4h-4.4zM2055.2 1495.7h4.4v4.4h-4.4zM2132.1 1511.8h4.4v4.4h-4.4zM1971 1525.6h4.4v4.4h-4.4zM2020.2 1537.3h4.4v4.4h-4.4zM2069.2 1549h4.4v4.4h-4.4zM1968.8 1555.9h4.4v4.4h-4.4zM2009 1567.5h4.4v4.4h-4.4zM1968.8 1586.1h4.4v4.4h-4.4zM1572.3 1612.1h4.4v4.4h-4.4z"/><path fill="#5b9bd5" fill-opacity="0.74" d="M1582 1619h4.4v4.4h-4.4zM1790.6 1613.5h4.4v4.4h-4.4zM1783 1599.3h4.4v4.4h-4.4zM1890.1 1521.7h4.4v4.4h-4.4zM1702.6 1524.6h4.4v4.4h-4.4zM1689.5 1616.6h4.4v4.4h-4.4zM1733.6 1517.6h4.4v4.4h-4.4zM1679.1 1557.9h4.4v4.4h-4.4zM1954.5 1507h4.4v4.4h-4.4zM1876.9 1613.5h4.4v4.4h-4.4zM1873.8 1567.6h4.4v4.4h-4.4zM1789.2 1560.8h4.4v4.4h-4.4zM1869.1 1522.9h4.4v4.4h-4.4zM1853.3 1623.5h4.4v4.4h-4.4zM1673.9 1618.1h4.4v4.4h-4.4zM1906.9 1475.8h4.4v4.4h-4.4zM1676.8 1631.1h4.4v4.4h-4.4zM1844.8 1569.3h4.4v4.4h-4.4zM1708.4 1605.5h4.4v4.4h-4.4zM1949.3 1526.3h4.4v4.4h-4.4zM1740.4 1530.7h4.4v4.4h-4.4zM1582 1603.9h4.4v4.4h-4.4zM1666.3 1633.7h4.4v4.4h-4.4zM1588 1616.7h4.4v4.4h-4.4zM1662.2 1600.4h4.4v4.4h-4.4zM1753.9 1580.2h4.4v4.4h-4.4zM1773 1578.1h4.4v4.4h-4.4zM1751 1620.5h4.4v4.4h-4.4zM1841.8 1565.5h4.4v4.4h-4.4zM1889.1 1497.2h4.4v4.4h-4.4zM1676.2 1616.6h4.4v4.4h-4.4zM1848.9 1507.1h4.4v4.4h-4.4zM1657.9 1633.7h4.4v4.4h-4.4zM1712.9 1536.8h4.4v4.4h-4.4zM1691.5 1607.5h4.4v4.4h-4.4zM1759.9 1578.5h4.4v4.4h-4.4zM1763.3 1462.8h4.4v4.4h-4.4zM1836.6 1495.4h4.4v4.4h-4.4zM1606.2 1600.1h4.4v4.4h-4.4zM1659.1 1557.5h4.4v4.4h-4.4zM1742.3 1611.4h4.4v4.4h-4.4zM1917.7 1577.7h4.4v4.4h-4.4zM1716 1604.8h4.4v4.4h-4.4zM1813.5 1626.3h4.4v4.4h-4.4zM1718.2 1542.7h4.4v4.4h-4.4zM1930.8 1578.7h4.4v4.4h-4.4zM1822.2 1623.7h4.4v4.4h-4.4zM1642.8 1634.7h4.4v4.4h-4.4zM1764.1 1589.5h4.4v4.4h-4.4zM1648.8 1599.9h4.4v4.4h-4.4zM1783.4 1601.8h4.4v4.4h-4.4zM1774.6 1571.2h4.4v4.4h-4.4zM1805.6 1626.5h4.4v4.4h-4.4zM1791 1590.8h4.4v4.4h-4.4zM1742.6 1635h4.4v4.4h-4.4zM1867.3 1478.3h4.4v4.4h-4.4zM1928.2 1460.8h4.4v4.4h-4.4zM1762.5 1597.5h4.4v4.4h-4.4zM1790.2 1622.1h4.4v4.4h-4.4zM1633.6 1628.5h4.4v4.4h-4.4zM1687.9 1545.3h4.4v4.4h-4.4zM1785.2 1564.4h4.4v4.4h-4.4zM1636 1609.2h4.4v4.4h-4.4zM1642.3 1625.2h4.4v4.4h-4.4zM1821.8 1495.9h4.4v4.4h-4.4zM1718.6 1629.2h4.4v4.4h-4.4zM1948.9 1567h4.4v4.4h-4.4zM1649.1 1623.2h4.4v4.4h-4.4zM1824.7 1524.9h4.4v4.4h-4.4zM1749.8 1625.3h4.4v4.4h-4.4zM1741.9 1622.5h4.4v4.4h-4.4zM1897.8 1585.3h4.4v4.4h-4.4zM1844.1 1580.8h4.4v4.4h-4.4zM1691.4 1618.5h4.4v4.4h-4.4zM1790.2 1476.6h4.4v4.4h-4.4zM1850.3 1603.8h4.4v4.4h-4.4zM1594.9 1593.1h4.4v4.4h-4.4zM1732.6 1510.8h4.4v4.4h-4.4zM1644.6 1617.8h4.4v4.4h-4.4zM1891.5 1565.4h4.4v4.4h-4.4zM1858.5 1613.2h4.4v4.4h-4.4zM1805.6 1593.6h4.4v4.4h-4.4zM1888.4 1508.3h4.4v4.4h-4.4zM1826.4 1584.2h4.4v4.4h-4.4zM1845.8 1528.1h4.4v4.4h-4.4zM1788.2 1582.7h4.4v4.4h-4.4zM1824.8 1560.9h4.4v4.4h-4.4zM1859.6 1529.9h4.4v4.4h-4.4zM1662.4 1570.6h4.4v4.4h-4.4zM1837.1 1550.5h4.4v4.4h-4.4zM1714.4 1495.3h4.4v4.4h-4.4zM1870.2 1599.6h4.4v4.4h-4.4zM1879 1523.2h4.4v4.4h-4.4zM1794.7 1632.5h4.4v4.4h-4.4zM1852.3 1626.9h4.4v4.4h-4.4zM1676.2 1531.4h4.4v4.4h-4.4zM1939.7 1568.3h4.4v4.4h-4.4zM1913.2 1566.8h4.4v4.4h-4.4zM1893.3 1616.5h4.4v4.4h-4.4zM1873.3 1565.3h4.4v4.4h-4.4zM1732.6 1551.4h4.4v4.4h-4.4zM1598.5 1636.9h4.4v4.4h-4.4zM1766.5 1479.5h4.4v4.4h-4.4zM1689.2 1585.6h4.4v4.4h-4.4zM1722.8 1567.9h4.4v4.4h-4.4zM1735.7 1578.9h4.4v4.4h-4.4zM1806.9 1614.2h4.4v4.4h-4.4zM1785.3 1555h4.4v4.4h-4.4zM1768.2 1558.9h4.4v4.4h-4.4zM1883.7 1507.9h4.4v4.4h-4.4zM1862.1 1544.9h4.4v4.4h-4.4zM1666 1574.3h4.4v4.4h-4.4zM1933.3 1510h4.4v4.4h-4.4zM1814 1608.1h4.4v4.4h-4.4zM1643.1 1613.2h4.4v4.4h-4.4zM1826.2 1574h4.4v4.4h-4.4zM1629.4 1607.6h4.4v4.4h-4.4zM1745.6 1606.6h4.4v4.4h-4.4zM1888.5 1536.4h4.4v4.4h-4.4zM1895.2 1581.7h4.4v4.4h-4.4zM1927.5 1502.1h4.4v4.4h-4.4zM1700.2 1609.9h4.4v4.4h-4.4zM1814.5 1532.4h4.4v4.4h-4.4zM1842.9 1585.1h4.4v4.4h-4.4zM1743.9 1547.9h4.4v4.4h-4.4zM1640.3 1595.3h4.4v4.4h-4.4zM1827.6 1559.3h4.4v4.4h-4.4zM1898.2 1566.7h4.4v4.4h-4.4zM1720.5 1589.3h4.4v4.4h-4.4zM1800.7 1515.3h4.4v4.4h-4.4zM1661.1 1608.3h4.4v4.4h-4.4zM1616.8 1635.7h4.4v4.4h-4.4zM1628.9 1602.7h4.4v4.4h-4.4zM1924 1575.8h4.4v4.4h-4.4zM1661.9 1599.1h4.4v4.4h-4.4zM1755 1570.7h4.4v4.4h-4.4zM1848 1627.6h4.4v4.4h-4.4zM1896.7 1522.2h4.4v4.4h-4.4zM1726.2 1548.3h4.4v4.4h-4.4zM1814.3 1558.5h4.4v4.4h-4.4zM1671.7 1574.4h4.4v4.4h-4.4zM1743.8 1600.1h4.4v4.4h-4.4zM1717.9 1632.2h4.4v4.4h-4.4zM1694.9 1604.1h4.4v4.4h-4.4zM1853.8 1571.8h4.4v4.4h-4.4zM1715.8 1576.1h4.4v4.4h-4.4zM1876 1599.9h4.4v4.4h-4.4zM1652.3 1569h4.4v4.4h-4.4zM1783.9 1604.6h4.4v4.4h-4.4zM1760.3 1502.5h4.4v4.4h-4.4zM2013.2 1096.3h4.4v4.4h-4.4zM1999 1270.7h4.4v4.4h-4.4zM2003.7 1333.3h4.4v4.4h-4.4zM1889.3 1384.4h4.4v4.4h-4.4zM1982.6 1393.7h4.4v4.4h-4.4zM1896.4 1414.6h4.4v4.4h-4.4zM1726 1426h4.4v4.4h-4.4zM1886.9 1430.7h4.4v4.4h-4.4zM1994.4 1442.4h4.4v4.4h-4.4zM1831.1 1446.7h4.4v4.4h-4.4zM2029.5 1460.9h4.4v4.4h-4.4zM1980.3 1486.2h4.4v4.4h-4.4zM2083.1 1493.3h4.4v4.4h-4.4zM1992 1516.4h4.4v4.4h-4.4zM1992 1532.7h4.4v4.4h-4.4zM1980.3 1542h4.4v4.4h-4.4zM2057.4 1553.7h4.4v4.4h-4.4zM1996.9 1558.3h4.4v4.4h-4.4zM1999.4 1570h4.4v4.4h-4.4zM1959.5 1560.5h4.4v4.4h-4.4zM1573.4 1632.7h4.4v4.4h-4.4z"/><path fill="#5b9bd5" fill-opacity="0.74" d="M1817.7 1582.1h4.4v4.4h-4.4zM1849.6 1616.7h4.4v4.4h-4.4zM1956.6 1512.1h4.4v4.4h-4.4zM1747.3 1569.1h4.4v4.4h-4.4zM1913.6 1582.9h4.4v4.4h-4.4zM1769.6 1535.4h4.4v4.4h-4.4zM1760.8 1588.3h4.4v4.4h-4.4zM1838.1 1552.9h4.4v4.4h-4.4zM1807.9 1617.8h4.4v4.4h-4.4zM1612.8 1586.7h4.4v4.4h-4.4zM1774.4 1531.8h4.4v4.4h-4.4zM1638.4 1632.1h4.4v4.4h-4.4zM1662.6 1621.7h4.4v4.4h-4.4zM1674 1545.8h4.4v4.4h-4.4zM1826.3 1503.8h4.4v4.4h-4.4zM1755 1613.2h4.4v4.4h-4.4zM1779.7 1515.6h4.4v4.4h-4.4zM1744.2 1551.5h4.4v4.4h-4.4zM1728.1 1595.5h4.4v4.4h-4.4zM1725.5 1617h4.4v4.4h-4.4zM1931.4 1574.4h4.4v4.4h-4.4zM1690.2 1619.8h4.4v4.4h-4.4zM1810.7 1554.8h4.4v4.4h-4.4zM1862 1600.4h4.4v4.4h-4.4zM1787.9 1579.2h4.4v4.4h-4.4zM1925 1525.9h4.4v4.4h-4.4zM1803.5 1558.8h4.4v4.4h-4.4zM1744.4 1573h4.4v4.4h-4.4zM1808.9 1589.6h4.4v4.4h-4.4zM1713.9 1594.5h4.4v4.4h-4.4zM1724.9 1633.7h4.4v4.4h-4.4zM1744 1529.3h4.4v4.4h-4.4zM1918.9 1604.1h4.4v4.4h-4.4zM1686.7 1594.2h4.4v4.4h-4.4zM1747.5 1487.9h4.4v4.4h-4.4zM1804.9 1601.8h4.4v4.4h-4.4zM1863.2 1503.6h4.4v4.4h-4.4zM1787.1 1532.2h4.4v4.4h-4.4zM1701.6 1630.7h4.4v4.4h-4.4zM1901.9 1540.1h4.4v4.4h-4.4zM1919.1 1559.9h4.4v4.4h-4.4zM1705.2 1583.2h4.4v4.4h-4.4zM1686.2 1602.4h4.4v4.4h-4.4zM1830.2 1624.2h4.4v4.4h-4.4zM1726.6 1549.8h4.4v4.4h-4.4zM1765.4 1513h4.4v4.4h-4.4zM1903.9 1516.9h4.4v4.4h-4.4zM1891.1 1523.3h4.4v4.4h-4.4zM1851.8 1575.5h4.4v4.4h-4.4zM1672.7 1620.4h4.4v4.4h-4.4zM1725.4 1574.7h4.4v4.4h-4.4zM1753.2 1606.6h4.4v4.4h-4.4zM1829 1507.9h4.4v4.4h-4.4zM1593.3 1636.1h4.4v4.4h-4.4zM1701.7 1547.4h4.4v4.4h-4.4zM1646.5 1618.7h4.4v4.4h-4.4zM1807.5 1597.8h4.4v4.4h-4.4zM1751.7 1591h4.4v4.4h-4.4zM1945.6 1562.5h4.4v4.4h-4.4zM1826.5 1592.4h4.4v4.4h-4.4zM1951.4 1501.6h4.4v4.4h-4.4zM1607.9 1609.1h4.4v4.4h-4.4zM1648.3 1619h4.4v4.4h-4.4zM1777.9 1633.7h4.4v4.4h-4.4zM1863.5 1574.4h4.4v4.4h-4.4zM1744.4 1632h4.4v4.4h-4.4zM1715.4 1569.2h4.4v4.4h-4.4zM1682.1 1600.9h4.4v4.4h-4.4zM1780.6 1601.3h4.4v4.4h-4.4zM1658.1 1617h4.4v4.4h-4.4zM1675.4 1589.7h4.4v4.4h-4.4zM1598 1634.1h4.4v4.4h-4.4zM1726.9 1621h4.4v4.4h-4.4zM1668.2 1576.2h4.4v4.4h-4.4zM1647 1633.6h4.4v4.4h-4.4zM1690.8 1615.7h4.4v4.4h-4.4zM1796.9 1547.3h4.4v4.4h-4.4zM1862 1613.3h4.4v4.4h-4.4zM1857.9 1506.3h4.4v4.4h-4.4zM1774.2 1603.1h4.4v4.4h-4.4zM1762.9 1625.3h4.4v4.4h-4.4zM1822.7 1536.9h4.4v4.4h-4.4zM1695.6 1624.9h4.4v4.4h-4.4zM1785.6 1607.1h4.4v4.4h-4.4zM1793.1 1490.9h4.4v4.4h-4.4zM1763.7 1609.4h4.4v4.4h-4.4zM1869.5 1591.3h4.4v4.4h-4.4zM1664.2 1623.7h4.4v4.4h-4.4zM1763.4 1565.6h4.4v4.4h-4.4zM1853.9 1523.2h4.4v4.4h-4.4zM1616.1 1622h4.4v4.4h-4.4zM1633.3 1619h4.4v4.4h-4.4zM1858.4 1466.8h4.4v4.4h-4.4zM1639.1 1626.4h4.4v4.4h-4.4zM1843.6 1549.1h4.4v4.4h-4.4zM1757.7 1495.3h4.4v4.4h-4.4zM1683.5 1573.6h4.4v4.4h-4.4zM1586.1 1628h4.4v4.4h-4.4zM1689.7 1616.2h4.4v4.4h-4.4zM1792.9 1544.7h4.4v4.4h-4.4zM1725.1 1634.9h4.4v4.4h-4.4zM1639.6 1601.4h4.4v4.4h-4.4zM1758.4 1596.6h4.4v4.4h-4.4zM1782.2 1467.1h4.4v4.4h-4.4zM1797.3 1485.2h4.4v4.4h-4.4zM1804.8 1620.4h4.4v4.4h-4.4zM1779.8 1545.2h4.4v4.4h-4.4zM1806 1552.2h4.4v4.4h-4.4zM1656.7 1589.8h4.4v4.4h-4.4zM1874.3 1593.9h4.4v4.4h-4.4zM1705.6 1598.3h4.4v4.4h-4.4zM1766.2 1536.8h4.4v4.4h-4.4zM1655.5 1621.1h4.4v4.4h-4.4zM1643.4 1626.7h4.4v4.4h-4.4zM1918.9 1518.5h4.4v4.4h-4.4zM1664.4 1565h4.4v4.4h-4.4zM1732.3 1540.9h4.4v4.4h-4.4zM1699.3 1601.9h4.4v4.4h-4.4zM1627.5 1617.6h4.4v4.4h-4.4zM1685 1563.3h4.4v4.4h-4.4zM1704.3 1594.6h4.4v4.4h-4.4zM1652.3 1612.7h4.4v4.4h-4.4zM1727.3 1578.9h4.4v4.4h-4.4zM1643.5 1613.7h4.4v4.4h-4.4zM1738.7 1588.1h4.4v4.4h-4.4zM1676.9 1617.3h4.4v4.4h-4.4zM1712.3 1593.6h4.4v4.4h-4.4zM1775.6 1571.4h4.4v4.4h-4.4zM1619.1 1615.3h4.4v4.4h-4.4zM1685.4 1618.5h4.4v4.4h-4.4zM1889.2 1579.6h4.4v4.4h-4.4zM1826 1627.4h4.4v4.4h-4.4zM1843.5 1566h4.4v4.4h-4.4zM1782.1 1598.1h4.4v4.4h-4.4zM1686.8 1548.7h4.4v4.4h-4.4zM1772.7 1497.2h4.4v4.4h-4.4zM1773.4 1551.5h4.4v4.4h-4.4zM1668 1614.6h4.4v4.4h-4.4zM1843.2 1524.3h4.4v4.4h-4.4zM1696.7 1547.2h4.4v4.4h-4.4zM1767 1540.7h4.4v4.4h-4.4zM1748.2 1594.7h4.4v4.4h-4.4zM1708 1619.6h4.4v4.4h-4.4zM1931.4 1579.4h4.4v4.4h-4.4zM1742.3 1511.2h4.4v4.4h-4.4zM1774.4 1588h4.4v4.4h-4.4zM1891.3 1609.6h4.4v4.4h-4.4zM1810.8 1525.6h4.4v4.4h-4.4zM1705.7 1609.2h4.4v4.4h-4.4zM1758.2 1606h4.4v4.4h-4.4zM1994.4 1198.9h4.4v4.4h-4.4zM2143.7 1321.8h4.4v4.4h-4.4zM1894 1361h4.4v4.4h-4.4zM1852.1 1391.2h4.4v4.4h-4.4zM2022.3 1398.3h4.4v4.4h-4.4zM1852.1 1419.2h4.4v4.4h-4.4zM1730.7 1428.5h4.4v4.4h-4.4zM1784.5 1437.7h4.4v4.4h-4.4zM1819.3 1444.5h4.4v4.4h-4.4zM1994.8 1463.1h4.4v4.4h-4.4zM2031.7 1460.9h4.4v4.4h-4.4zM1980.3 1488.6h4.4v4.4h-4.4zM2013.1 1495.7h4.4v4.4h-4.4zM2029.5 1521h4.4v4.4h-4.4zM2036.3 1532.7h4.4v4.4h-4.4zM1994.8 1546.6h4.4v4.4h-4.4zM1980.3 1553.7h4.4v4.4h-4.4zM1992 1562.9h4.4v4.4h-4.4zM1987.4 1579.2h4.4v4.4h-4.4zM1954.8 1560.5h4.4v4.4h-4.4z"/>
<path fill="#ed7d31" d="M1762.3 1570.4h4.4v4.4h-4.4zM1842.4 1481.2h4.4v4.4h-4.4zM1653.4 1568.7h4.4v4.4h-4.4zM1844.5 1563.4h4.4v4.4h-4.4zM1865.7 1498.8h4.4v4.4h-4.4zM1714 1543h4.4v4.4h-4.4zM1757.6 1533.1h4.4v4.4h-4.4zM1591.3 1584.3h4.4v4.4h-4.4zM1685.9 1585.9h4.4v4.4h-4.4zM1756 1557.7h4.4v4.4h-4.4zM1810.1 1539.1h4.4v4.4h-4.4zM1639 1546.4h4.4v4.4h-4.4zM1873.1 1536.5h4.4v4.4h-4.4zM1800.4 1469.1h4.4v4.4h-4.4zM1856.1 1531.4h4.4v4.4h-4.4zM1716.5 1543.6h4.4v4.4h-4.4zM1735.8 1483.9h4.4v4.4h-4.4zM1713.8 1606h4.4v4.4h-4.4zM1682.6 1600.1h4.4v4.4h-4.4zM1800.6 1526.6h4.4v4.4h-4.4zM1843.7 1544.9h4.4v4.4h-4.4zM1617 1624h4.4v4.4h-4.4zM1697.2 1597h4.4v4.4h-4.4zM1890.3 1551.2h4.4v4.4h-4.4zM1830.7 1492.8h4.4v4.4h-4.4zM1775.1 1546.7h4.4v4.4h-4.4zM1697.1 1613.4h4.4v4.4h-4.4zM1804.8 1541.6h4.4v4.4h-4.4zM1789.8 1571.6h4.4v4.4h-4.4zM1664.9 1569h4.4v4.4h-4.4zM1609.2 1594.3h4.4v4.4h-4.4zM1707.5 1574.3h4.4v4.4h-4.4zM1677.5 1596.7h4.4v4.4h-4.4zM1875.8 1512.5h4.4v4.4h-4.4zM1668.7 1592.3h4.4v4.4h-4.4zM1648.5 1617.4h4.4v4.4h-4.4zM1605.3 1605.6h4.4v4.4h-4.4zM1723.1 1604.1h4.4v4.4h-4.4zM1921.9 1498h4.4v4.4h-4.4zM1663.5 1607h4.4v4.4h-4.4zM1649.4 1595.4h4.4v4.4h-4.4zM1727.9 1600.4h4.4v4.4h-4.4zM1686.1 1559.9h4.4v4.4h-4.4zM1642.6 1629.8h4.4v4.4h-4.4zM1680.9 1570.1h4.4v4.4h-4.4zM1702.4 1617.8h4.4v4.4h-4.4zM1666.7 1609.4h4.4v4.4h-4.4zM1845.9 1541.3h4.4v4.4h-4.4zM1775.6 1566.7h4.4v4.4h-4.4zM1668.1 1601.4h4.4v4.4h-4.4zM1765 1539.8h4.4v4.4h-4.4zM1597 1597h4.4v4.4h-4.4zM1738.3 1598.1h4.4v4.4h-4.4zM1673.4 1574.8h4.4v4.4h-4.4zM1746.2 1618.6h4.4v4.4h-4.4zM1592.3 1592h4.4v4.4h-4.4zM1719.2 1553h4.4v4.4h-4.4zM1892.7 1517h4.4v4.4h-4.4zM1685.2 1615.4h4.4v4.4h-4.4zM1629.7 1618.1h4.4v4.4h-4.4zM1682.1 1533.9h4.4v4.4h-4.4zM1826.1 1583h4.4v4.4h-4.4zM1665.2 1596.8h4.4v4.4h-4.4zM1693.8 1521h4.4v4.4h-4.4zM1776.3 1566h4.4v4.4h-4.4zM1890.8 1483.1h4.4v4.4h-4.4zM1782.5 1493.5h4.4v4.4h-4.4zM1647.2 1599.9h4.4v4.4h-4.4zM1726 1564.9h4.4v4.4h-4.4zM1702.6 1594.2h4.4v4.4h-4.4zM1718.8 1567.9h4.4v4.4h-4.4zM1719.7 1551.1h4.4v4.4h-4.4zM1681.4 1567.1h4.4v4.4h-4.4zM1601.7 1616.3h4.4v4.4h-4.4zM1782.6 1529.6h4.4v4.4h-4.4zM1632.8 1604.1h4.4v4.4h-4.4zM1590.3 1596.9h4.4v4.4h-4.4zM1733.6 1628.2h4.4v4.4h-4.4zM1649.4 1545.8h4.4v4.4h-4.4zM1611.8 1620.8h4.4v4.4h-4.4zM1786.4 1562.6h4.4v4.4h-4.4zM1840.2 1502h4.4v4.4h-4.4zM1696.4 1604.9h4.4v4.4h-4.4zM1761.9 1519h4.4v4.4h-4.4zM1777.3 1593.1h4.4v4.4h-4.4zM1639 1622.1h4.4v4.4h-4.4zM1591.5 1627.8h4.4v4.4h-4.4zM1725.3 1606.8h4.4v4.4h-4.4zM1613 1625.8h4.4v4.4h-4.4zM1610.3 1560.9h4.4v4.4h-4.4zM1928.1 1513.3h4.4v4.4h-4.4zM1749.9 1599h4.4v4.4h-4.4zM1740.1 1619.6h4.4v4.4h-4.4zM1720.7 1479.7h4.4v4.4h-4.4zM1669 1601.8h4.4v4.4h-4.4zM1831.9 1531.7h4.4v4.4h-4.4zM1863.1 1503.8h4.4v4.4h-4.4zM1795.3 1511.5h4.4v4.4h-4.4zM1737.5 1548h4.4v4.4h-4.4zM1627.7 1585.1h4.4v4.4h-4.4zM1685 1538.7h4.4v4.4h-4.4zM1755 1517h4.4v4.4h-4.4zM1809.7 1537.5h4.4v4.4h-4.4zM1807.7 1568.1h4.4v4.4h-4.4zM1822.2 1542.1h4.4v4.4h-4.4zM1924.5 1503.7h4.4v4.4h-4.4zM1627.5 1563.3h4.4v4.4h-4.4zM1869.6 1539h4.4v4.4h-4.4zM1670 1547.5h4.4v4.4h-4.4zM1629 1616.4h4.4v4.4h-4.4zM1849.5 1467.7h4.4v4.4h-4.4zM1674.7 1624.6h4.4v4.4h-4.4zM1605 1618.7h4.4v4.4h-4.4zM1837.4 1516.9h4.4v4.4h-4.4zM1729.8 1568.7h4.4v4.4h-4.4zM1915.5 1530.4h4.4v4.4h-4.4zM1782.4 1527.3h4.4v4.4h-4.4zM1876.4 1543.8h4.4v4.4h-4.4zM1842 1575.5h4.4v4.4h-4.4zM1660.7 1610.1h4.4v4.4h-4.4zM1687.2 1600.1h4.4v4.4h-4.4zM1651.2 1559.2h4.4v4.4h-4.4zM1745.5 1579.7h4.4v4.4h-4.4zM1599.5 1613.1h4.4v4.4h-4.4zM1645.5 1567h4.4v4.4h-4.4zM1704.2 1602.8h4.4v4.4h-4.4zM1620 1583.5h4.4v4.4h-4.4zM1642 1607.4h4.4v4.4h-4.4zM1756.4 1522h4.4v4.4h-4.4zM1639.1 1581.7h4.4v4.4h-4.4zM1599.9 1581.2h4.4v4.4h-4.4zM1707 1629.6h4.4v4.4h-4.4zM1765.4 1597.3h4.4v4.4h-4.4zM1649 1583.8h4.4v4.4h-4.4zM1644.5 1604.2h4.4v4.4h-4.4zM1612.4 1631.1h4.4v4.4h-4.4zM1769.2 1551.6h4.4v4.4h-4.4zM1790.7 1552.1h4.4v4.4h-4.4zM1827.1 1548h4.4v4.4h-4.4zM1607.7 1608.8h4.4v4.4h-4.4zM1656.1 1603.9h4.4v4.4h-4.4zM1674.3 1568.2h4.4v4.4h-4.4zM1827.6 1526h4.4v4.4h-4.4zM1856.2 1511.9h4.4v4.4h-4.4zM1666.2 1586.7h4.4v4.4h-4.4zM1658.5 1623.8h4.4v4.4h-4.4zM1671.4 1521.9h4.4v4.4h-4.4zM1695 1544h4.4v4.4h-4.4zM1791.9 1515.6h4.4v4.4h-4.4zM1653.5 1595.1h4.4v4.4h-4.4zM1677.1 1615.3h4.4v4.4h-4.4zM1684.9 1578h4.4v4.4h-4.4zM1818.6 1496.6h4.4v4.4h-4.4zM1609.4 1613.5h4.4v4.4h-4.4zM1723.4 1515h4.4v4.4h-4.4zM1763.8 1533.8h4.4v4.4h-4.4zM1772.4 1515.2h4.4v4.4h-4.4zM1767.6 1556.4h4.4v4.4h-4.4zM1670.7 1603h4.4v4.4h-4.4zM1784.2 1593.5h4.4v4.4h-4.4zM1666.2 1615.7h4.4v4.4h-4.4zM1673.9 1571.8h4.4v4.4h-4.4zM1833.3 1451h4.4v4.4h-4.4zM1681.8 1635.8h4.4v4.4h-4.4zM1770 1476.2h4.4v4.4h-4.4zM1710.1 1596.6h4.4v4.4h-4.4zM1693 1570.6h4.4v4.4h-4.4zM1774.1 1554.6h4.4v4.4h-4.4zM1583.2 1585.6h4.4v4.4h-4.4zM1724.4 1545.5h4.4v4.4h-4.4zM1770.3 1580.5h4.4v4.4h-4.4zM1664.8 1605.2h4.4v4.4h-4.4zM1842.9 1497.9h4.4v4.4h-4.4zM1689.4 1613.6h4.4v4.4h-4.4zM1763.5 1461.5h4.4v4.4h-4.4zM1710 1563h4.4v4.4h-4.4zM1721.6 1545h4.4v4.4h-4.4zM1692.8 1603.3h4.4v4.4h-4.4zM1760.4 1495h4.4v4.4h-4.4zM1601 1623.9h4.4v4.4h-4.4zM1585.5 1624.9h4.4v4.4h-4.4zM1720.9 1583.5h4.4v4.4h-4.4zM1713.4 1618.2h4.4v4.4h-4.4zM1744.8 1575.7h4.4v4.4h-4.4zM1742.9 1532.8h4.4v4.4h-4.4zM1726.7 1602.7h4.4v4.4h-4.4zM1646 1618.3h4.4v4.4h-4.4zM1696.6 1578.7h4.4v4.4h-4.4zM1621.7 1625.5h4.4v4.4h-4.4zM1624.5 1633.2h4.4v4.4h-4.4zM1713 1572.5h4.4v4.4h-4.4zM1647.7 1597.5h4.4v4.4h-4.4zM1684.9 1625.2h4.4v4.4h-4.4zM1884.3 1531.1h4.4v4.4h-4.4zM1814 1455.9h4.4v4.4h-4.4zM1672.8 1541.1h4.4v4.4h-4.4zM1705.3 1546.5h4.4v4.4h-4.4zM1694.5 1629.2h4.4v4.4h-4.4zM1826.8 1512.5h4.4v4.4h-4.4zM1737.5 1543.4h4.4v4.4h-4.4zM1715.7 1470.4h4.4v4.4h-4.4zM1690.5 1586h4.4v4.4h-4.4zM1717.8 1564.1h4.4v4.4h-4.4zM1729.8 1484.2h4.4v4.4h-4.4zM1720.9 1600.4h4.4v4.4h-4.4zM1758.7 1513h4.4v4.4h-4.4zM1736.8 1567.7h4.4v4.4h-4.4zM1733.5 1605.7h4.4v4.4h-4.4zM1727.7 1543.7h4.4v4.4h-4.4zM1749 1591.8h4.4v4.4h-4.4zM1696.3 1586.9h4.4v4.4h-4.4zM1683 1607.2h4.4v4.4h-4.4zM1710.4 1579.9h4.4v4.4h-4.4zM1622 1632h4.4v4.4h-4.4zM1674.4 1620.5h4.4v4.4h-4.4zM1683.8 1589.1h4.4v4.4h-4.4zM1635 1629.3h4.4v4.4h-4.4zM1672 1635.4h4.4v4.4h-4.4zM1659.9 1612.7h4.4v4.4h-4.4zM1738 1609.8h4.4v4.4h-4.4zM1682.8 1600.3h4.4v4.4h-4.4zM1657.8 1609.6h4.4v4.4h-4.4zM1731.8 1603.7h4.4v4.4h-4.4zM1726.8 1621h4.4v4.4h-4.4zM1750.5 1548.6h4.4v4.4h-4.4zM1738.5 1605.4h4.4v4.4h-4.4zM1675.8 1622.3h4.4v4.4h-4.4zM1743.6 1536.5h4.4v4.4h-4.4zM1735.6 1556.3h4.4v4.4h-4.4zM1713.4 1600.3h4.4v4.4h-4.4zM1646.6 1604.8h4.4v4.4h-4.4zM1717.5 1536h4.4v4.4h-4.4zM1864.8 1484.6h4.4v4.4h-4.4zM1753.6 1573h4.4v4.4h-4.4zM1790.8 1567.6h4.4v4.4h-4.4zM1667.1 1603.8h4.4v4.4h-4.4zM1688.6 1569.8h4.4v4.4h-4.4zM1835.5 1509.5h4.4v4.4h-4.4zM1743.5 1621.3h4.4v4.4h-4.4zM1708.9 1493.9h4.4v4.4h-4.4zM1638.3 1610.3h4.4v4.4h-4.4zM1867.6 1530.7h4.4v4.4h-4.4zM1783.6 1578.8h4.4v4.4h-4.4zM1797.8 1574.9h4.4v4.4h-4.4zM1687 1627.5h4.4v4.4h-4.4zM1637.6 1611.3h4.4v4.4h-4.4zM1745.4 1567.6h4.4v4.4h-4.4zM1832 1510h4.4v4.4h-4.4zM1677.7 1592.1h4.4v4.4h-4.4zM1844.2 1465.9h4.4v4.4h-4.4zM1724.1 1572.2h4.4v4.4h-4.4zM1658.6 1584.3h4.4v4.4h-4.4zM1639.1 1618.3h4.4v4.4h-4.4zM1856.6 1569h4.4v4.4h-4.4zM1667.8 1549.9h4.4v4.4h-4.4zM1708.8 1550.5h4.4v4.4h-4.4zM1867.8 1557.1h4.4v4.4h-4.4zM1587.6 1599.8h4.4v4.4h-4.4zM1840.7 1454.9h4.4v4.4h-4.4zM1664.4 1636h4.4v4.4h-4.4zM1767.1 1556.3h4.4v4.4h-4.4zM1797.9 1487.6h4.4v4.4h-4.4zM1633.7 1627.2h4.4v4.4h-4.4zM1794.6 1580.2h4.4v4.4h-4.4zM1666.2 1618.5h4.4v4.4h-4.4zM1732.4 1585.6h4.4v4.4h-4.4zM1647.5 1622h4.4v4.4h-4.4zM1752.1 1547h4.4v4.4h-4.4zM1689.2 1585.9h4.4v4.4h-4.4zM1838.3 1524.1h4.4v4.4h-4.4zM1779.5 1513.4h4.4v4.4h-4.4zM1722.5 1632.5h4.4v4.4h-4.4zM1665.9 1529.3h4.4v4.4h-4.4zM1621.5 1611.3h4.4v4.4h-4.4zM1617.4 1582.6h4.4v4.4h-4.4zM1758.9 1519.9h4.4v4.4h-4.4zM1688.4 1581.2h4.4v4.4h-4.4zM1698.9 1571.4h4.4v4.4h-4.4zM1644.2 1599.6h4.4v4.4h-4.4zM1929.9 1471.5h4.4v4.4h-4.4zM1857.6 1515.8h4.4v4.4h-4.4zM1646.2 1578.3h4.4v4.4h-4.4zM1806.6 1584.3h4.4v4.4h-4.4zM1618.5 1582h4.4v4.4h-4.4zM1824.1 1574.8h4.4v4.4h-4.4zM1701.7 1577.1h4.4v4.4h-4.4zM1599.5 1614.7h4.4v4.4h-4.4zM1696.5 1599.5h4.4v4.4h-4.4zM1744.9 1566.3h4.4v4.4h-4.4zM1616.6 1605.5h4.4v4.4h-4.4zM1602.9 1618.1h4.4v4.4h-4.4zM1779.3 1531.1h4.4v4.4h-4.4zM1613.3 1596.7h4.4v4.4h-4.4zM1788.9 1577.3h4.4v4.4h-4.4zM1745.1 1535h4.4v4.4h-4.4zM1690.5 1577.4h4.4v4.4h-4.4zM1687.3 1599.3h4.4v4.4h-4.4zM1780.6 1545.2h4.4v4.4h-4.4zM1763.9 1480.8h4.4v4.4h-4.4zM1597.5 1620.7h4.4v4.4h-4.4zM1835.1 1481.2h4.4v4.4h-4.4zM1858.7 1555.4h4.4v4.4h-4.4zM1751 1548.7h4.4v4.4h-4.4zM1678.7 1568.7h4.4v4.4h-4.4zM1736.8 1544.7h4.4v4.4h-4.4zM1864.9 1560h4.4v4.4h-4.4zM1828 1490.7h4.4v4.4h-4.4zM1817.3 1557.7h4.4v4.4h-4.4zM1683.8 1511.8h4.4v4.4h-4.4zM1813.4 1535.7h4.4v4.4h-4.4zM1694.3 1547.9h4.4v4.4h-4.4zM1741.8 1558.5h4.4v4.4h-4.4zM1939 1507.3h4.4v4.4h-4.4zM1665.3 1535h4.4v4.4h-4.4zM1786.3 1550h4.4v4.4h-4.4zM1697.6 1587.3h4.4v4.4h-4.4zM1679.8 1587.9h4.4v4.4h-4.4zM1798.8 1484.2h4.4v4.4h-4.4zM1668.6 1542.3h4.4v4.4h-4.4zM1881.5 1536.8h4.4v4.4h-4.4zM1764 1520.5h4.4v4.4h-4.4zM1645.8 1600.1h4.4v4.4h-4.4zM1659.7 1633.8h4.4v4.4h-4.4zM1763.4 1565.3h4.4v4.4h-4.4zM1601.3 1626.5h4.4v4.4h-4.4zM1684.4 1574.2h4.4v4.4h-4.4zM1861.3 1458.6h4.4v4.4h-4.4zM1710.5 1604.5h4.4v4.4h-4.4zM1816.7 1514.3h4.4v4.4h-4.4zM1739.1 1583.7h4.4v4.4h-4.4zM1876.8 1553.4h4.4v4.4h-4.4zM1721.7 1600.6h4.4v4.4h-4.4zM1722.3 1572.9h4.4v4.4h-4.4zM1679.3 1561.5h4.4v4.4h-4.4zM1602.1 1576.2h4.4v4.4h-4.4zM1797.4 1495.8h4.4v4.4h-4.4zM1703.9 1556.8h4.4v4.4h-4.4zM1677.9 1613.7h4.4v4.4h-4.4zM1804.9 1521.6h4.4v4.4h-4.4zM1793.9 1520.7h4.4v4.4h-4.4zM1786.1 1488.4h4.4v4.4h-4.4zM1784 1537.1h4.4v4.4h-4.4zM1692.2 1507.5h4.4v4.4h-4.4zM1818.9 1577.5h4.4v4.4h-4.4zM1666.1 1596.9h4.4v4.4h-4.4zM1708.9 1507.9h4.4v4.4h-4.4zM1684.9 1552.6h4.4v4.4h-4.4zM1771.4 1472.7h4.4v4.4h-4.4zM1830 1554h4.4v4.4h-4.4zM1804 1562.2h4.4v4.4h-4.4zM1738.6 1483.1h4.4v4.4h-4.4zM1667.4 1621.4h4.4v4.4h-4.4zM1643.9 1582.7h4.4v4.4h-4.4zM1671.7 1575.5h4.4v4.4h-4.4zM1856.7 1483.5h4.4v4.4h-4.4zM1900.7 1536.7h4.4v4.4h-4.4zM1796.7 1530h4.4v4.4h-4.4zM1870.4 1493.7h4.4v4.4h-4.4zM1685.2 1543.5h4.4v4.4h-4.4zM1723 1609.5h4.4v4.4h-4.4zM1621.3 1579.7h4.4v4.4h-4.4zM1936.7 1501.2h4.4v4.4h-4.4zM1672.2 1561.7h4.4v4.4h-4.4zM1735.7 1606.6h4.4v4.4h-4.4zM1666.6 1543h4.4v4.4h-4.4zM1689.7 1600.3h4.4v4.4h-4.4zM1721.8 1589.6h4.4v4.4h-4.4zM1620.4 1614h4.4v4.4h-4.4zM1646.6 1627.5h4.4v4.4h-4.4zM1624.6 1623.2h4.4v4.4h-4.4zM1661.4 1610.8h4.4v4.4h-4.4zM1688.1 1590.4h4.4v4.4h-4.4zM1751.3 1537.1h4.4v4.4h-4.4zM1621.8 1607.4h4.4v4.4h-4.4zM1799.5 1538.6h4.4v4.4h-4.4zM1806.3 1554.8h4.4v4.4h-4.4zM1704.7 1581.9h4.4v4.4h-4.4zM1893.1 1504.5h4.4v4.4h-4.4zM1602 1573.2h4.4v4.4h-4.4zM1877.5 1503.4h4.4v4.4h-4.4zM1593.8 1627.6h4.4v4.4h-4.4zM1791.6 1474.2h4.4v4.4h-4.4zM1695.2 1599.9h4.4v4.4h-4.4zM1757 1533.5h4.4v4.4h-4.4zM1886 1458.8h4.4v4.4h-4.4zM1673.2 1630.2h4.4v4.4h-4.4zM1777.8 1509.8h4.4v4.4h-4.4zM1722.1 1568.4h4.4v4.4h-4.4zM1883.2 1493.8h4.4v4.4h-4.4zM1693.2 1561.2h4.4v4.4h-4.4zM1705.7 1559.4h4.4v4.4h-4.4zM1776.1 1578.2h4.4v4.4h-4.4zM1900.4 1521.3h4.4v4.4h-4.4zM1685.1 1589.7h4.4v4.4h-4.4zM1647.1 1558.5h4.4v4.4h-4.4zM1669.3 1585.5h4.4v4.4h-4.4zM1777.5 1528.6h4.4v4.4h-4.4zM1734.8 1589.9h4.4v4.4h-4.4zM1591.6 1623.5h4.4v4.4h-4.4zM1726.2 1573.2h4.4v4.4h-4.4zM1634.2 1577.1h4.4v4.4h-4.4zM1889.8 1461.2h4.4v4.4h-4.4zM1876.3 1474.8h4.4v4.4h-4.4zM1821 1490.6h4.4v4.4h-4.4zM1886.2 1511.4h4.4v4.4h-4.4zM1849 1507.5h4.4v4.4h-4.4zM1746.3 1563.6h4.4v4.4h-4.4zM1727.2 1537.8h4.4v4.4h-4.4zM1694.3 1606.5h4.4v4.4h-4.4zM1680.8 1545.6h4.4v4.4h-4.4zM1635.8 1613.1h4.4v4.4h-4.4zM1854.6 1518.3h4.4v4.4h-4.4zM1628.3 1559.9h4.4v4.4h-4.4zM1763.6 1550.4h4.4v4.4h-4.4zM1752.7 1561.4h4.4v4.4h-4.4zM1698.8 1633.1h4.4v4.4h-4.4zM1731.8 1536.3h4.4v4.4h-4.4zM1754 1466.8h4.4v4.4h-4.4zM1694.4 1592.5h4.4v4.4h-4.4zM1637.4 1591.3h4.4v4.4h-4.4zM1645.5 1562.5h4.4v4.4h-4.4zM1658.2 1612.1h4.4v4.4h-4.4zM1690.6 1586.5h4.4v4.4h-4.4zM1663.2 1613.9h4.4v4.4h-4.4zM1697.3 1602.9h4.4v4.4h-4.4zM1820.3 1576.4h4.4v4.4h-4.4zM1759.5 1529.3h4.4v4.4h-4.4zM1675.8 1613.9h4.4v4.4h-4.4zM1747.4 1602h4.4v4.4h-4.4zM1691.8 1509.9h4.4v4.4h-4.4zM1674.5 1586h4.4v4.4h-4.4zM1889.9 1487.8h4.4v4.4h-4.4zM1782.9 1580.2h4.4v4.4h-4.4zM1757 1568.5h4.4v4.4h-4.4zM1790 1554.4h4.4v4.4h-4.4zM1713.2 1585.7h4.4v4.4h-4.4zM1695.2 1546.8h4.4v4.4h-4.4zM1739.2 1569h4.4v4.4h-4.4zM1910.5 1517.8h4.4v4.4h-4.4zM1792.7 1556.9h4.4v4.4h-4.4zM1826.7 1494.6h4.4v4.4h-4.4zM1675.1 1597.2h4.4v4.4h-4.4zM1731.7 1581.2h4.4v4.4h-4.4zM1937.3 1494h4.4v4.4h-4.4zM1784.8 1464.9h4.4v4.4h-4.4zM1778.4 1561.8h4.4v4.4h-4.4zM1793.7 1540.7h4.4v4.4h-4.4zM1606.7 1603.5h4.4v4.4h-4.4zM1606.3 1623.8h4.4v4.4h-4.4zM1844.5 1532.8h4.4v4.4h-4.4zM1790.6 1521.6h4.4v4.4h-4.4zM1763.7 1562.5h4.4v4.4h-4.4zM1741.7 1522.7h4.4v4.4h-4.4zM1782.6 1555.7h4.4v4.4h-4.4zM1700.8 1549.8h4.4v4.4h-4.4zM1726.5 1599.7h4.4v4.4h-4.4zM1791.4 1478.7h4.4v4.4h-4.4zM1752.5 1508h4.4v4.4h-4.4zM1920.4 1532.9h4.4v4.4h-4.4zM1688.5 1630.1h4.4v4.4h-4.4zM1936.8 1502.2h4.4v4.4h-4.4zM1696.8 1605.1h4.4v4.4h-4.4zM1675.3 1588.4h4.4v4.4h-4.4zM1610.8 1587.1h4.4v4.4h-4.4zM1823.5 1581.4h4.4v4.4h-4.4zM1723.5 1603.2h4.4v4.4h-4.4zM1648.3 1626.6h4.4v4.4h-4.4zM1679.5 1547.7h4.4v4.4h-4.4zM1773.3 1551.5h4.4v4.4h-4.4zM1633.6 1593.3h4.4v4.4h-4.4zM1719.1 1508.9h4.4v4.4h-4.4zM1690.6 1550.7h4.4v4.4h-4.4zM1594 1600.4h4.4v4.4h-4.4zM1727.3 1557.1h4.4v4.4h-4.4zM1752.6 1581.1h4.4v4.4h-4.4zM1693.3 1561.7h4.4v4.4h-4.4zM1667.2 1609.8h4.4v4.4h-4.4zM1658.4 1620.8h4.4v4.4h-4.4zM1702.7 1538.8h4.4v4.4h-4.4zM1735.8 1564.6h4.4v4.4h-4.4zM1831.6 1513.4h4.4v4.4h-4.4zM1890.5 1527.8h4.4v4.4h-4.4zM1692.4 1530.8h4.4v4.4h-4.4zM1594.9 1630.7h4.4v4.4h-4.4zM1684.1 1625.2h4.4v4.4h-4.4zM1792.2 1555.5h4.4v4.4h-4.4zM1672.8 1635.6h4.4v4.4h-4.4zM1642.3 1622.4h4.4v4.4h-4.4zM1677.3 1616.2h4.4v4.4h-4.4zM1783.7 1510.4h4.4v4.4h-4.4zM1599.4 1609.9h4.4v4.4h-4.4zM1760.8 1499.7h4.4v4.4h-4.4zM1744.7 1587.9h4.4v4.4h-4.4zM1839.8 1464.1h4.4v4.4h-4.4zM1913 1508.7h4.4v4.4h-4.4zM1682.6 1620.8h4.4v4.4h-4.4zM1816.6 1525.8h4.4v4.4h-4.4zM1646.5 1606.4h4.4v4.4h-4.4zM1733.7 1616.2h4.4v4.4h-4.4zM1618 1585.3h4.4v4.4h-4.4zM1891.8 1145.5h4.4v4.4h-4.4zM1982.6 1147.7h4.4v4.4h-4.4zM1950.1 1238h4.4v4.4h-4.4zM1915 1259h4.4v4.4h-4.4zM1901.1 1279.9h4.4v4.4h-4.4zM1936.1 1282.4h4.4v4.4h-4.4zM1880 1289.2h4.4v4.4h-4.4zM2115.8 1303.3h4.4v4.4h-4.4zM1823.9 1335.7h4.4v4.4h-4.4zM1907.9 1335.7h4.4v4.4h-4.4zM1912.6 1340.3h4.4v4.4h-4.4zM1849.7 1363.5h4.4v4.4h-4.4zM1919.7 1363.5h4.4v4.4h-4.4zM1814.6 1379.8h4.4v4.4h-4.4zM1872.9 1386.6h4.4v4.4h-4.4zM2094.5 1395.8h4.4v4.4h-4.4zM2113.4 1393.7h4.4v4.4h-4.4zM1987.3 1410h4.4v4.4h-4.4zM1740 1410h4.4v4.4h-4.4zM1749.3 1419.2h4.4v4.4h-4.4zM1761 1426h4.4v4.4h-4.4zM2031.6 1423.9h4.4v4.4h-4.4zM1814.6 1428.5h4.4v4.4h-4.4zM1819.3 1430.7h4.4v4.4h-4.4zM1994.4 1430.7h4.4v4.4h-4.4zM1968.7 1433.1h4.4v4.4h-4.4zM1800.7 1437.7h4.4v4.4h-4.4zM1823.9 1437.7h4.4v4.4h-4.4zM1802.9 1442.4h4.4v4.4h-4.4zM1877.6 1444.5h4.4v4.4h-4.4zM1912.6 1442.4h4.4v4.4h-4.4zM1950.1 1444.5h4.4v4.4h-4.4zM1793.6 1449.2h4.4v4.4h-4.4zM1985.1 1449.2h4.4v4.4h-4.4zM2106.3 1449.2h4.4v4.4h-4.4zM1964.1 1465.5h4.4v4.4h-4.4zM1973.4 1460.9h4.4v4.4h-4.4zM1987.4 1453.8h4.4v4.4h-4.4zM2106.4 1451.6h4.4v4.4h-4.4zM2031.7 1456.3h4.4v4.4h-4.4zM1966.3 1474.8h4.4v4.4h-4.4zM1978.1 1476.9h4.4v4.4h-4.4zM2027 1484h4.4v4.4h-4.4zM2038.8 1488.6h4.4v4.4h-4.4zM2031.7 1493.3h4.4v4.4h-4.4zM2015.3 1495.7h4.4v4.4h-4.4zM1989.8 1493.3h4.4v4.4h-4.4zM1999.1 1500.3h4.4v4.4h-4.4zM2031.7 1507.1h4.4v4.4h-4.4zM1964.1 1509.6h4.4v4.4h-4.4zM1996.9 1511.8h4.4v4.4h-4.4zM1975.6 1525.6h4.4v4.4h-4.4zM1992 1525.6h4.4v4.4h-4.4zM1964.1 1532.7h4.4v4.4h-4.4zM1527.6 1607.5h4.4v4.4h-4.4zM1548.9 1614.2h4.4v4.4h-4.4zM1558 1609.6h4.4v4.4h-4.4zM1569.5 1602.6h4.4v4.4h-4.4zM1574.4 1586.3h4.4v4.4h-4.4zM1560.6 1630.5h4.4v4.4h-4.4zM1576.6 1618.9h4.4v4.4h-4.4z"/>
<text class="t" y="965.5"><tspan x="1430.8" textLength="64.9" lengthAdjust="spacingAndGlyphs" font-style="italic">g_t</tspan><tspan> </tspan><tspan x="1505.4" textLength="193.8" lengthAdjust="spacingAndGlyphs">Maximum</tspan><tspan> </tspan><tspan x="1709.7" textLength="71.8" lengthAdjust="spacingAndGlyphs">and</tspan><tspan> </tspan><tspan x="1793.1" textLength="153.1" lengthAdjust="spacingAndGlyphs">Kurtosis</tspan><tspan> </tspan><tspan x="1956.8" textLength="208.2" lengthAdjust="spacingAndGlyphs">correlation</tspan></text>
<text class="a" y="0" style="font-size:36.5px" transform="translate(1226.8 1444.6) rotate(-90)"><tspan x="-1.5" textLength="134.5" lengthAdjust="spacingAndGlyphs">Kurtosis</tspan><tspan> </tspan><tspan x="142.2" textLength="89" lengthAdjust="spacingAndGlyphs">value</tspan></text>
<text class="a" y="1738.8"><tspan x="1662.9" textLength="168.7" lengthAdjust="spacingAndGlyphs">Maximum</tspan><tspan> </tspan><tspan x="1840.9" textLength="90.5" lengthAdjust="spacingAndGlyphs">value</tspan></text>
<text class="k" text-anchor="end" x="1270.1" y="1649" textLength="15.9" lengthAdjust="spacingAndGlyphs">0</text>
<text class="k" text-anchor="end" x="1270.1" y="1519.3" textLength="15.9" lengthAdjust="spacingAndGlyphs">5</text>
<text class="k" text-anchor="end" x="1270.1" y="1389.7" textLength="31.9" lengthAdjust="spacingAndGlyphs">10</text>
<text class="k" text-anchor="end" x="1270.1" y="1260" textLength="31.9" lengthAdjust="spacingAndGlyphs">15</text>
<text class="k" text-anchor="end" x="1270.1" y="1130.4" textLength="31.9" lengthAdjust="spacingAndGlyphs">20</text>
<text class="k" text-anchor="end" x="1270.1" y="1000.6" textLength="31.9" lengthAdjust="spacingAndGlyphs">25</text>
<text class="k" text-anchor="middle" x="1298.4" y="1695" textLength="15.9" lengthAdjust="spacingAndGlyphs">0</text>
<text class="k" text-anchor="middle" x="1546.9" y="1695" textLength="39.8" lengthAdjust="spacingAndGlyphs">0.5</text>
<text class="k" text-anchor="middle" x="1795.5" y="1695" textLength="15.9" lengthAdjust="spacingAndGlyphs">1</text>
<text class="k" text-anchor="middle" x="2044" y="1695" textLength="39.8" lengthAdjust="spacingAndGlyphs">1.5</text>
<text class="k" text-anchor="middle" x="2292.5" y="1695" textLength="15.9" lengthAdjust="spacingAndGlyphs">2</text>
<rect x="2020.4" y="1020.1" width="247.9" height="120.4" fill="#fdfdfd" stroke="#4d4d4d" stroke-width="2.4"/>
<text class="l" y="1060.4"><tspan x="2064.3" textLength="104.3" lengthAdjust="spacingAndGlyphs">Normal</tspan><tspan> </tspan><tspan x="2175.1" textLength="81.4" lengthAdjust="spacingAndGlyphs">signal</tspan></text>
<text class="l" y="1120.6"><tspan x="2064.3" textLength="98.3" lengthAdjust="spacingAndGlyphs">Broken</tspan><tspan> </tspan><tspan x="2170.5" textLength="81.5" lengthAdjust="spacingAndGlyphs">signal</tspan></text>
<rect x="2042.5" y="1047" width="4.4" height="4.4" fill="#9dc3e6"/>
<rect x="2042.5" y="1107.2" width="4.4" height="4.4" fill="#ed7d31"/>
</g>
</g>
</svg></body></html>
